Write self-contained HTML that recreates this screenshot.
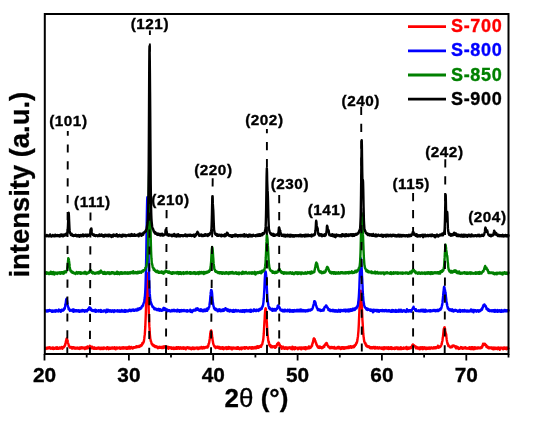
<!DOCTYPE html>
<html><head><meta charset="utf-8"><style>html,body{margin:0;padding:0;background:#fff;}svg{display:block;}</style></head>
<body><svg width="550" height="435" viewBox="0 0 550 435">
<rect width="550" height="435" fill="#fff"/>
<g><polyline fill="none" stroke="#ff0000" stroke-width="2.4" stroke-linejoin="round" points="45.00,348.3 45.17,348.4 45.34,348.1 45.51,347.9 45.68,348.0 45.85,347.8 46.02,348.3 46.19,348.9 46.36,348.0 46.53,348.0 46.70,348.5 46.87,348.4 47.04,348.3 47.21,347.8 47.38,348.2 47.55,348.6 47.72,347.6 47.89,348.0 48.06,347.4 48.23,347.7 48.40,347.4 48.57,348.1 48.74,347.7 48.91,348.4 49.08,348.3 49.25,348.2 49.42,347.1 49.59,348.0 49.76,348.2 49.93,348.3 50.10,347.5 50.27,348.0 50.44,347.8 50.61,347.9 50.78,348.7 50.95,347.9 51.12,348.2 51.29,348.6 51.46,348.0 51.63,348.2 51.80,348.3 51.97,348.2 52.14,347.7 52.31,348.2 52.48,348.8 52.65,347.5 52.82,348.6 52.99,348.3 53.16,347.9 53.33,349.1 53.50,348.5 53.67,347.7 53.84,348.2 54.01,348.5 54.18,348.1 54.35,348.5 54.52,348.2 54.69,348.5 54.86,348.8 55.03,347.9 55.20,348.3 55.37,348.0 55.54,348.2 55.71,347.6 55.88,347.9 56.05,348.1 56.22,348.6 56.39,348.7 56.56,347.6 56.73,347.8 56.90,348.4 57.07,347.2 57.24,347.9 57.41,348.1 57.58,348.7 57.75,348.4 57.92,348.0 58.09,347.9 58.26,348.0 58.43,348.8 58.60,347.9 58.77,347.9 58.94,348.2 59.11,348.0 59.28,348.0 59.45,347.5 59.62,348.0 59.79,347.8 59.96,348.5 60.13,348.3 60.30,348.0 60.47,348.3 60.64,347.8 60.81,348.4 60.98,347.9 61.15,348.2 61.32,347.3 61.49,348.0 61.66,347.1 61.83,346.9 62.00,347.6 62.17,347.3 62.34,347.8 62.51,348.7 62.68,347.3 62.85,347.3 63.02,347.6 63.19,347.7 63.36,347.3 63.53,347.2 63.70,347.5 63.87,347.3 64.04,346.5 64.21,346.8 64.38,346.6 64.55,345.8 64.72,346.1 64.89,345.2 65.06,345.6 65.23,344.7 65.40,344.1 65.57,343.1 65.74,342.6 65.91,341.1 66.08,340.7 66.25,340.7 66.42,339.0 66.59,339.9 66.76,338.5 66.93,339.6 67.10,339.1 67.27,340.3 67.44,340.5 67.61,340.4 67.78,342.4 67.95,343.2 68.12,343.2 68.29,343.8 68.46,344.5 68.63,344.6 68.80,346.0 68.97,345.7 69.14,346.2 69.31,346.2 69.48,346.5 69.65,346.4 69.82,347.6 69.99,347.1 70.16,347.7 70.33,347.4 70.50,347.1 70.67,347.4 70.84,347.3 71.01,347.6 71.18,347.5 71.35,347.6 71.52,347.1 71.69,347.4 71.86,348.5 72.03,347.5 72.20,347.4 72.37,348.0 72.54,348.5 72.71,347.2 72.88,347.8 73.05,347.7 73.22,347.2 73.39,348.3 73.56,348.0 73.73,348.0 73.90,347.7 74.07,348.2 74.24,347.8 74.41,348.0 74.58,347.5 74.75,347.5 74.92,348.7 75.09,347.8 75.26,348.2 75.43,348.1 75.60,347.9 75.77,347.9 75.94,348.4 76.11,348.0 76.28,348.0 76.45,348.1 76.62,348.6 76.79,348.4 76.96,348.3 77.13,347.9 77.30,347.5 77.47,348.6 77.64,348.6 77.81,348.1 77.98,348.4 78.15,348.5 78.32,348.5 78.49,348.6 78.66,347.9 78.83,348.8 79.00,347.6 79.17,348.5 79.34,348.4 79.51,348.6 79.68,349.0 79.85,348.8 80.02,347.6 80.19,347.4 80.36,348.5 80.53,347.7 80.70,348.2 80.87,348.5 81.04,347.4 81.21,347.2 81.38,348.3 81.55,348.2 81.72,348.1 81.89,348.2 82.06,347.8 82.23,347.5 82.40,348.1 82.57,347.7 82.74,347.4 82.91,348.4 83.08,348.1 83.25,348.3 83.42,347.7 83.59,347.9 83.76,347.7 83.93,347.8 84.10,348.2 84.27,347.8 84.44,348.3 84.61,348.3 84.78,349.0 84.95,347.5 85.12,348.5 85.29,348.1 85.46,348.1 85.63,347.5 85.80,347.9 85.97,348.4 86.14,348.0 86.31,348.1 86.48,347.9 86.65,348.6 86.82,348.0 86.99,347.0 87.16,347.7 87.33,347.1 87.50,346.4 87.67,347.6 87.84,348.4 88.01,347.7 88.18,347.1 88.35,347.1 88.52,347.8 88.69,347.2 88.86,347.0 89.03,346.7 89.20,346.6 89.37,346.8 89.54,346.5 89.71,346.3 89.88,345.8 90.05,346.6 90.22,346.2 90.39,347.1 90.56,346.3 90.73,347.0 90.90,347.2 91.07,346.8 91.24,348.3 91.41,348.3 91.58,347.5 91.75,348.2 91.92,348.0 92.09,346.7 92.26,348.1 92.43,348.0 92.60,348.1 92.77,347.6 92.94,347.9 93.11,348.0 93.28,348.6 93.45,348.2 93.62,348.1 93.79,348.8 93.96,347.9 94.13,347.9 94.30,347.3 94.47,348.8 94.64,348.6 94.81,348.6 94.98,348.5 95.15,348.2 95.32,348.3 95.49,348.0 95.66,348.1 95.83,348.2 96.00,348.9 96.17,348.4 96.34,348.2 96.51,347.9 96.68,347.9 96.85,348.9 97.02,348.4 97.19,348.2 97.36,348.0 97.53,347.7 97.70,348.2 97.87,348.6 98.04,348.0 98.21,348.1 98.38,348.1 98.55,348.2 98.72,347.5 98.89,348.1 99.06,347.8 99.23,348.6 99.40,347.9 99.57,348.5 99.74,348.9 99.91,348.1 100.08,347.9 100.25,348.3 100.42,348.2 100.59,347.8 100.76,348.4 100.93,349.1 101.10,348.1 101.27,348.1 101.44,347.7 101.61,348.3 101.78,347.6 101.95,347.7 102.12,348.8 102.29,347.8 102.46,348.7 102.63,348.9 102.80,348.3 102.97,348.5 103.14,349.1 103.31,348.1 103.48,347.9 103.65,347.6 103.82,348.2 103.99,348.9 104.16,348.6 104.33,347.8 104.50,347.8 104.67,348.0 104.84,348.3 105.01,348.1 105.18,348.3 105.35,348.3 105.52,348.1 105.69,348.2 105.86,348.3 106.03,348.2 106.20,348.4 106.37,349.0 106.54,348.5 106.71,348.2 106.88,347.4 107.05,348.4 107.22,347.3 107.39,347.6 107.56,348.6 107.73,348.5 107.90,348.1 108.07,347.4 108.24,348.0 108.41,347.9 108.58,348.5 108.75,349.2 108.92,348.3 109.09,347.8 109.26,347.7 109.43,348.2 109.60,348.1 109.77,347.7 109.94,348.2 110.11,347.7 110.28,348.7 110.45,348.7 110.62,348.7 110.79,348.0 110.96,348.4 111.13,348.1 111.30,348.0 111.47,348.0 111.64,347.6 111.81,347.5 111.98,348.5 112.15,348.1 112.32,348.3 112.49,348.6 112.66,347.4 112.83,347.8 113.00,348.3 113.17,348.4 113.34,348.0 113.51,348.6 113.68,348.3 113.85,347.6 114.02,347.8 114.19,348.5 114.36,348.4 114.53,347.3 114.70,348.8 114.87,348.4 115.04,348.8 115.21,348.0 115.38,348.0 115.55,347.7 115.72,349.3 115.89,348.1 116.06,348.9 116.23,347.9 116.40,348.2 116.57,347.4 116.74,348.0 116.91,348.6 117.08,347.6 117.25,348.6 117.42,348.3 117.59,347.7 117.76,347.9 117.93,347.9 118.10,348.1 118.27,347.9 118.44,347.8 118.61,348.0 118.78,347.7 118.95,347.6 119.12,348.1 119.29,348.5 119.46,347.4 119.63,348.1 119.80,347.8 119.97,347.7 120.14,348.5 120.31,347.9 120.48,348.8 120.65,347.8 120.82,348.3 120.99,348.0 121.16,347.8 121.33,348.4 121.50,348.0 121.67,348.4 121.84,348.1 122.01,347.6 122.18,348.0 122.35,348.1 122.52,348.5 122.69,347.7 122.86,348.1 123.03,347.3 123.20,348.4 123.37,347.6 123.54,347.3 123.71,348.0 123.88,348.6 124.05,347.4 124.22,347.6 124.39,347.7 124.56,347.5 124.73,348.2 124.90,347.7 125.07,347.7 125.24,348.3 125.41,347.7 125.58,348.2 125.75,347.6 125.92,347.5 126.09,347.2 126.26,348.9 126.43,347.9 126.60,348.1 126.77,348.0 126.94,348.1 127.11,348.0 127.28,348.8 127.45,347.5 127.62,347.3 127.79,347.5 127.96,347.4 128.13,348.3 128.30,348.3 128.47,347.5 128.64,347.3 128.81,347.8 128.98,348.6 129.15,346.7 129.32,348.2 129.49,347.4 129.66,348.4 129.83,347.4 130.00,347.8 130.17,347.2 130.34,347.4 130.51,348.5 130.68,348.2 130.85,347.7 131.02,347.5 131.19,347.0 131.36,347.6 131.53,347.8 131.70,347.8 131.87,347.8 132.04,347.3 132.21,347.7 132.38,347.7 132.55,348.3 132.72,348.6 132.89,347.7 133.06,347.4 133.23,347.7 133.40,347.4 133.57,347.3 133.74,347.6 133.91,347.2 134.08,347.9 134.25,347.6 134.42,347.7 134.59,347.5 134.76,347.2 134.93,347.1 135.10,347.4 135.27,347.2 135.44,347.6 135.61,347.4 135.78,346.8 135.95,347.4 136.12,346.8 136.29,347.1 136.46,347.2 136.63,346.3 136.80,347.3 136.97,347.3 137.14,347.1 137.31,347.0 137.48,346.9 137.65,346.6 137.82,346.9 137.99,346.7 138.16,347.0 138.33,346.4 138.50,346.9 138.67,346.9 138.84,346.7 139.01,346.5 139.18,346.9 139.35,345.8 139.52,346.7 139.69,346.5 139.86,346.4 140.03,346.4 140.20,345.8 140.37,345.9 140.54,346.2 140.71,346.0 140.88,345.8 141.05,344.9 141.22,345.7 141.39,345.8 141.56,345.6 141.73,345.1 141.90,344.1 142.07,345.0 142.24,344.3 142.41,343.0 142.58,344.1 142.75,343.0 142.92,342.7 143.09,342.7 143.26,343.2 143.43,342.0 143.60,341.8 143.77,341.9 143.94,341.1 144.11,339.6 144.28,338.5 144.45,336.9 144.62,335.7 144.79,334.4 144.96,332.2 145.13,329.4 145.30,326.7 145.47,322.2 145.64,318.3 145.81,313.8 145.98,308.4 146.15,302.9 146.32,296.5 146.49,290.2 146.66,284.8 146.83,279.3 147.00,275.3 147.17,274.1 147.34,273.3 147.51,274.6 147.68,276.4 147.85,280.9 148.02,285.8 148.19,291.2 148.36,296.5 148.53,303.2 148.70,309.3 148.87,314.3 149.04,318.6 149.21,323.0 149.38,326.9 149.55,328.4 149.72,332.1 149.89,334.5 150.06,336.3 150.23,338.2 150.40,339.2 150.57,339.8 150.74,340.6 150.91,341.5 151.08,341.4 151.25,342.2 151.42,343.0 151.59,343.9 151.76,343.3 151.93,343.6 152.10,344.0 152.27,344.8 152.44,344.4 152.61,345.3 152.78,344.4 152.95,344.9 153.12,345.1 153.29,345.7 153.46,345.9 153.63,344.9 153.80,345.3 153.97,346.0 154.14,345.6 154.31,345.4 154.48,346.6 154.65,346.4 154.82,346.5 154.99,346.2 155.16,346.9 155.33,346.4 155.50,347.1 155.67,346.2 155.84,346.3 156.01,346.9 156.18,346.5 156.35,347.2 156.52,347.0 156.69,346.5 156.86,347.0 157.03,346.9 157.20,347.5 157.37,346.8 157.54,346.9 157.71,347.7 157.88,348.2 158.05,348.1 158.22,347.3 158.39,347.4 158.56,348.0 158.73,347.3 158.90,346.9 159.07,347.4 159.24,347.6 159.41,347.0 159.58,346.7 159.75,346.8 159.92,347.8 160.09,347.1 160.26,347.4 160.43,347.6 160.60,347.8 160.77,347.4 160.94,347.7 161.11,347.1 161.28,347.4 161.45,347.1 161.62,348.0 161.79,347.5 161.96,347.2 162.13,347.3 162.30,347.3 162.47,347.7 162.64,346.6 162.81,346.7 162.98,346.9 163.15,348.1 163.32,347.3 163.49,346.6 163.66,346.9 163.83,347.4 164.00,346.3 164.17,346.2 164.34,346.9 164.51,346.7 164.68,346.8 164.85,346.4 165.02,347.7 165.19,347.7 165.36,347.3 165.53,347.5 165.70,346.4 165.87,347.7 166.04,347.4 166.21,347.8 166.38,348.0 166.55,347.6 166.72,347.0 166.89,347.9 167.06,347.5 167.23,347.7 167.40,347.6 167.57,347.7 167.74,346.8 167.91,348.4 168.08,348.0 168.25,348.4 168.42,348.8 168.59,347.9 168.76,347.1 168.93,347.5 169.10,347.4 169.27,347.7 169.44,348.0 169.61,347.1 169.78,348.1 169.95,347.3 170.12,348.1 170.29,347.9 170.46,347.9 170.63,348.0 170.80,347.8 170.97,347.7 171.14,347.3 171.31,348.0 171.48,348.9 171.65,348.9 171.82,348.6 171.99,348.4 172.16,347.7 172.33,348.7 172.50,348.0 172.67,348.0 172.84,347.9 173.01,348.1 173.18,347.9 173.35,348.0 173.52,347.6 173.69,347.9 173.86,349.1 174.03,348.0 174.20,348.0 174.37,348.3 174.54,348.4 174.71,347.6 174.88,348.0 175.05,348.5 175.22,348.2 175.39,348.2 175.56,348.8 175.73,347.8 175.90,348.1 176.07,347.9 176.24,348.8 176.41,347.2 176.58,347.8 176.75,347.9 176.92,348.4 177.09,348.4 177.26,348.7 177.43,347.4 177.60,348.5 177.77,348.0 177.94,347.8 178.11,348.4 178.28,347.7 178.45,347.2 178.62,348.0 178.79,347.5 178.96,347.8 179.13,348.3 179.30,348.3 179.47,348.8 179.64,348.0 179.81,347.4 179.98,347.8 180.15,347.7 180.32,347.6 180.49,348.3 180.66,347.8 180.83,347.3 181.00,348.5 181.17,348.1 181.34,348.3 181.51,348.2 181.68,348.4 181.85,348.2 182.02,348.7 182.19,348.3 182.36,348.3 182.53,348.3 182.70,347.5 182.87,348.1 183.04,348.0 183.21,348.2 183.38,347.5 183.55,348.9 183.72,348.2 183.89,347.6 184.06,347.4 184.23,348.0 184.40,348.1 184.57,347.8 184.74,348.2 184.91,347.9 185.08,348.4 185.25,347.8 185.42,348.1 185.59,348.6 185.76,349.3 185.93,347.7 186.10,347.9 186.27,347.8 186.44,348.5 186.61,347.6 186.78,347.9 186.95,348.1 187.12,347.7 187.29,347.7 187.46,347.9 187.63,347.2 187.80,347.5 187.97,348.0 188.14,348.2 188.31,348.1 188.48,347.4 188.65,347.9 188.82,348.5 188.99,348.4 189.16,348.1 189.33,347.8 189.50,348.4 189.67,347.9 189.84,347.6 190.01,347.8 190.18,348.8 190.35,348.2 190.52,348.7 190.69,347.9 190.86,348.6 191.03,347.9 191.20,348.1 191.37,349.3 191.54,348.5 191.71,347.9 191.88,348.1 192.05,348.3 192.22,348.7 192.39,347.9 192.56,347.4 192.73,348.0 192.90,348.1 193.07,348.2 193.24,348.7 193.41,348.3 193.58,348.5 193.75,347.6 193.92,348.5 194.09,349.1 194.26,348.5 194.43,348.2 194.60,348.2 194.77,348.9 194.94,347.7 195.11,348.1 195.28,348.3 195.45,348.4 195.62,347.9 195.79,348.2 195.96,348.0 196.13,348.2 196.30,348.0 196.47,347.6 196.64,348.1 196.81,348.5 196.98,347.7 197.15,348.0 197.32,348.4 197.49,347.6 197.66,348.2 197.83,347.6 198.00,348.6 198.17,349.1 198.34,349.0 198.51,348.0 198.68,348.4 198.85,348.1 199.02,348.1 199.19,348.7 199.36,347.4 199.53,348.5 199.70,348.0 199.87,348.6 200.04,348.1 200.21,347.7 200.38,348.1 200.55,348.3 200.72,348.0 200.89,348.2 201.06,347.7 201.23,347.0 201.40,348.4 201.57,348.3 201.74,348.0 201.91,347.9 202.08,348.4 202.25,347.7 202.42,347.6 202.59,347.8 202.76,348.4 202.93,347.2 203.10,348.4 203.27,347.5 203.44,347.3 203.61,348.3 203.78,347.7 203.95,347.1 204.12,347.5 204.29,348.1 204.46,348.2 204.63,347.4 204.80,347.8 204.97,347.9 205.14,347.2 205.31,347.7 205.48,347.4 205.65,347.2 205.82,347.1 205.99,347.3 206.16,347.3 206.33,346.9 206.50,346.9 206.67,347.6 206.84,347.1 207.01,347.3 207.18,347.3 207.35,346.9 207.52,347.5 207.69,346.0 207.86,346.5 208.03,345.8 208.20,346.5 208.37,346.0 208.54,343.9 208.71,343.9 208.88,344.0 209.05,343.3 209.22,342.3 209.39,341.0 209.56,340.0 209.73,338.9 209.90,337.2 210.07,336.3 210.24,333.4 210.41,333.4 210.58,331.6 210.75,331.7 210.92,330.7 211.09,330.4 211.26,331.2 211.43,331.2 211.60,332.0 211.77,332.8 211.94,334.7 212.11,336.3 212.28,337.8 212.45,338.6 212.62,340.4 212.79,341.0 212.96,342.0 213.13,343.1 213.30,344.1 213.47,344.1 213.64,344.7 213.81,345.1 213.98,345.6 214.15,345.5 214.32,346.6 214.49,346.2 214.66,346.7 214.83,346.3 215.00,346.9 215.17,347.1 215.34,346.8 215.51,348.0 215.68,347.3 215.85,348.0 216.02,347.7 216.19,347.0 216.36,347.2 216.53,347.6 216.70,347.5 216.87,347.5 217.04,347.4 217.21,346.8 217.38,347.5 217.55,346.6 217.72,347.8 217.89,347.4 218.06,347.4 218.23,347.6 218.40,347.9 218.57,347.1 218.74,347.0 218.91,347.3 219.08,346.9 219.25,347.4 219.42,348.6 219.59,347.4 219.76,348.2 219.93,347.3 220.10,348.0 220.27,347.8 220.44,347.9 220.61,348.2 220.78,348.7 220.95,348.0 221.12,348.0 221.29,347.5 221.46,348.2 221.63,347.9 221.80,348.4 221.97,348.0 222.14,348.8 222.31,347.1 222.48,347.9 222.65,348.4 222.82,347.9 222.99,347.7 223.16,347.9 223.33,347.4 223.50,348.1 223.67,349.2 223.84,348.6 224.01,347.6 224.18,347.7 224.35,347.9 224.52,348.5 224.69,347.7 224.86,347.8 225.03,348.5 225.20,348.5 225.37,347.9 225.54,347.6 225.71,347.4 225.88,347.8 226.05,347.1 226.22,348.4 226.39,347.8 226.56,348.3 226.73,349.0 226.90,348.6 227.07,347.6 227.24,348.5 227.41,348.6 227.58,347.8 227.75,347.7 227.92,348.1 228.09,347.4 228.26,348.8 228.43,347.0 228.60,347.6 228.77,348.0 228.94,348.0 229.11,348.2 229.28,348.3 229.45,348.0 229.62,348.6 229.79,347.2 229.96,348.1 230.13,347.8 230.30,348.2 230.47,348.2 230.64,347.7 230.81,347.9 230.98,348.5 231.15,348.3 231.32,347.8 231.49,349.1 231.66,349.2 231.83,347.5 232.00,348.3 232.17,349.3 232.34,348.5 232.51,348.2 232.68,348.1 232.85,347.9 233.02,348.1 233.19,347.9 233.36,348.5 233.53,348.0 233.70,348.0 233.87,347.6 234.04,348.1 234.21,347.7 234.38,348.1 234.55,348.6 234.72,348.3 234.89,348.4 235.06,348.3 235.23,348.2 235.40,348.1 235.57,348.0 235.74,348.5 235.91,347.7 236.08,348.8 236.25,348.2 236.42,347.8 236.59,347.9 236.76,347.8 236.93,348.2 237.10,347.8 237.27,348.7 237.44,347.8 237.61,347.1 237.78,347.8 237.95,347.2 238.12,348.1 238.29,348.6 238.46,348.4 238.63,347.5 238.80,347.8 238.97,348.9 239.14,348.3 239.31,348.1 239.48,348.6 239.65,349.2 239.82,348.7 239.99,348.2 240.16,348.3 240.33,348.4 240.50,347.9 240.67,347.7 240.84,348.2 241.01,347.7 241.18,348.1 241.35,348.2 241.52,349.2 241.69,347.7 241.86,348.1 242.03,348.0 242.20,348.3 242.37,348.6 242.54,347.9 242.71,347.7 242.88,347.4 243.05,347.7 243.22,348.4 243.39,348.1 243.56,347.7 243.73,347.9 243.90,348.1 244.07,348.3 244.24,347.8 244.41,348.0 244.58,347.3 244.75,347.6 244.92,348.8 245.09,347.1 245.26,347.9 245.43,348.2 245.60,347.9 245.77,347.7 245.94,348.0 246.11,348.1 246.28,348.0 246.45,347.2 246.62,348.0 246.79,347.7 246.96,347.8 247.13,348.2 247.30,348.3 247.47,348.5 247.64,347.8 247.81,348.5 247.98,348.6 248.15,348.5 248.32,348.7 248.49,348.0 248.66,347.9 248.83,348.4 249.00,347.4 249.17,348.1 249.34,347.8 249.51,347.8 249.68,347.2 249.85,347.6 250.02,348.0 250.19,348.4 250.36,348.4 250.53,347.9 250.70,347.9 250.87,347.6 251.04,348.1 251.21,347.8 251.38,348.2 251.55,348.7 251.72,347.9 251.89,347.2 252.06,347.5 252.23,347.2 252.40,347.3 252.57,348.5 252.74,348.0 252.91,347.2 253.08,348.1 253.25,348.4 253.42,347.7 253.59,347.5 253.76,347.6 253.93,347.9 254.10,348.1 254.27,348.3 254.44,348.3 254.61,348.3 254.78,348.3 254.95,348.0 255.12,347.0 255.29,347.6 255.46,347.8 255.63,347.4 255.80,348.0 255.97,347.4 256.14,347.1 256.31,348.2 256.48,347.8 256.65,347.6 256.82,347.9 256.99,347.9 257.16,347.5 257.33,346.2 257.50,347.0 257.67,347.1 257.84,346.8 258.01,347.3 258.18,347.7 258.35,346.9 258.52,346.5 258.69,347.9 258.86,346.7 259.03,346.3 259.20,346.9 259.37,346.9 259.54,346.4 259.71,346.9 259.88,346.3 260.05,346.0 260.22,346.4 260.39,346.5 260.56,345.8 260.73,346.1 260.90,345.8 261.07,346.9 261.24,345.1 261.41,345.9 261.58,345.0 261.75,344.7 261.92,344.8 262.09,344.6 262.26,344.3 262.43,343.4 262.60,342.4 262.77,341.7 262.94,341.3 263.11,340.2 263.28,339.3 263.45,337.3 263.62,335.7 263.79,333.7 263.96,330.7 264.13,327.2 264.30,324.4 264.47,321.1 264.64,319.3 264.81,315.1 264.98,313.3 265.15,310.8 265.32,309.8 265.49,308.7 265.66,308.3 265.83,309.0 266.00,310.5 266.17,312.4 266.34,314.4 266.51,317.2 266.68,320.8 266.85,322.2 267.02,326.0 267.19,328.2 267.36,331.3 267.53,333.8 267.70,335.5 267.87,337.6 268.04,338.0 268.21,340.5 268.38,340.7 268.55,342.2 268.72,342.7 268.89,342.0 269.06,343.4 269.23,344.2 269.40,345.2 269.57,344.9 269.74,345.1 269.91,344.6 270.08,346.1 270.25,346.4 270.42,345.7 270.59,345.8 270.76,345.3 270.93,346.5 271.10,347.4 271.27,346.6 271.44,347.0 271.61,346.7 271.78,346.1 271.95,347.2 272.12,346.1 272.29,346.6 272.46,346.9 272.63,347.2 272.80,347.1 272.97,347.1 273.14,346.6 273.31,346.4 273.48,347.0 273.65,346.7 273.82,346.4 273.99,346.5 274.16,346.8 274.33,346.2 274.50,346.4 274.67,346.3 274.84,347.1 275.01,347.2 275.18,347.9 275.35,346.2 275.52,346.5 275.69,347.1 275.86,346.5 276.03,346.3 276.20,347.0 276.37,345.9 276.54,345.3 276.71,344.9 276.88,345.3 277.05,345.0 277.22,343.9 277.39,343.7 277.56,344.1 277.73,343.9 277.90,343.1 278.07,343.6 278.24,343.6 278.41,342.6 278.58,343.5 278.75,344.0 278.92,343.8 279.09,343.4 279.26,344.5 279.43,345.3 279.60,346.0 279.77,344.7 279.94,347.1 280.11,345.7 280.28,346.9 280.45,347.2 280.62,347.3 280.79,347.1 280.96,346.6 281.13,347.5 281.30,347.0 281.47,346.3 281.64,348.8 281.81,347.9 281.98,348.4 282.15,347.2 282.32,348.3 282.49,348.4 282.66,348.4 282.83,347.7 283.00,347.2 283.17,347.7 283.34,346.8 283.51,347.0 283.68,347.9 283.85,347.4 284.02,347.8 284.19,347.8 284.36,348.8 284.53,348.5 284.70,347.9 284.87,348.5 285.04,347.6 285.21,347.8 285.38,348.4 285.55,347.4 285.72,347.8 285.89,347.4 286.06,348.0 286.23,348.7 286.40,347.6 286.57,348.1 286.74,347.6 286.91,347.5 287.08,347.5 287.25,348.7 287.42,349.1 287.59,348.2 287.76,347.7 287.93,348.3 288.10,347.9 288.27,348.4 288.44,348.2 288.61,348.2 288.78,348.3 288.95,347.8 289.12,347.9 289.29,347.3 289.46,347.9 289.63,347.4 289.80,348.0 289.97,347.6 290.14,348.1 290.31,348.3 290.48,347.4 290.65,347.7 290.82,347.7 290.99,348.4 291.16,348.9 291.33,348.5 291.50,347.9 291.67,348.7 291.84,347.4 292.01,348.8 292.18,347.8 292.35,346.8 292.52,349.3 292.69,348.8 292.86,347.6 293.03,348.2 293.20,348.0 293.37,348.1 293.54,347.4 293.71,347.8 293.88,348.3 294.05,348.2 294.22,348.6 294.39,348.1 294.56,349.2 294.73,347.8 294.90,348.2 295.07,347.2 295.24,347.5 295.41,348.7 295.58,347.7 295.75,348.3 295.92,348.1 296.09,347.6 296.26,348.0 296.43,347.9 296.60,347.9 296.77,348.4 296.94,348.4 297.11,347.8 297.28,347.7 297.45,348.2 297.62,348.1 297.79,348.6 297.96,349.3 298.13,348.5 298.30,348.1 298.47,348.0 298.64,347.7 298.81,347.7 298.98,347.6 299.15,347.9 299.32,347.9 299.49,348.4 299.66,347.9 299.83,348.0 300.00,347.5 300.17,348.8 300.34,348.3 300.51,348.9 300.68,348.4 300.85,348.8 301.02,348.0 301.19,348.4 301.36,349.3 301.53,347.5 301.70,348.6 301.87,348.8 302.04,348.3 302.21,348.4 302.38,348.6 302.55,347.8 302.72,348.2 302.89,347.7 303.06,347.7 303.23,347.8 303.40,348.0 303.57,348.1 303.74,348.2 303.91,347.4 304.08,348.9 304.25,348.5 304.42,348.3 304.59,347.8 304.76,348.0 304.93,348.2 305.10,348.2 305.27,347.2 305.44,348.3 305.61,349.3 305.78,347.1 305.95,348.4 306.12,348.1 306.29,347.9 306.46,348.5 306.63,347.4 306.80,348.0 306.97,348.6 307.14,347.8 307.31,347.7 307.48,347.9 307.65,347.6 307.82,348.5 307.99,347.4 308.16,348.2 308.33,347.2 308.50,348.0 308.67,347.6 308.84,346.5 309.01,347.6 309.18,347.1 309.35,347.3 309.52,348.2 309.69,346.9 309.86,346.9 310.03,348.0 310.20,347.3 310.37,347.9 310.54,347.3 310.71,346.6 310.88,346.8 311.05,347.3 311.22,347.0 311.39,346.3 311.56,346.1 311.73,345.7 311.90,345.1 312.07,345.8 312.24,344.5 312.41,343.4 312.58,343.1 312.75,343.1 312.92,342.4 313.09,341.3 313.26,340.4 313.43,340.1 313.60,338.8 313.77,338.5 313.94,339.2 314.11,338.4 314.28,338.8 314.45,339.4 314.62,339.3 314.79,339.4 314.96,340.8 315.13,340.6 315.30,340.7 315.47,341.8 315.64,342.3 315.81,342.3 315.98,343.3 316.15,343.8 316.32,343.4 316.49,344.7 316.66,345.1 316.83,345.4 317.00,345.1 317.17,346.0 317.34,346.4 317.51,346.6 317.68,346.2 317.85,347.2 318.02,346.4 318.19,347.0 318.36,347.8 318.53,346.9 318.70,347.0 318.87,347.8 319.04,347.2 319.21,347.3 319.38,347.5 319.55,347.9 319.72,346.5 319.89,347.1 320.06,347.1 320.23,347.0 320.40,347.1 320.57,347.2 320.74,347.7 320.91,347.1 321.08,347.6 321.25,347.7 321.42,347.2 321.59,347.6 321.76,348.3 321.93,347.7 322.10,347.2 322.27,347.4 322.44,347.0 322.61,347.5 322.78,347.7 322.95,346.8 323.12,347.0 323.29,347.5 323.46,346.7 323.63,346.8 323.80,346.1 323.97,346.0 324.14,345.9 324.31,346.8 324.48,345.4 324.65,345.0 324.82,344.7 324.99,344.6 325.16,344.6 325.33,344.2 325.50,344.8 325.67,343.8 325.84,344.2 326.01,343.7 326.18,343.9 326.35,343.0 326.52,343.8 326.69,344.0 326.86,344.1 327.03,343.5 327.20,345.2 327.37,344.9 327.54,345.2 327.71,345.5 327.88,345.8 328.05,346.3 328.22,345.8 328.39,346.2 328.56,346.9 328.73,347.0 328.90,346.9 329.07,347.0 329.24,346.9 329.41,347.4 329.58,348.0 329.75,347.1 329.92,348.3 330.09,348.0 330.26,347.5 330.43,348.1 330.60,347.1 330.77,347.0 330.94,347.2 331.11,347.6 331.28,347.7 331.45,347.6 331.62,347.9 331.79,346.9 331.96,348.1 332.13,347.2 332.30,347.6 332.47,347.7 332.64,347.4 332.81,347.3 332.98,347.5 333.15,347.9 333.32,348.2 333.49,348.2 333.66,347.5 333.83,347.6 334.00,347.5 334.17,348.2 334.34,347.0 334.51,348.5 334.68,347.8 334.85,347.6 335.02,348.1 335.19,348.4 335.36,348.1 335.53,348.5 335.70,348.0 335.87,348.5 336.04,348.5 336.21,347.9 336.38,348.6 336.55,348.1 336.72,348.0 336.89,347.6 337.06,347.9 337.23,348.3 337.40,347.4 337.57,348.3 337.74,348.1 337.91,348.1 338.08,347.0 338.25,347.9 338.42,348.3 338.59,347.6 338.76,348.0 338.93,346.9 339.10,348.3 339.27,347.7 339.44,348.4 339.61,347.1 339.78,348.3 339.95,347.9 340.12,348.3 340.29,347.5 340.46,347.7 340.63,349.0 340.80,347.6 340.97,347.6 341.14,347.8 341.31,347.5 341.48,348.5 341.65,348.7 341.82,347.6 341.99,347.2 342.16,348.5 342.33,348.4 342.50,348.3 342.67,348.4 342.84,347.5 343.01,347.8 343.18,347.3 343.35,347.3 343.52,348.3 343.69,347.6 343.86,348.9 344.03,347.9 344.20,347.6 344.37,348.2 344.54,348.7 344.71,348.1 344.88,347.3 345.05,348.0 345.22,348.4 345.39,347.6 345.56,347.4 345.73,348.2 345.90,347.8 346.07,347.3 346.24,347.6 346.41,347.4 346.58,347.9 346.75,347.8 346.92,348.2 347.09,348.0 347.26,347.0 347.43,347.9 347.60,348.1 347.77,347.8 347.94,348.1 348.11,347.4 348.28,347.2 348.45,348.0 348.62,347.1 348.79,346.6 348.96,348.0 349.13,347.2 349.30,347.3 349.47,346.8 349.64,346.8 349.81,346.9 349.98,347.2 350.15,347.5 350.32,346.3 350.49,347.6 350.66,346.7 350.83,346.8 351.00,347.5 351.17,347.1 351.34,346.4 351.51,347.9 351.68,346.7 351.85,347.1 352.02,347.1 352.19,347.5 352.36,346.7 352.53,347.3 352.70,346.4 352.87,347.2 353.04,346.3 353.21,346.4 353.38,347.3 353.55,346.5 353.72,346.4 353.89,347.2 354.06,346.3 354.23,345.7 354.40,346.3 354.57,345.3 354.74,346.2 354.91,346.1 355.08,345.1 355.25,344.9 355.42,345.1 355.59,344.9 355.76,344.2 355.93,344.7 356.10,343.2 356.27,343.7 356.44,343.4 356.61,343.1 356.78,342.9 356.95,341.7 357.12,341.9 357.29,340.9 357.46,339.8 357.63,338.4 357.80,337.2 357.97,336.4 358.14,334.0 358.31,332.3 358.48,330.3 358.65,327.4 358.82,324.4 358.99,319.9 359.16,315.7 359.33,312.4 359.50,307.8 359.67,303.9 359.84,299.3 360.01,296.3 360.18,293.4 360.35,291.5 360.52,290.6 360.69,290.6 360.86,291.4 361.03,293.0 361.20,295.4 361.37,297.2 361.54,301.1 361.71,303.6 361.88,307.6 362.05,310.9 362.22,314.6 362.39,319.3 362.56,321.7 362.73,324.4 362.90,327.6 363.07,330.4 363.24,333.8 363.41,334.9 363.58,336.9 363.75,337.4 363.92,339.3 364.09,340.4 364.26,341.8 364.43,341.4 364.60,342.6 364.77,343.0 364.94,342.8 365.11,343.6 365.28,343.8 365.45,343.2 365.62,344.8 365.79,345.0 365.96,344.7 366.13,344.5 366.30,346.0 366.47,345.6 366.64,346.1 366.81,346.4 366.98,345.6 367.15,346.3 367.32,346.0 367.49,346.2 367.66,346.2 367.83,346.4 368.00,346.9 368.17,346.6 368.34,346.5 368.51,346.5 368.68,346.9 368.85,346.4 369.02,346.6 369.19,346.9 369.36,346.7 369.53,346.9 369.70,346.8 369.87,348.0 370.04,347.7 370.21,347.4 370.38,347.2 370.55,348.2 370.72,347.4 370.89,347.3 371.06,347.5 371.23,347.5 371.40,348.0 371.57,347.4 371.74,348.4 371.91,347.1 372.08,347.8 372.25,347.1 372.42,348.4 372.59,347.4 372.76,347.5 372.93,348.0 373.10,348.2 373.27,347.1 373.44,347.5 373.61,347.0 373.78,347.7 373.95,347.6 374.12,347.5 374.29,347.4 374.46,347.6 374.63,347.4 374.80,348.0 374.97,348.5 375.14,346.9 375.31,347.7 375.48,347.6 375.65,348.0 375.82,347.4 375.99,347.8 376.16,347.4 376.33,348.2 376.50,347.9 376.67,347.8 376.84,348.0 377.01,347.8 377.18,347.2 377.35,348.2 377.52,348.0 377.69,347.8 377.86,348.4 378.03,348.5 378.20,347.4 378.37,347.6 378.54,348.6 378.71,348.6 378.88,347.6 379.05,347.4 379.22,347.7 379.39,347.8 379.56,347.3 379.73,348.0 379.90,347.4 380.07,347.4 380.24,348.4 380.41,347.7 380.58,348.0 380.75,348.3 380.92,348.4 381.09,347.9 381.26,348.0 381.43,347.7 381.60,348.8 381.77,348.3 381.94,347.5 382.11,348.0 382.28,348.4 382.45,348.3 382.62,348.9 382.79,348.7 382.96,347.8 383.13,348.0 383.30,347.5 383.47,348.2 383.64,348.1 383.81,349.3 383.98,348.1 384.15,347.1 384.32,347.8 384.49,348.1 384.66,347.5 384.83,347.7 385.00,347.9 385.17,348.2 385.34,348.0 385.51,347.7 385.68,348.5 385.85,347.9 386.02,347.9 386.19,347.5 386.36,347.8 386.53,348.4 386.70,347.4 386.87,348.1 387.04,348.4 387.21,347.9 387.38,348.2 387.55,347.6 387.72,348.7 387.89,348.6 388.06,348.2 388.23,347.3 388.40,347.7 388.57,348.6 388.74,348.9 388.91,348.3 389.08,348.7 389.25,347.9 389.42,348.1 389.59,348.1 389.76,348.3 389.93,347.5 390.10,348.6 390.27,348.7 390.44,347.6 390.61,347.5 390.78,348.3 390.95,347.9 391.12,347.1 391.29,348.5 391.46,348.2 391.63,347.9 391.80,349.1 391.97,348.2 392.14,347.8 392.31,348.2 392.48,347.7 392.65,347.8 392.82,348.3 392.99,347.9 393.16,348.0 393.33,348.9 393.50,348.5 393.67,348.5 393.84,348.4 394.01,348.4 394.18,348.8 394.35,348.2 394.52,349.0 394.69,347.7 394.86,348.1 395.03,347.5 395.20,348.0 395.37,348.4 395.54,348.8 395.71,347.9 395.88,348.2 396.05,348.0 396.22,347.8 396.39,347.6 396.56,348.2 396.73,347.4 396.90,348.2 397.07,348.2 397.24,347.9 397.41,347.7 397.58,347.6 397.75,349.0 397.92,347.6 398.09,348.9 398.26,348.4 398.43,348.0 398.60,347.7 398.77,348.6 398.94,349.0 399.11,347.8 399.28,348.0 399.45,348.6 399.62,348.3 399.79,349.1 399.96,347.9 400.13,348.4 400.30,347.6 400.47,349.1 400.64,347.8 400.81,347.2 400.98,348.1 401.15,348.1 401.32,349.0 401.49,348.0 401.66,348.2 401.83,348.4 402.00,348.9 402.17,348.1 402.34,348.6 402.51,348.4 402.68,348.0 402.85,348.2 403.02,348.2 403.19,347.8 403.36,348.7 403.53,347.5 403.70,348.7 403.87,348.6 404.04,348.1 404.21,347.8 404.38,348.1 404.55,348.4 404.72,348.5 404.89,348.3 405.06,348.6 405.23,347.9 405.40,348.2 405.57,347.4 405.74,348.5 405.91,348.2 406.08,347.9 406.25,348.7 406.42,348.4 406.59,346.9 406.76,348.1 406.93,347.5 407.10,348.6 407.27,349.2 407.44,347.9 407.61,348.1 407.78,348.0 407.95,348.2 408.12,348.4 408.29,348.6 408.46,347.6 408.63,348.7 408.80,347.6 408.97,348.1 409.14,348.5 409.31,348.3 409.48,347.6 409.65,347.6 409.82,347.7 409.99,347.9 410.16,348.4 410.33,347.2 410.50,348.0 410.67,348.0 410.84,347.9 411.01,347.8 411.18,348.1 411.35,347.5 411.52,347.5 411.69,347.1 411.86,347.5 412.03,345.5 412.20,346.7 412.37,345.7 412.54,345.5 412.71,345.0 412.88,344.4 413.05,345.0 413.22,344.9 413.39,345.5 413.56,344.8 413.73,346.2 413.90,345.8 414.07,345.7 414.24,345.6 414.41,345.7 414.58,345.8 414.75,346.2 414.92,346.6 415.09,346.8 415.26,346.4 415.43,347.1 415.60,346.9 415.77,347.5 415.94,348.4 416.11,347.9 416.28,347.6 416.45,347.1 416.62,347.2 416.79,347.1 416.96,348.2 417.13,347.6 417.30,348.0 417.47,347.7 417.64,348.0 417.81,348.6 417.98,347.7 418.15,347.9 418.32,347.7 418.49,348.4 418.66,347.6 418.83,347.6 419.00,347.4 419.17,347.4 419.34,348.3 419.51,349.2 419.68,347.6 419.85,348.5 420.02,348.2 420.19,347.6 420.36,348.0 420.53,348.0 420.70,347.8 420.87,349.0 421.04,347.3 421.21,348.3 421.38,348.3 421.55,347.9 421.72,348.2 421.89,348.5 422.06,348.2 422.23,348.3 422.40,348.4 422.57,347.2 422.74,348.8 422.91,349.2 423.08,348.6 423.25,348.6 423.42,347.5 423.59,348.1 423.76,347.8 423.93,347.9 424.10,348.6 424.27,347.8 424.44,348.1 424.61,347.3 424.78,348.1 424.95,348.2 425.12,347.8 425.29,347.8 425.46,349.0 425.63,347.6 425.80,347.6 425.97,347.8 426.14,348.7 426.31,349.1 426.48,348.3 426.65,347.8 426.82,347.9 426.99,348.6 427.16,347.7 427.33,348.8 427.50,348.7 427.67,348.1 427.84,348.4 428.01,348.4 428.18,348.8 428.35,347.6 428.52,348.6 428.69,347.9 428.86,347.7 429.03,348.1 429.20,348.0 429.37,347.6 429.54,347.4 429.71,347.6 429.88,348.7 430.05,348.9 430.22,348.4 430.39,348.6 430.56,347.8 430.73,348.0 430.90,348.2 431.07,347.5 431.24,347.6 431.41,348.1 431.58,347.9 431.75,347.5 431.92,348.2 432.09,347.9 432.26,348.5 432.43,348.0 432.60,347.8 432.77,348.0 432.94,347.9 433.11,347.7 433.28,347.8 433.45,348.3 433.62,348.2 433.79,348.5 433.96,347.2 434.13,347.7 434.30,347.7 434.47,348.0 434.64,347.7 434.81,347.6 434.98,348.2 435.15,347.9 435.32,347.3 435.49,348.4 435.66,348.2 435.83,347.5 436.00,348.1 436.17,347.4 436.34,348.2 436.51,347.6 436.68,347.3 436.85,347.5 437.02,347.3 437.19,347.7 437.36,347.6 437.53,347.5 437.70,347.2 437.87,345.8 438.04,347.4 438.21,346.5 438.38,347.4 438.55,347.8 438.72,347.3 438.89,347.0 439.06,347.0 439.23,347.0 439.40,346.7 439.57,346.6 439.74,346.4 439.91,347.2 440.08,346.6 440.25,346.9 440.42,346.2 440.59,346.1 440.76,345.8 440.93,345.9 441.10,345.7 441.27,345.1 441.44,344.3 441.61,343.7 441.78,344.2 441.95,342.6 442.12,341.8 442.29,341.7 442.46,340.5 442.63,339.0 442.80,337.3 442.97,337.2 443.14,334.9 443.31,333.5 443.48,331.8 443.65,329.9 443.82,328.9 443.99,328.8 444.16,328.2 444.33,327.7 444.50,327.3 444.67,327.4 444.84,328.4 445.01,328.5 445.18,330.2 445.35,331.1 445.52,332.8 445.69,332.9 445.86,333.3 446.03,334.3 446.20,334.3 446.37,336.8 446.54,338.1 446.71,339.7 446.88,340.5 447.05,341.5 447.22,342.1 447.39,343.1 447.56,344.1 447.73,343.5 447.90,344.3 448.07,344.3 448.24,346.0 448.41,346.1 448.58,346.1 448.75,345.5 448.92,346.3 449.09,346.2 449.26,346.5 449.43,346.5 449.60,346.9 449.77,346.6 449.94,347.2 450.11,347.0 450.28,346.8 450.45,347.0 450.62,346.8 450.79,347.4 450.96,347.0 451.13,347.2 451.30,346.9 451.47,346.4 451.64,347.4 451.81,346.5 451.98,347.1 452.15,346.9 452.32,345.8 452.49,346.0 452.66,346.0 452.83,345.7 453.00,345.4 453.17,346.2 453.34,345.7 453.51,346.0 453.68,345.7 453.85,346.1 454.02,345.7 454.19,346.2 454.36,346.5 454.53,346.4 454.70,346.2 454.87,346.0 455.04,346.7 455.21,346.9 455.38,346.8 455.55,346.7 455.72,347.4 455.89,348.4 456.06,347.3 456.23,347.6 456.40,347.7 456.57,346.5 456.74,347.8 456.91,347.4 457.08,348.4 457.25,347.7 457.42,347.5 457.59,347.8 457.76,348.0 457.93,347.7 458.10,347.9 458.27,347.3 458.44,347.8 458.61,348.3 458.78,348.9 458.95,348.3 459.12,348.1 459.29,348.5 459.46,348.5 459.63,348.8 459.80,348.5 459.97,348.0 460.14,348.2 460.31,348.1 460.48,348.2 460.65,348.1 460.82,347.7 460.99,347.1 461.16,347.8 461.33,347.2 461.50,348.1 461.67,348.1 461.84,347.3 462.01,348.4 462.18,348.5 462.35,348.1 462.52,348.9 462.69,348.9 462.86,347.6 463.03,348.6 463.20,348.3 463.37,348.3 463.54,348.5 463.71,347.8 463.88,347.9 464.05,347.8 464.22,347.8 464.39,348.1 464.56,347.5 464.73,347.7 464.90,348.4 465.07,348.1 465.24,348.3 465.41,347.3 465.58,347.8 465.75,347.9 465.92,348.2 466.09,347.9 466.26,348.6 466.43,348.1 466.60,348.2 466.77,348.2 466.94,348.5 467.11,347.9 467.28,348.7 467.45,348.4 467.62,348.2 467.79,348.2 467.96,348.4 468.13,348.6 468.30,348.6 468.47,348.3 468.64,348.6 468.81,348.2 468.98,348.7 469.15,348.2 469.32,347.2 469.49,348.8 469.66,348.2 469.83,347.6 470.00,348.1 470.17,347.8 470.34,349.1 470.51,348.4 470.68,347.5 470.85,348.4 471.02,348.0 471.19,349.0 471.36,347.7 471.53,347.2 471.70,348.2 471.87,348.0 472.04,348.0 472.21,347.2 472.38,348.4 472.55,348.9 472.72,347.3 472.89,348.7 473.06,347.9 473.23,349.2 473.40,348.4 473.57,348.1 473.74,348.6 473.91,348.4 474.08,347.9 474.25,348.5 474.42,347.9 474.59,347.3 474.76,349.1 474.93,348.0 475.10,347.9 475.27,348.3 475.44,347.4 475.61,347.5 475.78,347.9 475.95,347.9 476.12,348.1 476.29,348.6 476.46,347.9 476.63,348.3 476.80,348.4 476.97,347.6 477.14,348.2 477.31,347.6 477.48,348.5 477.65,348.3 477.82,348.1 477.99,347.4 478.16,348.1 478.33,347.7 478.50,348.3 478.67,347.9 478.84,347.6 479.01,348.4 479.18,348.3 479.35,347.6 479.52,348.4 479.69,347.7 479.86,347.7 480.03,347.9 480.20,347.4 480.37,347.5 480.54,347.6 480.71,348.3 480.88,348.2 481.05,347.3 481.22,348.0 481.39,347.1 481.56,347.2 481.73,347.2 481.90,346.8 482.07,347.5 482.24,346.3 482.41,345.5 482.58,346.3 482.75,345.3 482.92,345.1 483.09,343.6 483.26,345.2 483.43,344.9 483.60,344.7 483.77,344.6 483.94,344.9 484.11,344.0 484.28,344.5 484.45,343.8 484.62,344.1 484.79,344.8 484.96,344.6 485.13,344.0 485.30,344.9 485.47,344.9 485.64,344.8 485.81,345.5 485.98,345.4 486.15,345.1 486.32,345.5 486.49,347.0 486.66,345.7 486.83,346.7 487.00,347.1 487.17,347.2 487.34,346.5 487.51,347.1 487.68,347.4 487.85,347.8 488.02,347.2 488.19,347.1 488.36,348.1 488.53,348.2 488.70,347.9 488.87,347.5 489.04,348.0 489.21,347.9 489.38,348.3 489.55,347.4 489.72,348.0 489.89,347.9 490.06,347.5 490.23,348.1 490.40,348.0 490.57,347.9 490.74,348.2 490.91,347.4 491.08,348.0 491.25,348.3 491.42,348.2 491.59,348.6 491.76,347.6 491.93,347.4 492.10,348.2 492.27,348.3 492.44,349.1 492.61,348.4 492.78,347.8 492.95,348.5 493.12,347.8 493.29,347.5 493.46,349.3 493.63,348.3 493.80,348.5 493.97,348.4 494.14,349.0 494.31,348.3 494.48,348.7 494.65,347.7 494.82,347.6 494.99,348.8 495.16,348.9 495.33,348.4 495.50,348.3 495.67,348.3 495.84,347.9 496.01,348.9 496.18,348.5 496.35,348.4 496.52,348.4 496.69,348.7 496.86,348.4 497.03,348.6 497.20,347.7 497.37,348.4 497.54,349.2 497.71,348.0 497.88,348.2 498.05,348.6 498.22,348.7 498.39,348.5 498.56,347.5 498.73,348.5 498.90,347.7 499.07,347.9 499.24,348.5 499.41,348.1 499.58,348.6 499.75,349.7 499.92,348.6 500.09,348.6 500.26,347.8 500.43,348.0 500.60,347.8 500.77,348.0 500.94,347.8 501.11,347.9 501.28,348.2 501.45,347.8 501.62,347.6 501.79,347.6 501.96,348.5 502.13,348.3 502.30,348.7 502.47,348.7 502.64,348.1 502.81,348.6 502.98,347.6 503.15,349.3 503.32,348.8 503.49,348.2 503.66,347.7 503.83,348.4 504.00,347.4 504.17,347.9 504.34,348.6 504.51,348.3 504.68,348.0 504.85,348.7 505.02,347.8 505.19,348.4 505.36,348.0 505.53,347.9 505.70,348.5 505.87,347.8 506.04,349.1 506.21,348.0 506.38,349.2 506.55,347.8 506.72,348.5 506.89,347.7 507.06,347.7 507.23,348.3 507.40,348.6 507.57,347.7 507.74,348.8 507.91,347.9 508.08,348.3 508.25,348.4 508.42,348.5 508.59,347.5"/><polyline fill="none" stroke="#0000ff" stroke-width="2.4" stroke-linejoin="round" points="45.00,311.7 45.17,311.2 45.34,310.8 45.51,310.5 45.68,310.2 45.85,310.3 46.02,311.2 46.19,310.8 46.36,310.4 46.53,310.7 46.70,311.6 46.87,310.8 47.04,310.7 47.21,311.5 47.38,311.1 47.55,311.0 47.72,310.7 47.89,310.2 48.06,310.4 48.23,310.7 48.40,310.8 48.57,311.1 48.74,311.2 48.91,311.0 49.08,311.0 49.25,310.5 49.42,310.0 49.59,310.7 49.76,310.5 49.93,310.6 50.10,310.8 50.27,310.4 50.44,310.4 50.61,310.9 50.78,311.0 50.95,310.6 51.12,311.1 51.29,310.8 51.46,310.5 51.63,310.9 51.80,311.8 51.97,310.6 52.14,311.4 52.31,311.5 52.48,311.6 52.65,310.5 52.82,311.8 52.99,311.0 53.16,310.8 53.33,310.8 53.50,311.2 53.67,310.9 53.84,310.8 54.01,311.5 54.18,310.6 54.35,310.4 54.52,311.2 54.69,311.2 54.86,311.4 55.03,310.4 55.20,311.4 55.37,311.1 55.54,311.7 55.71,310.3 55.88,310.9 56.05,310.7 56.22,310.1 56.39,310.5 56.56,311.3 56.73,310.6 56.90,310.5 57.07,311.2 57.24,311.3 57.41,311.3 57.58,310.4 57.75,310.8 57.92,311.3 58.09,310.5 58.26,310.4 58.43,311.1 58.60,311.5 58.77,310.2 58.94,309.6 59.11,310.1 59.28,310.3 59.45,310.6 59.62,311.0 59.79,310.6 59.96,310.4 60.13,310.7 60.30,310.2 60.47,310.6 60.64,310.3 60.81,311.8 60.98,310.9 61.15,310.2 61.32,310.1 61.49,310.3 61.66,309.7 61.83,310.1 62.00,310.1 62.17,310.8 62.34,310.1 62.51,309.9 62.68,309.6 62.85,309.6 63.02,310.1 63.19,309.9 63.36,310.5 63.53,309.6 63.70,310.2 63.87,309.7 64.04,309.4 64.21,308.3 64.38,308.4 64.55,308.9 64.72,308.8 64.89,307.7 65.06,307.2 65.23,305.8 65.40,304.8 65.57,303.6 65.74,303.1 65.91,301.6 66.08,300.2 66.25,299.2 66.42,299.0 66.59,298.8 66.76,298.6 66.93,300.5 67.10,300.9 67.27,301.9 67.44,303.8 67.61,304.8 67.78,305.3 67.95,306.6 68.12,306.6 68.29,307.5 68.46,307.3 68.63,309.3 68.80,308.2 68.97,309.6 69.14,309.1 69.31,309.2 69.48,309.7 69.65,310.0 69.82,310.2 69.99,310.8 70.16,310.3 70.33,310.6 70.50,310.0 70.67,310.6 70.84,310.4 71.01,310.1 71.18,310.3 71.35,310.4 71.52,310.5 71.69,310.7 71.86,310.3 72.03,310.2 72.20,310.9 72.37,309.8 72.54,310.3 72.71,311.3 72.88,309.4 73.05,310.3 73.22,311.0 73.39,309.9 73.56,311.8 73.73,309.5 73.90,311.3 74.07,311.4 74.24,311.1 74.41,310.6 74.58,310.9 74.75,310.3 74.92,311.1 75.09,310.3 75.26,310.6 75.43,311.2 75.60,310.3 75.77,310.6 75.94,310.9 76.11,310.2 76.28,311.3 76.45,311.0 76.62,310.1 76.79,310.8 76.96,310.5 77.13,310.5 77.30,310.9 77.47,310.5 77.64,311.3 77.81,310.5 77.98,311.3 78.15,310.8 78.32,311.2 78.49,310.6 78.66,310.6 78.83,310.3 79.00,311.1 79.17,311.3 79.34,311.8 79.51,311.4 79.68,311.0 79.85,310.8 80.02,311.0 80.19,310.8 80.36,311.5 80.53,311.3 80.70,310.5 80.87,310.5 81.04,311.5 81.21,311.0 81.38,310.7 81.55,311.4 81.72,310.7 81.89,310.7 82.06,310.6 82.23,310.0 82.40,311.2 82.57,310.3 82.74,310.6 82.91,310.5 83.08,311.2 83.25,310.8 83.42,310.8 83.59,310.1 83.76,310.8 83.93,310.2 84.10,311.0 84.27,311.0 84.44,310.8 84.61,311.7 84.78,311.0 84.95,311.1 85.12,310.8 85.29,310.7 85.46,311.2 85.63,311.2 85.80,310.2 85.97,311.2 86.14,310.9 86.31,311.1 86.48,310.9 86.65,310.1 86.82,310.1 86.99,311.4 87.16,310.7 87.33,309.9 87.50,310.6 87.67,310.2 87.84,309.5 88.01,309.1 88.18,309.3 88.35,309.9 88.52,309.6 88.69,309.2 88.86,309.2 89.03,309.0 89.20,307.5 89.37,308.1 89.54,307.6 89.71,307.4 89.88,307.7 90.05,308.0 90.22,308.2 90.39,307.9 90.56,308.6 90.73,310.0 90.90,308.9 91.07,308.9 91.24,310.0 91.41,310.3 91.58,310.4 91.75,309.8 91.92,310.9 92.09,310.1 92.26,310.0 92.43,310.3 92.60,310.6 92.77,311.0 92.94,310.9 93.11,310.7 93.28,311.1 93.45,310.8 93.62,311.1 93.79,310.1 93.96,310.1 94.13,311.1 94.30,310.2 94.47,310.7 94.64,310.8 94.81,310.6 94.98,310.6 95.15,311.4 95.32,309.7 95.49,311.2 95.66,311.9 95.83,310.8 96.00,310.8 96.17,311.2 96.34,311.7 96.51,310.3 96.68,310.9 96.85,310.8 97.02,311.1 97.19,310.9 97.36,311.2 97.53,310.7 97.70,310.9 97.87,310.6 98.04,310.6 98.21,310.8 98.38,310.8 98.55,310.3 98.72,311.6 98.89,310.8 99.06,310.3 99.23,311.4 99.40,310.5 99.57,311.1 99.74,310.9 99.91,311.0 100.08,311.0 100.25,310.6 100.42,310.9 100.59,311.8 100.76,309.9 100.93,310.9 101.10,311.1 101.27,310.4 101.44,310.3 101.61,311.9 101.78,310.7 101.95,311.8 102.12,311.1 102.29,310.9 102.46,311.1 102.63,311.2 102.80,311.4 102.97,311.1 103.14,311.0 103.31,311.0 103.48,311.5 103.65,311.3 103.82,310.4 103.99,310.6 104.16,311.0 104.33,310.6 104.50,310.7 104.67,310.5 104.84,310.8 105.01,311.1 105.18,311.3 105.35,310.9 105.52,311.8 105.69,310.9 105.86,312.3 106.03,311.3 106.20,311.1 106.37,310.7 106.54,309.6 106.71,310.8 106.88,311.0 107.05,311.7 107.22,310.3 107.39,311.7 107.56,310.8 107.73,311.2 107.90,309.7 108.07,310.9 108.24,310.7 108.41,311.2 108.58,310.9 108.75,310.4 108.92,311.3 109.09,311.2 109.26,311.1 109.43,311.3 109.60,311.4 109.77,310.9 109.94,310.3 110.11,310.3 110.28,311.5 110.45,311.2 110.62,310.9 110.79,310.7 110.96,310.9 111.13,310.9 111.30,310.7 111.47,310.6 111.64,311.8 111.81,311.0 111.98,310.6 112.15,310.3 112.32,310.5 112.49,311.2 112.66,311.2 112.83,310.8 113.00,310.9 113.17,310.7 113.34,310.4 113.51,311.4 113.68,311.0 113.85,312.0 114.02,310.5 114.19,310.8 114.36,311.2 114.53,310.7 114.70,310.2 114.87,310.4 115.04,310.9 115.21,311.0 115.38,310.8 115.55,311.3 115.72,311.3 115.89,311.0 116.06,310.8 116.23,310.7 116.40,311.1 116.57,311.2 116.74,310.9 116.91,311.0 117.08,310.7 117.25,310.2 117.42,310.4 117.59,311.2 117.76,311.0 117.93,311.5 118.10,310.8 118.27,311.2 118.44,311.4 118.61,311.3 118.78,310.5 118.95,310.7 119.12,310.9 119.29,310.4 119.46,311.0 119.63,311.3 119.80,310.6 119.97,311.7 120.14,310.7 120.31,310.7 120.48,310.7 120.65,310.5 120.82,311.0 120.99,310.8 121.16,311.5 121.33,311.0 121.50,311.0 121.67,310.7 121.84,310.1 122.01,310.7 122.18,310.4 122.35,311.2 122.52,310.7 122.69,311.5 122.86,311.1 123.03,311.1 123.20,310.8 123.37,310.8 123.54,311.0 123.71,311.1 123.88,310.4 124.05,310.9 124.22,311.9 124.39,310.7 124.56,310.6 124.73,310.4 124.90,310.1 125.07,311.2 125.24,310.7 125.41,310.8 125.58,311.5 125.75,311.8 125.92,310.3 126.09,311.2 126.26,311.0 126.43,310.8 126.60,310.9 126.77,310.6 126.94,311.4 127.11,310.9 127.28,310.8 127.45,311.2 127.62,311.0 127.79,310.8 127.96,310.8 128.13,311.4 128.30,310.8 128.47,310.6 128.64,310.2 128.81,310.4 128.98,310.1 129.15,310.6 129.32,310.7 129.49,309.6 129.66,310.6 129.83,310.8 130.00,310.6 130.17,310.1 130.34,311.1 130.51,310.2 130.68,309.9 130.85,310.0 131.02,310.5 131.19,310.9 131.36,311.0 131.53,310.5 131.70,309.9 131.87,310.1 132.04,310.0 132.21,310.3 132.38,309.6 132.55,310.4 132.72,310.6 132.89,310.3 133.06,310.5 133.23,309.9 133.40,309.6 133.57,310.0 133.74,310.8 133.91,310.7 134.08,310.0 134.25,310.7 134.42,310.0 134.59,310.8 134.76,310.4 134.93,309.9 135.10,310.4 135.27,309.7 135.44,309.6 135.61,309.4 135.78,310.1 135.95,309.9 136.12,309.9 136.29,309.7 136.46,310.5 136.63,309.6 136.80,309.5 136.97,310.3 137.14,310.4 137.31,309.8 137.48,308.8 137.65,309.3 137.82,309.8 137.99,309.5 138.16,310.1 138.33,308.8 138.50,309.6 138.67,309.0 138.84,309.8 139.01,309.1 139.18,309.5 139.35,308.7 139.52,308.3 139.69,308.3 139.86,308.5 140.03,308.2 140.20,309.1 140.37,309.0 140.54,308.4 140.71,307.7 140.88,308.0 141.05,307.6 141.22,308.4 141.39,307.7 141.56,307.6 141.73,307.1 141.90,306.1 142.07,306.5 142.24,306.1 142.41,306.5 142.58,306.1 142.75,305.4 142.92,305.2 143.09,305.7 143.26,304.2 143.43,303.8 143.60,303.6 143.77,302.8 143.94,302.4 144.11,302.1 144.28,301.8 144.45,299.3 144.62,298.9 144.79,297.5 144.96,295.6 145.13,293.3 145.30,290.2 145.47,287.0 145.64,281.5 145.81,275.6 145.98,268.3 146.15,259.6 146.32,249.5 146.49,239.2 146.66,227.4 146.83,216.6 147.00,207.2 147.17,200.2 147.34,197.3 147.51,197.9 147.68,202.4 147.85,208.8 148.02,217.5 148.19,228.3 148.36,239.2 148.53,248.7 148.70,259.9 148.87,267.7 149.04,274.9 149.21,281.5 149.38,285.9 149.55,289.5 149.72,293.9 149.89,294.8 150.06,297.1 150.23,299.1 150.40,299.4 150.57,300.9 150.74,301.9 150.91,303.5 151.08,302.7 151.25,303.6 151.42,304.4 151.59,304.6 151.76,304.5 151.93,305.5 152.10,305.7 152.27,306.2 152.44,306.8 152.61,307.0 152.78,307.0 152.95,307.1 153.12,306.7 153.29,307.3 153.46,307.7 153.63,307.6 153.80,307.9 153.97,307.7 154.14,308.8 154.31,309.2 154.48,308.2 154.65,308.7 154.82,308.5 154.99,309.3 155.16,309.0 155.33,308.9 155.50,308.9 155.67,309.1 155.84,308.6 156.01,309.5 156.18,308.9 156.35,309.5 156.52,309.4 156.69,309.9 156.86,309.4 157.03,310.0 157.20,309.1 157.37,309.9 157.54,309.5 157.71,309.7 157.88,309.7 158.05,310.2 158.22,308.9 158.39,309.9 158.56,309.1 158.73,310.4 158.90,309.0 159.07,309.4 159.24,309.2 159.41,310.7 159.58,309.4 159.75,310.0 159.92,309.8 160.09,309.2 160.26,309.9 160.43,310.3 160.60,310.0 160.77,310.5 160.94,309.9 161.11,310.1 161.28,309.9 161.45,310.2 161.62,310.9 161.79,310.2 161.96,310.1 162.13,309.7 162.30,309.6 162.47,310.5 162.64,309.2 162.81,309.2 162.98,309.4 163.15,309.1 163.32,310.0 163.49,307.9 163.66,308.9 163.83,308.9 164.00,308.0 164.17,308.2 164.34,308.7 164.51,309.3 164.68,308.3 164.85,308.2 165.02,309.5 165.19,310.0 165.36,309.3 165.53,308.6 165.70,310.4 165.87,309.8 166.04,310.5 166.21,310.1 166.38,310.0 166.55,310.1 166.72,311.0 166.89,311.0 167.06,309.4 167.23,310.0 167.40,311.2 167.57,310.3 167.74,309.9 167.91,310.5 168.08,310.5 168.25,310.5 168.42,310.3 168.59,310.4 168.76,310.4 168.93,310.7 169.10,310.2 169.27,310.5 169.44,310.5 169.61,311.2 169.78,310.8 169.95,310.6 170.12,310.9 170.29,310.8 170.46,311.1 170.63,310.9 170.80,311.5 170.97,311.3 171.14,310.7 171.31,310.5 171.48,311.1 171.65,310.9 171.82,310.6 171.99,310.0 172.16,309.9 172.33,310.9 172.50,311.1 172.67,311.1 172.84,310.1 173.01,311.2 173.18,310.5 173.35,310.9 173.52,310.9 173.69,310.4 173.86,310.5 174.03,309.8 174.20,310.3 174.37,309.9 174.54,310.9 174.71,310.8 174.88,311.2 175.05,310.9 175.22,310.5 175.39,310.9 175.56,310.6 175.73,311.0 175.90,310.9 176.07,310.3 176.24,310.8 176.41,310.8 176.58,310.6 176.75,311.2 176.92,311.6 177.09,310.6 177.26,310.6 177.43,309.8 177.60,310.7 177.77,310.6 177.94,309.8 178.11,310.9 178.28,311.1 178.45,310.5 178.62,310.6 178.79,310.4 178.96,311.1 179.13,310.1 179.30,310.7 179.47,311.7 179.64,310.8 179.81,311.0 179.98,310.7 180.15,310.3 180.32,310.8 180.49,311.0 180.66,310.3 180.83,311.0 181.00,311.4 181.17,311.3 181.34,310.1 181.51,310.4 181.68,310.1 181.85,311.3 182.02,311.1 182.19,311.1 182.36,310.4 182.53,310.3 182.70,310.9 182.87,310.9 183.04,310.4 183.21,310.9 183.38,311.1 183.55,310.9 183.72,310.4 183.89,309.9 184.06,310.7 184.23,310.9 184.40,310.7 184.57,310.6 184.74,310.5 184.91,311.1 185.08,310.8 185.25,310.9 185.42,310.4 185.59,310.5 185.76,310.9 185.93,310.4 186.10,310.3 186.27,310.7 186.44,311.4 186.61,310.9 186.78,311.5 186.95,310.8 187.12,310.7 187.29,310.2 187.46,310.6 187.63,311.5 187.80,311.0 187.97,311.1 188.14,311.1 188.31,310.8 188.48,310.7 188.65,310.9 188.82,311.1 188.99,311.0 189.16,311.0 189.33,310.9 189.50,310.5 189.67,310.7 189.84,310.4 190.01,311.2 190.18,309.8 190.35,310.7 190.52,311.9 190.69,310.6 190.86,310.3 191.03,310.8 191.20,311.4 191.37,310.7 191.54,311.0 191.71,310.8 191.88,310.6 192.05,312.2 192.22,310.8 192.39,310.5 192.56,310.5 192.73,310.9 192.90,310.9 193.07,311.1 193.24,310.8 193.41,310.0 193.58,310.9 193.75,310.5 193.92,310.5 194.09,310.0 194.26,310.4 194.43,310.3 194.60,310.6 194.77,309.9 194.94,310.5 195.11,310.5 195.28,309.9 195.45,310.0 195.62,309.8 195.79,310.4 195.96,308.7 196.13,309.5 196.30,308.8 196.47,309.1 196.64,309.5 196.81,308.7 196.98,308.9 197.15,308.4 197.32,309.7 197.49,309.3 197.66,309.5 197.83,308.5 198.00,308.7 198.17,309.9 198.34,309.5 198.51,309.6 198.68,310.1 198.85,309.5 199.02,310.5 199.19,310.3 199.36,310.5 199.53,310.1 199.70,310.7 199.87,310.1 200.04,310.9 200.21,311.0 200.38,310.9 200.55,310.8 200.72,310.8 200.89,309.3 201.06,310.9 201.23,310.4 201.40,310.6 201.57,310.4 201.74,309.9 201.91,310.3 202.08,310.8 202.25,311.2 202.42,310.2 202.59,310.1 202.76,311.1 202.93,310.1 203.10,311.4 203.27,310.5 203.44,310.0 203.61,310.9 203.78,311.2 203.95,309.8 204.12,311.1 204.29,310.2 204.46,311.0 204.63,310.1 204.80,309.6 204.97,310.5 205.14,310.6 205.31,311.1 205.48,310.9 205.65,310.4 205.82,310.0 205.99,309.8 206.16,309.9 206.33,309.6 206.50,309.8 206.67,308.7 206.84,309.8 207.01,309.7 207.18,310.8 207.35,309.8 207.52,309.2 207.69,309.5 207.86,308.6 208.03,308.7 208.20,308.0 208.37,309.2 208.54,308.6 208.71,307.5 208.88,307.5 209.05,307.5 209.22,306.6 209.39,305.7 209.56,304.1 209.73,303.0 209.90,301.8 210.07,300.6 210.24,297.9 210.41,295.8 210.58,294.9 210.75,292.1 210.92,291.5 211.09,290.1 211.26,289.9 211.43,290.3 211.60,290.4 211.77,291.4 211.94,292.0 212.11,293.7 212.28,296.0 212.45,298.3 212.62,300.0 212.79,302.1 212.96,302.7 213.13,303.9 213.30,305.4 213.47,305.9 213.64,306.6 213.81,306.7 213.98,308.2 214.15,307.6 214.32,308.7 214.49,308.0 214.66,309.4 214.83,308.6 215.00,309.6 215.17,308.6 215.34,309.3 215.51,310.1 215.68,309.3 215.85,309.8 216.02,309.6 216.19,308.8 216.36,310.1 216.53,310.2 216.70,309.5 216.87,310.3 217.04,309.8 217.21,309.7 217.38,310.2 217.55,309.9 217.72,311.3 217.89,309.6 218.06,310.6 218.23,310.8 218.40,309.5 218.57,309.6 218.74,310.6 218.91,310.2 219.08,310.6 219.25,311.0 219.42,310.3 219.59,310.0 219.76,309.3 219.93,310.6 220.10,310.1 220.27,310.7 220.44,310.6 220.61,309.9 220.78,311.3 220.95,311.0 221.12,310.9 221.29,310.0 221.46,310.4 221.63,310.3 221.80,310.4 221.97,310.1 222.14,310.8 222.31,310.7 222.48,310.7 222.65,310.3 222.82,311.1 222.99,310.6 223.16,309.3 223.33,310.2 223.50,310.4 223.67,310.8 223.84,310.2 224.01,310.1 224.18,309.9 224.35,310.3 224.52,309.7 224.69,309.4 224.86,309.2 225.03,309.6 225.20,308.9 225.37,308.2 225.54,309.1 225.71,308.5 225.88,309.0 226.05,309.0 226.22,309.5 226.39,309.5 226.56,308.9 226.73,309.3 226.90,309.0 227.07,310.5 227.24,310.1 227.41,310.7 227.58,310.0 227.75,309.4 227.92,311.1 228.09,310.5 228.26,310.6 228.43,310.6 228.60,310.9 228.77,310.8 228.94,309.9 229.11,311.1 229.28,310.4 229.45,310.5 229.62,311.5 229.79,311.1 229.96,310.6 230.13,309.9 230.30,310.8 230.47,311.0 230.64,310.7 230.81,310.2 230.98,310.4 231.15,310.2 231.32,310.9 231.49,311.1 231.66,311.2 231.83,310.5 232.00,310.9 232.17,311.0 232.34,310.6 232.51,310.7 232.68,311.8 232.85,310.9 233.02,311.2 233.19,310.6 233.36,310.8 233.53,310.0 233.70,310.8 233.87,311.4 234.04,311.8 234.21,311.4 234.38,311.1 234.55,310.8 234.72,310.6 234.89,310.8 235.06,311.1 235.23,310.5 235.40,311.3 235.57,310.4 235.74,310.0 235.91,310.4 236.08,310.1 236.25,310.2 236.42,311.3 236.59,310.7 236.76,310.9 236.93,311.4 237.10,311.4 237.27,310.6 237.44,311.4 237.61,311.0 237.78,310.8 237.95,311.0 238.12,310.2 238.29,310.5 238.46,310.8 238.63,311.1 238.80,310.7 238.97,310.8 239.14,311.3 239.31,311.5 239.48,311.2 239.65,311.4 239.82,310.7 239.99,310.7 240.16,311.0 240.33,310.7 240.50,310.6 240.67,311.6 240.84,310.7 241.01,310.4 241.18,311.1 241.35,311.7 241.52,310.9 241.69,311.4 241.86,310.6 242.03,310.6 242.20,310.5 242.37,310.8 242.54,311.7 242.71,310.3 242.88,311.6 243.05,310.4 243.22,310.7 243.39,311.2 243.56,311.1 243.73,310.9 243.90,310.1 244.07,311.0 244.24,310.4 244.41,312.0 244.58,310.7 244.75,310.9 244.92,310.3 245.09,310.6 245.26,310.2 245.43,311.2 245.60,310.7 245.77,311.1 245.94,310.5 246.11,310.6 246.28,311.4 246.45,310.4 246.62,310.0 246.79,311.0 246.96,310.3 247.13,310.6 247.30,311.2 247.47,310.4 247.64,311.2 247.81,310.5 247.98,311.4 248.15,311.4 248.32,310.5 248.49,310.7 248.66,310.4 248.83,310.8 249.00,311.3 249.17,310.1 249.34,311.2 249.51,310.1 249.68,310.3 249.85,309.9 250.02,311.7 250.19,310.7 250.36,310.8 250.53,310.4 250.70,311.2 250.87,309.7 251.04,310.7 251.21,311.7 251.38,310.5 251.55,310.7 251.72,311.0 251.89,310.3 252.06,310.7 252.23,311.1 252.40,310.7 252.57,310.8 252.74,310.5 252.91,310.8 253.08,310.6 253.25,311.3 253.42,310.9 253.59,310.5 253.76,309.5 253.93,310.9 254.10,310.9 254.27,310.1 254.44,309.6 254.61,310.0 254.78,310.9 254.95,310.0 255.12,310.3 255.29,310.6 255.46,311.0 255.63,310.4 255.80,310.4 255.97,310.1 256.14,311.1 256.31,310.8 256.48,310.3 256.65,309.7 256.82,309.9 256.99,310.5 257.16,309.9 257.33,310.6 257.50,310.3 257.67,310.3 257.84,310.4 258.01,310.3 258.18,309.7 258.35,309.8 258.52,311.0 258.69,309.4 258.86,309.6 259.03,310.3 259.20,309.7 259.37,309.3 259.54,309.0 259.71,309.8 259.88,310.0 260.05,310.0 260.22,309.4 260.39,309.7 260.56,308.7 260.73,309.1 260.90,308.6 261.07,308.9 261.24,309.0 261.41,309.0 261.58,307.8 261.75,308.7 261.92,307.7 262.09,307.2 262.26,307.2 262.43,306.3 262.60,306.5 262.77,306.1 262.94,305.2 263.11,304.7 263.28,303.3 263.45,302.1 263.62,299.9 263.79,298.5 263.96,295.7 264.13,293.1 264.30,290.2 264.47,286.8 264.64,282.4 264.81,278.8 264.98,276.0 265.15,273.7 265.32,271.9 265.49,271.4 265.66,271.8 265.83,272.4 266.00,273.9 266.17,275.6 266.34,278.2 266.51,281.4 266.68,284.9 266.85,288.1 267.02,291.1 267.19,293.9 267.36,296.8 267.53,298.8 267.70,300.7 267.87,302.3 268.04,303.1 268.21,304.0 268.38,305.5 268.55,306.1 268.72,306.4 268.89,306.7 269.06,308.3 269.23,307.2 269.40,307.7 269.57,308.2 269.74,307.7 269.91,308.5 270.08,309.4 270.25,309.1 270.42,309.1 270.59,309.2 270.76,309.1 270.93,309.6 271.10,309.2 271.27,309.1 271.44,309.4 271.61,309.9 271.78,309.7 271.95,309.9 272.12,308.7 272.29,310.2 272.46,310.8 272.63,310.4 272.80,309.7 272.97,309.4 273.14,310.0 273.31,309.4 273.48,310.2 273.65,309.7 273.82,310.4 273.99,310.6 274.16,309.0 274.33,310.1 274.50,309.6 274.67,309.3 274.84,309.7 275.01,309.8 275.18,310.4 275.35,309.2 275.52,310.3 275.69,310.6 275.86,309.9 276.03,309.8 276.20,309.4 276.37,308.7 276.54,309.2 276.71,308.8 276.88,308.6 277.05,309.1 277.22,307.9 277.39,307.3 277.56,307.4 277.73,305.7 277.90,305.5 278.07,305.7 278.24,305.5 278.41,306.2 278.58,305.9 278.75,307.0 278.92,307.2 279.09,307.2 279.26,307.0 279.43,307.9 279.60,308.4 279.77,307.9 279.94,308.9 280.11,309.3 280.28,309.4 280.45,310.2 280.62,310.2 280.79,309.5 280.96,310.0 281.13,309.7 281.30,310.4 281.47,309.8 281.64,310.7 281.81,310.5 281.98,310.8 282.15,310.3 282.32,309.8 282.49,311.2 282.66,310.4 282.83,311.1 283.00,310.7 283.17,310.8 283.34,311.4 283.51,310.7 283.68,311.2 283.85,309.9 284.02,311.0 284.19,310.5 284.36,310.6 284.53,310.6 284.70,310.8 284.87,311.4 285.04,309.8 285.21,310.7 285.38,310.4 285.55,311.2 285.72,310.5 285.89,310.9 286.06,310.5 286.23,311.0 286.40,311.2 286.57,310.6 286.74,310.8 286.91,310.1 287.08,310.9 287.25,311.1 287.42,310.5 287.59,311.3 287.76,309.8 287.93,309.9 288.10,310.1 288.27,310.6 288.44,310.8 288.61,310.7 288.78,310.8 288.95,311.1 289.12,310.6 289.29,310.2 289.46,310.2 289.63,311.7 289.80,309.7 289.97,310.7 290.14,311.5 290.31,311.0 290.48,310.4 290.65,310.8 290.82,311.2 290.99,311.4 291.16,310.4 291.33,311.2 291.50,310.9 291.67,311.3 291.84,311.4 292.01,310.7 292.18,310.2 292.35,311.0 292.52,311.6 292.69,311.1 292.86,310.9 293.03,311.9 293.20,310.4 293.37,311.2 293.54,310.6 293.71,310.9 293.88,310.9 294.05,311.5 294.22,310.4 294.39,310.6 294.56,310.1 294.73,311.1 294.90,310.6 295.07,311.0 295.24,310.4 295.41,310.7 295.58,311.3 295.75,310.8 295.92,311.1 296.09,311.1 296.26,310.7 296.43,310.1 296.60,311.3 296.77,310.9 296.94,311.3 297.11,309.9 297.28,310.1 297.45,309.9 297.62,310.4 297.79,311.3 297.96,311.1 298.13,310.8 298.30,310.9 298.47,311.2 298.64,310.7 298.81,311.0 298.98,310.9 299.15,309.8 299.32,310.7 299.49,311.4 299.66,310.7 299.83,310.8 300.00,310.6 300.17,310.6 300.34,311.3 300.51,310.7 300.68,310.4 300.85,309.4 301.02,310.6 301.19,309.9 301.36,310.0 301.53,311.2 301.70,311.1 301.87,309.9 302.04,311.2 302.21,311.0 302.38,310.5 302.55,311.1 302.72,310.1 302.89,310.3 303.06,310.1 303.23,310.3 303.40,311.2 303.57,310.2 303.74,310.3 303.91,310.4 304.08,310.9 304.25,310.6 304.42,311.2 304.59,310.4 304.76,310.2 304.93,310.5 305.10,310.8 305.27,310.3 305.44,310.9 305.61,311.5 305.78,310.5 305.95,310.7 306.12,311.3 306.29,310.4 306.46,310.3 306.63,310.2 306.80,310.9 306.97,310.9 307.14,310.6 307.31,310.7 307.48,311.2 307.65,311.0 307.82,310.0 307.99,310.6 308.16,310.6 308.33,310.9 308.50,310.4 308.67,310.2 308.84,310.3 309.01,309.7 309.18,310.5 309.35,310.2 309.52,310.6 309.69,309.9 309.86,310.2 310.03,309.9 310.20,309.8 310.37,310.6 310.54,310.0 310.71,310.3 310.88,309.6 311.05,310.0 311.22,309.2 311.39,309.6 311.56,309.5 311.73,309.8 311.90,309.4 312.07,309.1 312.24,309.3 312.41,308.6 312.58,308.4 312.75,308.0 312.92,307.1 313.09,306.4 313.26,306.1 313.43,305.0 313.60,304.6 313.77,304.2 313.94,303.3 314.11,302.2 314.28,301.2 314.45,301.5 314.62,301.3 314.79,301.9 314.96,301.4 315.13,301.8 315.30,302.6 315.47,302.6 315.64,303.3 315.81,304.7 315.98,305.3 316.15,305.6 316.32,306.1 316.49,306.1 316.66,307.4 316.83,307.6 317.00,308.1 317.17,308.2 317.34,308.7 317.51,308.9 317.68,309.4 317.85,310.1 318.02,309.7 318.19,308.9 318.36,309.4 318.53,309.2 318.70,309.6 318.87,310.3 319.04,310.2 319.21,309.8 319.38,310.2 319.55,309.8 319.72,309.5 319.89,309.6 320.06,309.8 320.23,310.9 320.40,309.7 320.57,310.8 320.74,310.9 320.91,310.2 321.08,310.3 321.25,310.0 321.42,310.3 321.59,310.6 321.76,310.3 321.93,310.7 322.10,310.7 322.27,310.3 322.44,310.3 322.61,310.1 322.78,310.2 322.95,309.5 323.12,310.1 323.29,309.9 323.46,309.3 323.63,310.5 323.80,308.9 323.97,308.7 324.14,309.0 324.31,307.7 324.48,307.8 324.65,307.1 324.82,307.0 324.99,307.0 325.16,306.8 325.33,306.7 325.50,306.3 325.67,306.2 325.84,305.9 326.01,305.4 326.18,306.1 326.35,305.6 326.52,305.7 326.69,306.9 326.86,306.9 327.03,306.9 327.20,307.5 327.37,307.9 327.54,307.3 327.71,308.2 327.88,308.0 328.05,308.9 328.22,308.8 328.39,310.0 328.56,309.8 328.73,309.4 328.90,309.9 329.07,309.4 329.24,310.1 329.41,310.4 329.58,310.3 329.75,309.4 329.92,310.2 330.09,310.6 330.26,310.5 330.43,311.0 330.60,309.9 330.77,310.7 330.94,310.2 331.11,310.6 331.28,310.7 331.45,310.9 331.62,310.3 331.79,310.7 331.96,310.1 332.13,310.0 332.30,310.9 332.47,310.6 332.64,309.9 332.81,310.3 332.98,310.7 333.15,311.4 333.32,311.1 333.49,311.0 333.66,309.9 333.83,310.6 334.00,310.9 334.17,310.9 334.34,310.9 334.51,310.6 334.68,311.5 334.85,311.4 335.02,310.7 335.19,310.3 335.36,311.6 335.53,310.5 335.70,311.3 335.87,311.6 336.04,310.3 336.21,310.8 336.38,310.6 336.55,311.0 336.72,310.9 336.89,311.6 337.06,311.0 337.23,310.7 337.40,311.2 337.57,310.6 337.74,310.6 337.91,311.7 338.08,310.4 338.25,310.5 338.42,310.7 338.59,310.2 338.76,309.8 338.93,311.2 339.10,310.4 339.27,310.5 339.44,310.6 339.61,310.3 339.78,310.2 339.95,310.8 340.12,311.8 340.29,311.0 340.46,311.0 340.63,310.0 340.80,310.7 340.97,310.2 341.14,311.1 341.31,310.6 341.48,310.7 341.65,310.7 341.82,310.4 341.99,310.0 342.16,311.0 342.33,310.1 342.50,310.2 342.67,310.5 342.84,310.4 343.01,310.8 343.18,311.1 343.35,310.8 343.52,310.8 343.69,310.7 343.86,311.0 344.03,309.8 344.20,310.8 344.37,310.2 344.54,310.1 344.71,310.6 344.88,310.5 345.05,310.9 345.22,311.1 345.39,309.6 345.56,310.6 345.73,311.5 345.90,311.0 346.07,311.2 346.24,310.6 346.41,309.9 346.58,310.1 346.75,310.9 346.92,311.0 347.09,310.2 347.26,310.4 347.43,310.6 347.60,309.7 347.77,310.3 347.94,311.2 348.11,311.5 348.28,310.4 348.45,311.3 348.62,310.2 348.79,310.1 348.96,309.4 349.13,310.8 349.30,310.2 349.47,311.4 349.64,310.5 349.81,310.4 349.98,309.5 350.15,311.0 350.32,310.1 350.49,310.2 350.66,309.3 350.83,310.6 351.00,310.7 351.17,309.9 351.34,310.2 351.51,310.3 351.68,310.5 351.85,310.1 352.02,310.8 352.19,309.9 352.36,309.7 352.53,309.7 352.70,308.8 352.87,309.5 353.04,310.3 353.21,309.9 353.38,309.4 353.55,309.8 353.72,308.7 353.89,309.4 354.06,309.7 354.23,309.7 354.40,309.0 354.57,309.7 354.74,310.0 354.91,308.9 355.08,309.3 355.25,308.2 355.42,307.9 355.59,308.9 355.76,308.5 355.93,308.5 356.10,308.0 356.27,307.9 356.44,308.2 356.61,308.4 356.78,307.3 356.95,306.4 357.12,307.4 357.29,306.8 357.46,306.4 357.63,305.7 357.80,306.1 357.97,304.3 358.14,303.6 358.31,301.4 358.48,300.6 358.65,298.7 358.82,296.8 358.99,294.2 359.16,290.5 359.33,287.9 359.50,282.4 359.67,278.0 359.84,273.5 360.01,268.1 360.18,264.6 360.35,261.2 360.52,258.6 360.69,258.8 360.86,258.4 361.03,259.9 361.20,261.2 361.37,263.2 361.54,266.2 361.71,269.2 361.88,272.4 362.05,276.5 362.22,278.8 362.39,283.2 362.56,286.4 362.73,291.2 362.90,293.3 363.07,295.9 363.24,297.8 363.41,300.6 363.58,301.5 363.75,303.0 363.92,303.0 364.09,305.3 364.26,305.6 364.43,306.2 364.60,307.0 364.77,306.7 364.94,307.0 365.11,307.7 365.28,307.8 365.45,307.7 365.62,308.1 365.79,308.0 365.96,308.7 366.13,309.0 366.30,308.7 366.47,309.6 366.64,308.2 366.81,308.9 366.98,309.9 367.15,309.0 367.32,308.6 367.49,310.0 367.66,309.7 367.83,309.0 368.00,309.9 368.17,309.2 368.34,309.1 368.51,309.7 368.68,309.6 368.85,309.3 369.02,309.7 369.19,309.5 369.36,310.0 369.53,310.0 369.70,310.4 369.87,309.9 370.04,309.5 370.21,309.5 370.38,310.0 370.55,310.9 370.72,310.6 370.89,309.9 371.06,310.7 371.23,309.7 371.40,310.8 371.57,310.1 371.74,310.7 371.91,310.6 372.08,310.2 372.25,310.5 372.42,309.9 372.59,310.4 372.76,310.9 372.93,312.3 373.10,310.8 373.27,310.5 373.44,310.0 373.61,311.0 373.78,309.8 373.95,310.2 374.12,310.7 374.29,310.0 374.46,311.2 374.63,311.1 374.80,310.3 374.97,310.3 375.14,310.0 375.31,310.0 375.48,310.8 375.65,310.9 375.82,310.8 375.99,310.7 376.16,310.4 376.33,310.8 376.50,310.0 376.67,310.7 376.84,311.3 377.01,311.3 377.18,310.5 377.35,310.5 377.52,311.3 377.69,311.5 377.86,310.0 378.03,310.5 378.20,310.8 378.37,311.3 378.54,310.3 378.71,311.0 378.88,310.6 379.05,311.8 379.22,310.9 379.39,310.7 379.56,310.6 379.73,311.2 379.90,311.1 380.07,310.3 380.24,310.9 380.41,310.2 380.58,310.4 380.75,310.2 380.92,310.2 381.09,310.5 381.26,310.3 381.43,311.0 381.60,311.1 381.77,310.7 381.94,310.3 382.11,311.1 382.28,309.9 382.45,309.9 382.62,311.1 382.79,311.1 382.96,311.2 383.13,310.7 383.30,310.2 383.47,310.6 383.64,311.1 383.81,310.5 383.98,310.5 384.15,310.2 384.32,310.3 384.49,311.2 384.66,311.0 384.83,310.3 385.00,310.3 385.17,310.6 385.34,311.1 385.51,310.3 385.68,310.8 385.85,309.9 386.02,310.3 386.19,311.0 386.36,311.2 386.53,310.3 386.70,310.5 386.87,311.2 387.04,310.7 387.21,310.6 387.38,311.1 387.55,310.9 387.72,311.3 387.89,311.2 388.06,310.6 388.23,310.8 388.40,310.8 388.57,310.2 388.74,310.4 388.91,311.3 389.08,310.1 389.25,311.3 389.42,311.0 389.59,310.8 389.76,311.1 389.93,311.1 390.10,311.4 390.27,310.7 390.44,310.8 390.61,310.8 390.78,311.7 390.95,311.3 391.12,310.4 391.29,310.7 391.46,310.5 391.63,310.9 391.80,311.0 391.97,311.9 392.14,310.0 392.31,311.3 392.48,311.1 392.65,310.6 392.82,310.8 392.99,310.6 393.16,310.9 393.33,311.3 393.50,310.2 393.67,311.5 393.84,310.7 394.01,311.6 394.18,311.1 394.35,311.4 394.52,311.1 394.69,311.4 394.86,310.9 395.03,310.5 395.20,311.2 395.37,311.2 395.54,311.8 395.71,310.0 395.88,310.8 396.05,311.4 396.22,310.3 396.39,310.8 396.56,311.8 396.73,311.5 396.90,310.5 397.07,311.5 397.24,311.4 397.41,311.2 397.58,311.1 397.75,311.0 397.92,310.5 398.09,310.7 398.26,311.2 398.43,310.9 398.60,311.7 398.77,310.7 398.94,309.8 399.11,310.7 399.28,311.0 399.45,311.1 399.62,310.9 399.79,310.5 399.96,311.6 400.13,310.6 400.30,311.2 400.47,310.8 400.64,310.3 400.81,311.5 400.98,309.8 401.15,310.5 401.32,311.1 401.49,310.7 401.66,311.2 401.83,310.8 402.00,310.7 402.17,311.9 402.34,310.8 402.51,310.8 402.68,310.4 402.85,310.5 403.02,311.2 403.19,311.1 403.36,310.9 403.53,310.6 403.70,311.2 403.87,310.1 404.04,310.7 404.21,310.8 404.38,310.5 404.55,310.9 404.72,310.6 404.89,310.5 405.06,311.7 405.23,311.2 405.40,311.4 405.57,310.9 405.74,311.3 405.91,311.2 406.08,311.4 406.25,311.9 406.42,310.7 406.59,311.0 406.76,310.8 406.93,309.3 407.10,310.2 407.27,310.8 407.44,311.1 407.61,310.6 407.78,311.3 407.95,311.4 408.12,310.6 408.29,311.4 408.46,311.6 408.63,311.0 408.80,310.3 408.97,311.4 409.14,310.7 409.31,310.6 409.48,310.8 409.65,310.5 409.82,311.2 409.99,311.0 410.16,311.2 410.33,310.9 410.50,310.2 410.67,310.5 410.84,310.9 411.01,310.3 411.18,311.7 411.35,310.1 411.52,309.9 411.69,310.5 411.86,310.1 412.03,309.5 412.20,309.1 412.37,309.1 412.54,309.0 412.71,308.7 412.88,308.0 413.05,308.2 413.22,308.3 413.39,308.3 413.56,306.7 413.73,307.8 413.90,308.0 414.07,308.3 414.24,308.6 414.41,309.1 414.58,309.1 414.75,309.0 414.92,309.2 415.09,310.2 415.26,309.3 415.43,309.9 415.60,310.7 415.77,310.3 415.94,309.3 416.11,310.5 416.28,310.2 416.45,310.4 416.62,311.0 416.79,310.8 416.96,310.5 417.13,311.1 417.30,310.9 417.47,310.7 417.64,310.8 417.81,310.8 417.98,310.6 418.15,310.5 418.32,310.8 418.49,310.3 418.66,310.2 418.83,311.4 419.00,310.7 419.17,310.8 419.34,310.7 419.51,310.8 419.68,310.8 419.85,310.8 420.02,310.5 420.19,311.2 420.36,310.5 420.53,311.3 420.70,310.0 420.87,310.4 421.04,311.3 421.21,310.8 421.38,310.5 421.55,311.0 421.72,310.4 421.89,310.9 422.06,309.8 422.23,310.6 422.40,310.6 422.57,311.1 422.74,311.2 422.91,310.5 423.08,311.6 423.25,310.6 423.42,309.9 423.59,309.8 423.76,311.5 423.93,310.8 424.10,310.6 424.27,310.5 424.44,310.4 424.61,311.5 424.78,310.8 424.95,311.7 425.12,310.8 425.29,309.8 425.46,311.2 425.63,310.7 425.80,310.7 425.97,311.5 426.14,310.7 426.31,311.4 426.48,310.8 426.65,310.5 426.82,311.1 426.99,310.6 427.16,311.4 427.33,311.3 427.50,310.9 427.67,311.1 427.84,311.1 428.01,310.7 428.18,311.2 428.35,310.7 428.52,311.1 428.69,310.4 428.86,310.9 429.03,311.0 429.20,310.4 429.37,310.6 429.54,310.6 429.71,311.1 429.88,310.5 430.05,311.0 430.22,311.5 430.39,310.9 430.56,310.1 430.73,310.8 430.90,311.2 431.07,310.6 431.24,311.3 431.41,311.0 431.58,310.9 431.75,310.6 431.92,310.5 432.09,310.6 432.26,310.8 432.43,311.0 432.60,310.9 432.77,310.6 432.94,310.7 433.11,310.9 433.28,310.0 433.45,310.3 433.62,310.3 433.79,310.6 433.96,310.5 434.13,310.5 434.30,310.2 434.47,310.9 434.64,310.7 434.81,309.9 434.98,310.6 435.15,310.1 435.32,311.3 435.49,310.3 435.66,310.3 435.83,310.5 436.00,310.4 436.17,310.4 436.34,311.1 436.51,310.5 436.68,310.8 436.85,310.9 437.02,309.9 437.19,311.1 437.36,310.6 437.53,310.7 437.70,309.9 437.87,310.6 438.04,310.4 438.21,309.9 438.38,311.1 438.55,310.3 438.72,309.9 438.89,310.0 439.06,310.3 439.23,310.3 439.40,310.0 439.57,310.2 439.74,310.2 439.91,308.9 440.08,309.2 440.25,308.8 440.42,309.2 440.59,309.6 440.76,309.1 440.93,308.1 441.10,308.2 441.27,308.5 441.44,307.4 441.61,307.1 441.78,306.7 441.95,305.0 442.12,305.3 442.29,304.0 442.46,302.9 442.63,300.7 442.80,299.1 442.97,297.3 443.14,295.7 443.31,293.6 443.48,291.6 443.65,290.6 443.82,288.9 443.99,287.1 444.16,286.7 444.33,287.9 444.50,287.5 444.67,289.1 444.84,290.0 445.01,290.0 445.18,291.1 445.35,292.3 445.52,292.9 445.69,294.1 445.86,295.7 446.03,297.8 446.20,298.7 446.37,300.2 446.54,301.4 446.71,302.3 446.88,304.7 447.05,303.9 447.22,305.5 447.39,306.8 447.56,306.5 447.73,307.9 447.90,308.6 448.07,307.9 448.24,308.7 448.41,308.3 448.58,309.2 448.75,309.2 448.92,309.4 449.09,310.0 449.26,309.7 449.43,310.2 449.60,310.0 449.77,309.2 449.94,310.0 450.11,310.1 450.28,309.3 450.45,310.6 450.62,310.1 450.79,310.3 450.96,309.7 451.13,310.2 451.30,310.4 451.47,310.1 451.64,310.3 451.81,309.4 451.98,311.0 452.15,309.9 452.32,309.4 452.49,310.0 452.66,310.1 452.83,310.7 453.00,310.1 453.17,310.6 453.34,310.1 453.51,311.5 453.68,310.8 453.85,311.4 454.02,310.1 454.19,310.9 454.36,310.2 454.53,310.9 454.70,310.9 454.87,309.9 455.04,310.1 455.21,310.1 455.38,310.0 455.55,310.4 455.72,310.3 455.89,310.0 456.06,310.7 456.23,311.0 456.40,310.1 456.57,310.5 456.74,310.7 456.91,310.6 457.08,310.4 457.25,311.1 457.42,311.1 457.59,311.1 457.76,310.7 457.93,311.7 458.10,311.6 458.27,310.6 458.44,310.7 458.61,311.3 458.78,310.4 458.95,311.0 459.12,310.8 459.29,310.5 459.46,310.7 459.63,310.1 459.80,310.6 459.97,309.9 460.14,311.8 460.31,311.5 460.48,311.4 460.65,311.0 460.82,311.3 460.99,311.4 461.16,311.3 461.33,311.3 461.50,310.4 461.67,311.0 461.84,310.6 462.01,310.3 462.18,310.3 462.35,311.0 462.52,311.3 462.69,310.2 462.86,311.6 463.03,311.5 463.20,310.7 463.37,310.7 463.54,310.8 463.71,311.3 463.88,310.7 464.05,310.4 464.22,311.0 464.39,309.9 464.56,310.9 464.73,311.4 464.90,311.0 465.07,311.2 465.24,311.1 465.41,311.2 465.58,310.9 465.75,310.5 465.92,310.8 466.09,310.8 466.26,311.4 466.43,311.6 466.60,311.1 466.77,310.5 466.94,310.5 467.11,310.8 467.28,311.5 467.45,311.0 467.62,310.9 467.79,310.5 467.96,311.3 468.13,311.0 468.30,310.9 468.47,310.9 468.64,311.6 468.81,310.8 468.98,311.6 469.15,311.4 469.32,310.9 469.49,311.3 469.66,310.8 469.83,310.5 470.00,310.8 470.17,310.5 470.34,311.1 470.51,310.9 470.68,311.1 470.85,311.2 471.02,309.5 471.19,311.0 471.36,310.1 471.53,310.9 471.70,310.5 471.87,310.9 472.04,311.5 472.21,310.1 472.38,310.9 472.55,310.8 472.72,310.0 472.89,311.1 473.06,310.9 473.23,310.6 473.40,310.5 473.57,312.3 473.74,310.7 473.91,310.0 474.08,310.4 474.25,310.7 474.42,310.7 474.59,310.8 474.76,310.4 474.93,311.1 475.10,310.6 475.27,310.2 475.44,310.4 475.61,310.6 475.78,311.2 475.95,311.0 476.12,310.6 476.29,310.8 476.46,310.9 476.63,311.7 476.80,310.5 476.97,311.0 477.14,311.1 477.31,310.3 477.48,310.8 477.65,310.8 477.82,310.5 477.99,311.0 478.16,311.1 478.33,311.2 478.50,310.6 478.67,310.7 478.84,311.7 479.01,310.1 479.18,310.7 479.35,311.0 479.52,310.6 479.69,310.8 479.86,310.5 480.03,310.8 480.20,311.0 480.37,310.2 480.54,310.3 480.71,310.1 480.88,309.9 481.05,310.0 481.22,309.3 481.39,310.0 481.56,310.2 481.73,310.0 481.90,309.6 482.07,308.3 482.24,309.1 482.41,307.7 482.58,307.6 482.75,308.0 482.92,306.3 483.09,306.7 483.26,306.1 483.43,305.5 483.60,304.9 483.77,305.3 483.94,304.8 484.11,305.4 484.28,305.6 484.45,304.5 484.62,305.1 484.79,305.3 484.96,305.1 485.13,305.4 485.30,306.2 485.47,306.3 485.64,305.9 485.81,306.8 485.98,307.6 486.15,307.1 486.32,307.6 486.49,309.0 486.66,309.2 486.83,308.1 487.00,308.5 487.17,309.5 487.34,309.0 487.51,309.6 487.68,309.7 487.85,310.2 488.02,309.0 488.19,309.2 488.36,309.7 488.53,310.8 488.70,310.3 488.87,309.7 489.04,310.7 489.21,310.8 489.38,310.4 489.55,310.4 489.72,310.8 489.89,311.2 490.06,310.7 490.23,310.9 490.40,310.7 490.57,310.5 490.74,310.3 490.91,310.8 491.08,310.6 491.25,310.6 491.42,311.2 491.59,311.0 491.76,311.2 491.93,310.1 492.10,311.0 492.27,310.5 492.44,310.4 492.61,310.4 492.78,311.4 492.95,311.2 493.12,310.5 493.29,310.3 493.46,310.8 493.63,310.6 493.80,311.6 493.97,310.2 494.14,310.0 494.31,310.7 494.48,310.9 494.65,310.9 494.82,311.2 494.99,311.8 495.16,310.7 495.33,310.6 495.50,310.1 495.67,311.0 495.84,311.3 496.01,310.8 496.18,311.4 496.35,310.9 496.52,311.6 496.69,311.1 496.86,310.4 497.03,310.6 497.20,310.2 497.37,310.1 497.54,311.0 497.71,311.3 497.88,311.8 498.05,310.9 498.22,310.8 498.39,310.4 498.56,311.4 498.73,311.1 498.90,310.7 499.07,311.2 499.24,311.2 499.41,310.1 499.58,311.3 499.75,311.0 499.92,310.8 500.09,310.7 500.26,311.7 500.43,311.6 500.60,311.8 500.77,310.4 500.94,310.6 501.11,311.3 501.28,310.4 501.45,310.6 501.62,310.1 501.79,311.8 501.96,311.4 502.13,311.2 502.30,311.0 502.47,310.8 502.64,310.8 502.81,311.2 502.98,310.6 503.15,311.5 503.32,310.7 503.49,310.6 503.66,311.5 503.83,310.9 504.00,311.2 504.17,310.8 504.34,309.9 504.51,311.2 504.68,310.3 504.85,311.4 505.02,310.3 505.19,310.1 505.36,311.1 505.53,311.1 505.70,311.0 505.87,310.4 506.04,311.4 506.21,310.3 506.38,310.8 506.55,310.6 506.72,310.8 506.89,311.3 507.06,310.7 507.23,311.2 507.40,311.3 507.57,310.2 507.74,310.4 507.91,310.8 508.08,310.7 508.25,311.1 508.42,310.1 508.59,311.3"/><polyline fill="none" stroke="#008000" stroke-width="2.4" stroke-linejoin="round" points="45.00,273.5 45.17,273.1 45.34,272.5 45.51,273.2 45.68,272.9 45.85,273.4 46.02,273.1 46.19,273.5 46.36,273.0 46.53,273.8 46.70,272.1 46.87,272.7 47.04,273.4 47.21,272.5 47.38,273.5 47.55,272.6 47.72,273.2 47.89,272.7 48.06,273.0 48.23,273.2 48.40,273.1 48.57,273.0 48.74,274.1 48.91,273.1 49.08,272.7 49.25,273.6 49.42,273.5 49.59,273.7 49.76,273.9 49.93,272.7 50.10,273.6 50.27,273.7 50.44,273.1 50.61,273.2 50.78,271.8 50.95,272.9 51.12,273.9 51.29,272.3 51.46,272.9 51.63,273.3 51.80,273.4 51.97,273.9 52.14,272.3 52.31,273.1 52.48,273.5 52.65,272.5 52.82,273.1 52.99,274.0 53.16,273.7 53.33,273.4 53.50,271.9 53.67,273.1 53.84,273.3 54.01,273.0 54.18,273.1 54.35,274.5 54.52,273.0 54.69,272.7 54.86,273.2 55.03,273.0 55.20,273.0 55.37,273.1 55.54,273.4 55.71,273.2 55.88,272.6 56.05,273.0 56.22,273.3 56.39,272.9 56.56,273.6 56.73,273.4 56.90,272.6 57.07,273.2 57.24,274.0 57.41,273.8 57.58,273.0 57.75,273.5 57.92,272.8 58.09,272.4 58.26,273.3 58.43,273.2 58.60,273.3 58.77,273.0 58.94,273.2 59.11,272.8 59.28,273.2 59.45,273.4 59.62,273.0 59.79,273.4 59.96,272.2 60.13,272.6 60.30,273.6 60.47,273.8 60.64,273.1 60.81,272.9 60.98,272.4 61.15,273.1 61.32,273.3 61.49,272.2 61.66,273.1 61.83,273.1 62.00,273.1 62.17,272.3 62.34,273.1 62.51,272.1 62.68,273.5 62.85,272.8 63.02,272.2 63.19,273.3 63.36,273.2 63.53,272.4 63.70,273.7 63.87,272.2 64.04,272.7 64.21,273.1 64.38,271.5 64.55,272.9 64.72,272.4 64.89,272.4 65.06,271.8 65.23,272.4 65.40,271.7 65.57,271.6 65.74,271.8 65.91,271.3 66.08,272.4 66.25,270.9 66.42,270.9 66.59,270.8 66.76,270.5 66.93,270.3 67.10,269.5 67.27,268.0 67.44,266.7 67.61,265.4 67.78,264.1 67.95,262.4 68.12,260.2 68.29,258.2 68.46,259.4 68.63,258.9 68.80,259.2 68.97,260.5 69.14,261.6 69.31,263.1 69.48,265.0 69.65,266.5 69.82,267.6 69.99,268.3 70.16,269.6 70.33,270.6 70.50,270.6 70.67,271.2 70.84,270.5 71.01,271.6 71.18,271.7 71.35,271.4 71.52,271.3 71.69,272.3 71.86,271.8 72.03,272.5 72.20,272.2 72.37,272.7 72.54,272.3 72.71,271.8 72.88,272.5 73.05,272.4 73.22,272.9 73.39,272.4 73.56,272.5 73.73,273.1 73.90,273.2 74.07,273.1 74.24,273.2 74.41,273.0 74.58,273.2 74.75,273.2 74.92,273.0 75.09,272.9 75.26,272.9 75.43,274.0 75.60,272.9 75.77,272.8 75.94,272.7 76.11,272.9 76.28,273.0 76.45,272.4 76.62,272.1 76.79,273.1 76.96,272.2 77.13,273.1 77.30,273.0 77.47,273.5 77.64,273.7 77.81,273.2 77.98,272.7 78.15,272.5 78.32,272.6 78.49,273.0 78.66,272.1 78.83,273.0 79.00,273.0 79.17,273.3 79.34,272.9 79.51,273.1 79.68,272.7 79.85,272.8 80.02,272.2 80.19,273.1 80.36,273.7 80.53,273.1 80.70,273.2 80.87,272.6 81.04,273.7 81.21,272.7 81.38,273.4 81.55,273.1 81.72,272.6 81.89,273.5 82.06,273.1 82.23,273.1 82.40,273.3 82.57,273.0 82.74,272.9 82.91,273.3 83.08,272.9 83.25,273.1 83.42,272.7 83.59,272.4 83.76,272.7 83.93,272.8 84.10,273.0 84.27,273.6 84.44,272.3 84.61,273.1 84.78,272.0 84.95,272.6 85.12,272.8 85.29,272.0 85.46,272.2 85.63,273.1 85.80,273.0 85.97,272.9 86.14,272.6 86.31,274.0 86.48,272.9 86.65,272.6 86.82,273.7 86.99,273.2 87.16,272.8 87.33,273.5 87.50,273.0 87.67,273.2 87.84,273.0 88.01,272.4 88.18,273.2 88.35,272.8 88.52,272.2 88.69,272.3 88.86,272.9 89.03,272.2 89.20,272.2 89.37,272.3 89.54,271.7 89.71,270.7 89.88,271.3 90.05,271.1 90.22,270.8 90.39,270.9 90.56,270.3 90.73,270.5 90.90,271.1 91.07,270.5 91.24,271.7 91.41,272.1 91.58,272.0 91.75,272.7 91.92,272.5 92.09,271.9 92.26,273.0 92.43,272.7 92.60,272.8 92.77,272.8 92.94,273.4 93.11,273.1 93.28,272.5 93.45,273.1 93.62,273.2 93.79,272.6 93.96,272.7 94.13,272.8 94.30,272.7 94.47,273.1 94.64,273.4 94.81,273.8 94.98,273.5 95.15,273.4 95.32,273.5 95.49,273.6 95.66,272.8 95.83,273.3 96.00,273.1 96.17,272.9 96.34,272.8 96.51,272.7 96.68,272.9 96.85,272.4 97.02,273.2 97.19,273.0 97.36,273.0 97.53,273.1 97.70,273.3 97.87,272.7 98.04,272.9 98.21,272.2 98.38,271.9 98.55,272.0 98.72,273.5 98.89,271.9 99.06,272.9 99.23,273.3 99.40,272.3 99.57,273.1 99.74,273.0 99.91,272.4 100.08,272.8 100.25,271.8 100.42,271.0 100.59,271.4 100.76,270.9 100.93,270.6 101.10,270.7 101.27,272.5 101.44,271.4 101.61,271.9 101.78,271.8 101.95,272.3 102.12,272.3 102.29,272.4 102.46,272.1 102.63,272.1 102.80,272.5 102.97,273.0 103.14,273.8 103.31,273.4 103.48,273.8 103.65,273.2 103.82,272.9 103.99,272.4 104.16,273.0 104.33,272.0 104.50,272.9 104.67,273.8 104.84,273.2 105.01,273.5 105.18,272.9 105.35,272.4 105.52,272.8 105.69,272.9 105.86,273.6 106.03,274.0 106.20,272.7 106.37,272.9 106.54,273.0 106.71,272.9 106.88,272.5 107.05,273.1 107.22,273.2 107.39,273.3 107.56,272.5 107.73,273.0 107.90,272.3 108.07,273.5 108.24,272.6 108.41,273.0 108.58,272.9 108.75,272.8 108.92,272.6 109.09,272.3 109.26,273.9 109.43,273.2 109.60,273.2 109.77,274.0 109.94,273.1 110.11,273.4 110.28,273.1 110.45,273.6 110.62,273.3 110.79,273.2 110.96,273.0 111.13,273.2 111.30,273.6 111.47,272.2 111.64,273.0 111.81,272.9 111.98,273.0 112.15,272.2 112.32,273.4 112.49,272.7 112.66,273.0 112.83,272.9 113.00,272.4 113.17,272.9 113.34,272.3 113.51,272.7 113.68,273.0 113.85,273.1 114.02,273.1 114.19,273.0 114.36,274.1 114.53,273.3 114.70,272.6 114.87,272.8 115.04,272.8 115.21,273.0 115.38,272.8 115.55,272.7 115.72,273.8 115.89,273.1 116.06,272.9 116.23,273.0 116.40,273.0 116.57,273.7 116.74,273.3 116.91,273.6 117.08,271.7 117.25,273.2 117.42,273.6 117.59,274.0 117.76,273.1 117.93,272.3 118.10,273.4 118.27,272.8 118.44,272.3 118.61,272.8 118.78,273.6 118.95,273.6 119.12,273.4 119.29,272.6 119.46,274.2 119.63,272.6 119.80,273.0 119.97,272.4 120.14,273.7 120.31,273.3 120.48,273.5 120.65,273.1 120.82,273.0 120.99,273.1 121.16,272.2 121.33,273.5 121.50,273.5 121.67,272.9 121.84,273.1 122.01,273.2 122.18,273.8 122.35,273.3 122.52,273.1 122.69,272.8 122.86,272.4 123.03,272.8 123.20,273.1 123.37,272.9 123.54,273.1 123.71,273.4 123.88,273.2 124.05,273.2 124.22,273.3 124.39,273.1 124.56,273.0 124.73,273.2 124.90,272.3 125.07,273.6 125.24,272.4 125.41,273.4 125.58,273.0 125.75,273.5 125.92,273.0 126.09,272.6 126.26,273.5 126.43,273.1 126.60,273.1 126.77,273.0 126.94,273.5 127.11,273.4 127.28,273.1 127.45,272.3 127.62,272.8 127.79,273.0 127.96,273.8 128.13,273.2 128.30,272.9 128.47,273.5 128.64,272.9 128.81,273.0 128.98,273.0 129.15,272.3 129.32,273.4 129.49,273.1 129.66,272.8 129.83,272.4 130.00,273.0 130.17,273.6 130.34,272.6 130.51,272.4 130.68,273.1 130.85,272.2 131.02,271.9 131.19,272.7 131.36,272.6 131.53,272.8 131.70,272.6 131.87,273.0 132.04,272.8 132.21,272.6 132.38,272.7 132.55,273.1 132.72,273.3 132.89,273.3 133.06,273.2 133.23,271.3 133.40,272.4 133.57,272.7 133.74,272.9 133.91,272.1 134.08,273.4 134.25,272.9 134.42,272.5 134.59,272.8 134.76,272.6 134.93,272.4 135.10,273.0 135.27,272.5 135.44,272.1 135.61,272.4 135.78,272.6 135.95,272.2 136.12,273.2 136.29,272.2 136.46,273.4 136.63,273.0 136.80,272.2 136.97,272.6 137.14,273.1 137.31,272.5 137.48,272.0 137.65,272.6 137.82,273.4 137.99,271.8 138.16,272.7 138.33,272.4 138.50,272.3 138.67,272.2 138.84,272.2 139.01,272.8 139.18,272.6 139.35,271.8 139.52,272.9 139.69,271.6 139.86,272.5 140.03,272.2 140.20,272.6 140.37,272.2 140.54,272.5 140.71,272.0 140.88,272.4 141.05,272.0 141.22,272.8 141.39,271.5 141.56,272.2 141.73,271.9 141.90,271.7 142.07,271.3 142.24,271.6 142.41,270.7 142.58,270.7 142.75,271.5 142.92,270.4 143.09,271.6 143.26,270.8 143.43,270.9 143.60,270.7 143.77,270.7 143.94,270.2 144.11,270.0 144.28,270.0 144.45,270.3 144.62,270.2 144.79,270.0 144.96,269.4 145.13,268.8 145.30,267.9 145.47,268.6 145.64,268.4 145.81,267.4 145.98,267.5 146.15,267.3 146.32,266.2 146.49,266.0 146.66,265.0 146.83,263.2 147.00,262.7 147.17,261.5 147.34,260.2 147.51,257.3 147.68,254.3 147.85,249.7 148.02,244.1 148.19,236.4 148.36,227.0 148.53,215.3 148.70,202.0 148.87,189.0 149.04,177.7 149.21,170.4 149.38,168.9 149.55,169.7 149.72,176.9 149.89,186.0 150.06,197.3 150.23,208.2 150.40,220.3 150.57,230.8 150.74,238.9 150.91,245.1 151.08,251.1 151.25,254.7 151.42,258.5 151.59,260.0 151.76,262.8 151.93,263.3 152.10,263.9 152.27,264.8 152.44,265.2 152.61,266.5 152.78,267.5 152.95,267.2 153.12,268.1 153.29,267.7 153.46,268.6 153.63,269.8 153.80,268.4 153.97,269.8 154.14,270.0 154.31,268.9 154.48,269.3 154.65,269.6 154.82,270.7 154.99,270.2 155.16,270.5 155.33,271.0 155.50,270.9 155.67,271.0 155.84,270.9 156.01,271.6 156.18,270.9 156.35,272.0 156.52,271.2 156.69,271.1 156.86,271.8 157.03,271.8 157.20,270.8 157.37,271.8 157.54,271.2 157.71,271.4 157.88,272.2 158.05,271.5 158.22,272.1 158.39,271.8 158.56,272.9 158.73,272.0 158.90,271.6 159.07,271.6 159.24,271.8 159.41,272.3 159.58,272.2 159.75,272.7 159.92,272.4 160.09,272.4 160.26,272.5 160.43,272.3 160.60,272.5 160.77,272.7 160.94,272.8 161.11,272.2 161.28,271.6 161.45,272.1 161.62,272.6 161.79,271.4 161.96,272.3 162.13,272.7 162.30,272.3 162.47,272.0 162.64,273.3 162.81,273.1 162.98,272.4 163.15,273.1 163.32,273.1 163.49,272.0 163.66,273.7 163.83,272.0 164.00,272.3 164.17,271.9 164.34,272.3 164.51,271.6 164.68,272.1 164.85,272.4 165.02,271.8 165.19,271.4 165.36,272.0 165.53,270.7 165.70,271.4 165.87,270.7 166.04,270.9 166.21,270.9 166.38,271.1 166.55,271.2 166.72,271.0 166.89,271.4 167.06,272.0 167.23,272.0 167.40,271.7 167.57,272.0 167.74,272.1 167.91,272.5 168.08,272.7 168.25,272.7 168.42,272.4 168.59,272.7 168.76,272.1 168.93,271.5 169.10,272.8 169.27,272.1 169.44,272.4 169.61,272.3 169.78,273.1 169.95,272.3 170.12,273.0 170.29,272.6 170.46,272.3 170.63,272.2 170.80,273.1 170.97,273.1 171.14,273.3 171.31,273.7 171.48,273.0 171.65,273.1 171.82,272.9 171.99,273.0 172.16,272.8 172.33,272.5 172.50,273.8 172.67,272.1 172.84,273.1 173.01,273.2 173.18,273.0 173.35,272.5 173.52,272.9 173.69,272.8 173.86,272.5 174.03,273.0 174.20,272.8 174.37,272.7 174.54,273.3 174.71,272.5 174.88,273.2 175.05,272.7 175.22,273.2 175.39,273.0 175.56,273.1 175.73,272.6 175.90,272.7 176.07,272.6 176.24,273.1 176.41,273.3 176.58,273.5 176.75,272.8 176.92,273.1 177.09,272.3 177.26,272.0 177.43,272.6 177.60,272.7 177.77,272.3 177.94,272.2 178.11,273.3 178.28,272.7 178.45,272.3 178.62,274.1 178.79,273.1 178.96,272.9 179.13,273.3 179.30,272.7 179.47,273.7 179.64,272.3 179.81,272.4 179.98,273.0 180.15,272.7 180.32,273.7 180.49,272.3 180.66,272.7 180.83,273.1 181.00,273.3 181.17,273.5 181.34,273.2 181.51,274.0 181.68,272.8 181.85,273.1 182.02,273.4 182.19,272.9 182.36,272.9 182.53,272.8 182.70,272.8 182.87,272.5 183.04,272.8 183.21,272.3 183.38,273.2 183.55,272.3 183.72,274.0 183.89,273.8 184.06,273.5 184.23,273.0 184.40,272.8 184.57,273.6 184.74,273.1 184.91,273.3 185.08,272.7 185.25,273.5 185.42,272.7 185.59,273.1 185.76,272.3 185.93,272.8 186.10,273.3 186.27,272.8 186.44,272.8 186.61,273.4 186.78,273.0 186.95,273.6 187.12,272.0 187.29,273.3 187.46,273.3 187.63,272.4 187.80,272.5 187.97,273.4 188.14,272.6 188.31,272.8 188.48,273.3 188.65,272.9 188.82,273.3 188.99,272.7 189.16,273.2 189.33,273.5 189.50,273.2 189.67,272.1 189.84,273.3 190.01,273.1 190.18,272.6 190.35,273.7 190.52,272.3 190.69,273.9 190.86,272.8 191.03,273.7 191.20,273.0 191.37,272.4 191.54,273.1 191.71,273.2 191.88,273.3 192.05,273.5 192.22,272.6 192.39,273.3 192.56,273.4 192.73,272.9 192.90,272.6 193.07,272.6 193.24,273.4 193.41,273.4 193.58,272.7 193.75,272.4 193.92,273.6 194.09,272.3 194.26,273.1 194.43,272.7 194.60,272.2 194.77,273.1 194.94,272.9 195.11,273.7 195.28,274.0 195.45,272.9 195.62,273.5 195.79,273.5 195.96,272.8 196.13,272.6 196.30,273.7 196.47,272.8 196.64,273.0 196.81,272.9 196.98,272.9 197.15,272.7 197.32,273.3 197.49,273.6 197.66,272.8 197.83,272.4 198.00,273.0 198.17,272.3 198.34,272.7 198.51,273.5 198.68,274.0 198.85,273.1 199.02,272.5 199.19,273.3 199.36,272.0 199.53,272.6 199.70,273.6 199.87,273.3 200.04,272.3 200.21,272.2 200.38,273.3 200.55,272.9 200.72,272.7 200.89,273.1 201.06,272.7 201.23,272.0 201.40,273.3 201.57,272.6 201.74,272.4 201.91,272.3 202.08,273.0 202.25,272.5 202.42,273.1 202.59,272.7 202.76,273.3 202.93,272.7 203.10,272.5 203.27,271.9 203.44,272.3 203.61,273.1 203.78,274.1 203.95,272.2 204.12,272.3 204.29,272.9 204.46,272.9 204.63,272.4 204.80,272.7 204.97,271.9 205.14,272.5 205.31,273.0 205.48,273.3 205.65,272.5 205.82,272.4 205.99,272.7 206.16,273.0 206.33,272.7 206.50,272.1 206.67,272.5 206.84,272.8 207.01,272.0 207.18,271.6 207.35,272.4 207.52,272.3 207.69,272.5 207.86,272.0 208.03,271.6 208.20,271.6 208.37,271.3 208.54,271.2 208.71,271.3 208.88,271.2 209.05,271.8 209.22,270.5 209.39,270.9 209.56,270.4 209.73,271.0 209.90,270.1 210.07,269.4 210.24,269.2 210.41,268.1 210.58,266.7 210.75,266.1 210.92,263.8 211.09,262.0 211.26,259.0 211.43,255.9 211.60,252.6 211.77,249.4 211.94,248.2 212.11,247.0 212.28,247.3 212.45,247.8 212.62,249.0 212.79,250.7 212.96,253.7 213.13,256.5 213.30,258.4 213.47,261.2 213.64,263.7 213.81,264.6 213.98,266.3 214.15,267.2 214.32,269.1 214.49,269.4 214.66,269.6 214.83,269.5 215.00,270.5 215.17,271.3 215.34,270.9 215.51,271.0 215.68,271.7 215.85,271.0 216.02,271.7 216.19,272.0 216.36,271.5 216.53,271.5 216.70,272.1 216.87,272.0 217.04,272.0 217.21,272.3 217.38,272.3 217.55,271.9 217.72,272.0 217.89,272.6 218.06,272.9 218.23,273.1 218.40,272.1 218.57,273.0 218.74,272.9 218.91,272.6 219.08,272.8 219.25,273.0 219.42,273.4 219.59,272.2 219.76,273.0 219.93,272.6 220.10,272.6 220.27,273.2 220.44,273.1 220.61,272.3 220.78,272.7 220.95,272.9 221.12,272.2 221.29,273.2 221.46,272.8 221.63,272.9 221.80,273.0 221.97,273.7 222.14,272.9 222.31,272.7 222.48,273.7 222.65,272.7 222.82,272.7 222.99,272.3 223.16,273.4 223.33,273.0 223.50,273.1 223.67,273.0 223.84,272.9 224.01,272.6 224.18,272.6 224.35,273.1 224.52,273.0 224.69,273.7 224.86,272.6 225.03,272.8 225.20,272.5 225.37,273.6 225.54,272.4 225.71,273.3 225.88,273.6 226.05,272.9 226.22,273.3 226.39,272.1 226.56,272.8 226.73,272.3 226.90,273.1 227.07,273.0 227.24,272.7 227.41,273.4 227.58,273.2 227.75,272.8 227.92,272.8 228.09,272.4 228.26,272.9 228.43,274.0 228.60,272.7 228.77,273.2 228.94,272.8 229.11,273.4 229.28,273.2 229.45,272.9 229.62,272.3 229.79,272.8 229.96,273.6 230.13,272.9 230.30,273.3 230.47,272.8 230.64,272.2 230.81,273.2 230.98,273.2 231.15,272.8 231.32,272.9 231.49,273.2 231.66,272.8 231.83,273.2 232.00,273.0 232.17,272.0 232.34,273.0 232.51,272.8 232.68,272.7 232.85,273.2 233.02,272.8 233.19,273.3 233.36,273.6 233.53,273.1 233.70,272.4 233.87,272.7 234.04,273.5 234.21,273.0 234.38,272.7 234.55,273.0 234.72,273.3 234.89,273.2 235.06,273.4 235.23,272.7 235.40,273.0 235.57,273.0 235.74,273.1 235.91,272.1 236.08,273.0 236.25,272.5 236.42,273.7 236.59,273.8 236.76,273.8 236.93,273.4 237.10,272.9 237.27,273.5 237.44,273.0 237.61,273.3 237.78,272.7 237.95,272.8 238.12,273.3 238.29,273.9 238.46,273.1 238.63,274.1 238.80,274.3 238.97,272.5 239.14,273.1 239.31,272.7 239.48,273.0 239.65,272.8 239.82,273.0 239.99,273.5 240.16,273.5 240.33,273.2 240.50,273.1 240.67,273.1 240.84,273.1 241.01,273.3 241.18,273.1 241.35,273.3 241.52,272.5 241.69,273.4 241.86,273.9 242.03,273.2 242.20,272.4 242.37,273.7 242.54,272.9 242.71,271.7 242.88,273.0 243.05,273.3 243.22,273.2 243.39,273.6 243.56,273.3 243.73,273.1 243.90,272.2 244.07,272.6 244.24,273.1 244.41,273.4 244.58,272.6 244.75,272.8 244.92,273.3 245.09,272.2 245.26,272.2 245.43,273.0 245.60,273.2 245.77,272.8 245.94,272.0 246.11,273.1 246.28,272.5 246.45,273.3 246.62,273.0 246.79,273.2 246.96,273.3 247.13,272.8 247.30,273.4 247.47,273.6 247.64,273.2 247.81,273.6 247.98,272.8 248.15,273.4 248.32,273.2 248.49,272.6 248.66,273.0 248.83,272.8 249.00,272.8 249.17,273.1 249.34,273.5 249.51,272.9 249.68,273.1 249.85,272.4 250.02,273.1 250.19,273.5 250.36,273.4 250.53,273.2 250.70,272.8 250.87,272.6 251.04,273.0 251.21,272.4 251.38,272.4 251.55,273.4 251.72,272.6 251.89,273.8 252.06,272.3 252.23,273.2 252.40,272.4 252.57,273.0 252.74,272.5 252.91,273.0 253.08,272.9 253.25,272.7 253.42,273.2 253.59,273.6 253.76,272.7 253.93,273.3 254.10,273.0 254.27,272.9 254.44,273.9 254.61,271.9 254.78,272.6 254.95,272.1 255.12,272.7 255.29,272.8 255.46,274.6 255.63,273.0 255.80,273.6 255.97,273.4 256.14,272.6 256.31,273.0 256.48,273.6 256.65,272.9 256.82,272.9 256.99,273.0 257.16,272.1 257.33,272.4 257.50,272.9 257.67,273.0 257.84,272.3 258.01,272.5 258.18,272.6 258.35,272.6 258.52,272.9 258.69,272.7 258.86,272.7 259.03,271.9 259.20,272.1 259.37,272.7 259.54,271.8 259.71,272.6 259.88,272.2 260.05,272.1 260.22,272.7 260.39,272.0 260.56,271.9 260.73,272.0 260.90,272.2 261.07,273.4 261.24,271.2 261.41,272.1 261.58,271.9 261.75,272.4 261.92,271.7 262.09,270.7 262.26,272.3 262.43,271.1 262.60,271.5 262.77,270.8 262.94,270.8 263.11,271.0 263.28,271.4 263.45,271.3 263.62,270.4 263.79,270.7 263.96,270.1 264.13,270.0 264.30,269.7 264.47,269.6 264.64,268.5 264.81,268.1 264.98,267.4 265.15,266.2 265.32,264.2 265.49,263.3 265.66,259.8 265.83,257.2 266.00,253.2 266.17,249.5 266.34,243.6 266.51,241.4 266.68,237.2 266.85,234.9 267.02,235.3 267.19,237.1 267.36,238.0 267.53,239.4 267.70,242.2 267.87,245.9 268.04,247.9 268.21,251.9 268.38,255.1 268.55,259.3 268.72,260.8 268.89,263.7 269.06,264.6 269.23,266.0 269.40,267.9 269.57,268.5 269.74,268.1 269.91,269.7 270.08,270.0 270.25,269.8 270.42,270.4 270.59,270.7 270.76,270.5 270.93,270.7 271.10,270.8 271.27,271.1 271.44,270.7 271.61,271.4 271.78,270.9 271.95,271.7 272.12,271.7 272.29,271.3 272.46,272.2 272.63,272.8 272.80,272.6 272.97,271.4 273.14,272.6 273.31,272.2 273.48,272.1 273.65,271.9 273.82,272.2 273.99,272.9 274.16,272.5 274.33,272.1 274.50,272.0 274.67,272.2 274.84,272.6 275.01,273.2 275.18,271.9 275.35,272.4 275.52,272.2 275.69,272.1 275.86,272.6 276.03,272.7 276.20,271.8 276.37,271.9 276.54,272.9 276.71,272.5 276.88,272.6 277.05,272.1 277.22,272.0 277.39,272.3 277.56,271.7 277.73,271.3 277.90,271.5 278.07,271.6 278.24,270.4 278.41,271.0 278.58,270.4 278.75,269.4 278.92,269.5 279.09,269.4 279.26,269.7 279.43,269.8 279.60,269.1 279.77,269.3 279.94,270.6 280.11,270.4 280.28,270.9 280.45,271.1 280.62,272.0 280.79,271.0 280.96,272.3 281.13,271.7 281.30,272.5 281.47,272.9 281.64,271.8 281.81,272.7 281.98,272.5 282.15,272.5 282.32,272.7 282.49,272.2 282.66,272.3 282.83,273.0 283.00,273.1 283.17,272.5 283.34,272.2 283.51,273.9 283.68,273.3 283.85,273.0 284.02,272.4 284.19,272.6 284.36,273.0 284.53,272.5 284.70,273.6 284.87,273.0 285.04,273.1 285.21,272.5 285.38,272.5 285.55,272.6 285.72,273.1 285.89,272.8 286.06,272.8 286.23,273.1 286.40,273.1 286.57,273.6 286.74,272.9 286.91,272.5 287.08,273.0 287.25,273.6 287.42,272.7 287.59,273.0 287.76,272.8 287.93,273.2 288.10,273.1 288.27,272.6 288.44,272.9 288.61,273.4 288.78,273.5 288.95,273.4 289.12,273.4 289.29,272.9 289.46,272.9 289.63,273.4 289.80,272.5 289.97,273.0 290.14,272.2 290.31,272.9 290.48,272.7 290.65,272.5 290.82,273.3 290.99,272.7 291.16,272.9 291.33,272.9 291.50,272.7 291.67,273.7 291.84,272.8 292.01,273.1 292.18,272.5 292.35,272.8 292.52,272.9 292.69,272.9 292.86,272.8 293.03,273.1 293.20,273.7 293.37,273.0 293.54,273.0 293.71,272.9 293.88,274.2 294.05,273.8 294.22,273.3 294.39,273.4 294.56,272.7 294.73,273.0 294.90,273.2 295.07,273.1 295.24,272.7 295.41,272.7 295.58,273.3 295.75,273.2 295.92,272.1 296.09,273.1 296.26,273.6 296.43,272.8 296.60,273.2 296.77,272.4 296.94,273.4 297.11,272.6 297.28,272.5 297.45,272.9 297.62,274.1 297.79,272.8 297.96,272.5 298.13,273.3 298.30,273.2 298.47,273.8 298.64,272.5 298.81,272.4 298.98,272.9 299.15,273.2 299.32,273.2 299.49,273.5 299.66,272.4 299.83,272.7 300.00,273.0 300.17,273.4 300.34,273.3 300.51,272.9 300.68,272.6 300.85,273.4 301.02,273.5 301.19,274.2 301.36,273.0 301.53,273.8 301.70,272.5 301.87,272.8 302.04,272.7 302.21,272.8 302.38,272.7 302.55,272.8 302.72,273.0 302.89,272.8 303.06,273.3 303.23,273.0 303.40,273.0 303.57,273.7 303.74,273.2 303.91,273.1 304.08,273.0 304.25,273.1 304.42,273.3 304.59,272.7 304.76,273.5 304.93,273.7 305.10,273.5 305.27,272.8 305.44,272.3 305.61,272.8 305.78,273.1 305.95,273.4 306.12,272.9 306.29,272.9 306.46,273.7 306.63,272.7 306.80,273.5 306.97,273.4 307.14,272.4 307.31,273.1 307.48,272.7 307.65,272.5 307.82,272.1 307.99,272.3 308.16,273.1 308.33,272.8 308.50,273.0 308.67,272.4 308.84,272.8 309.01,272.8 309.18,272.2 309.35,272.1 309.52,273.1 309.69,272.9 309.86,272.4 310.03,272.8 310.20,273.1 310.37,273.6 310.54,272.4 310.71,273.0 310.88,273.7 311.05,272.8 311.22,273.4 311.39,271.5 311.56,273.3 311.73,272.6 311.90,271.8 312.07,272.9 312.24,273.0 312.41,273.0 312.58,273.0 312.75,272.4 312.92,272.0 313.09,272.1 313.26,272.2 313.43,272.3 313.60,271.8 313.77,271.9 313.94,272.1 314.11,271.6 314.28,272.2 314.45,271.7 314.62,269.8 314.79,269.5 314.96,268.5 315.13,267.7 315.30,267.6 315.47,265.9 315.64,264.9 315.81,264.2 315.98,263.9 316.15,262.8 316.32,262.5 316.49,263.0 316.66,263.0 316.83,263.4 317.00,264.1 317.17,263.8 317.34,265.0 317.51,265.4 317.68,266.9 317.85,267.6 318.02,267.6 318.19,269.4 318.36,268.9 318.53,270.5 318.70,270.6 318.87,270.5 319.04,270.7 319.21,271.3 319.38,271.7 319.55,271.5 319.72,272.2 319.89,271.4 320.06,272.1 320.23,272.2 320.40,271.4 320.57,272.5 320.74,271.8 320.91,271.3 321.08,272.2 321.25,272.4 321.42,272.9 321.59,272.3 321.76,273.2 321.93,273.2 322.10,273.0 322.27,273.1 322.44,272.7 322.61,272.3 322.78,272.8 322.95,273.0 323.12,272.6 323.29,272.4 323.46,271.8 323.63,272.8 323.80,272.6 323.97,271.9 324.14,272.5 324.31,272.7 324.48,272.3 324.65,272.6 324.82,272.5 324.99,271.4 325.16,271.7 325.33,271.9 325.50,271.8 325.67,271.7 325.84,269.8 326.01,270.2 326.18,270.0 326.35,269.7 326.52,269.4 326.69,267.8 326.86,267.6 327.03,267.1 327.20,267.9 327.37,267.0 327.54,268.3 327.71,268.4 327.88,268.5 328.05,267.6 328.22,268.6 328.39,269.6 328.56,269.1 328.73,270.0 328.90,270.5 329.07,271.3 329.24,271.4 329.41,271.7 329.58,271.6 329.75,272.0 329.92,272.1 330.09,272.6 330.26,272.3 330.43,272.9 330.60,271.8 330.77,273.1 330.94,272.5 331.11,273.1 331.28,272.7 331.45,273.1 331.62,273.4 331.79,272.5 331.96,272.8 332.13,272.7 332.30,272.9 332.47,272.1 332.64,272.8 332.81,272.7 332.98,272.5 333.15,272.8 333.32,272.2 333.49,273.5 333.66,273.1 333.83,273.7 334.00,272.5 334.17,272.4 334.34,273.0 334.51,272.2 334.68,273.0 334.85,272.6 335.02,272.8 335.19,273.1 335.36,273.0 335.53,273.8 335.70,273.2 335.87,272.4 336.04,273.4 336.21,272.4 336.38,273.0 336.55,272.4 336.72,272.6 336.89,273.5 337.06,272.7 337.23,272.7 337.40,272.7 337.57,272.8 337.74,273.6 337.91,272.4 338.08,272.4 338.25,273.2 338.42,272.3 338.59,272.8 338.76,273.5 338.93,273.0 339.10,272.8 339.27,272.7 339.44,272.6 339.61,272.7 339.78,273.0 339.95,273.5 340.12,273.4 340.29,272.7 340.46,272.6 340.63,273.3 340.80,272.2 340.97,272.8 341.14,272.8 341.31,272.5 341.48,272.5 341.65,273.1 341.82,272.2 341.99,272.6 342.16,272.7 342.33,273.0 342.50,272.3 342.67,273.4 342.84,272.8 343.01,272.8 343.18,272.8 343.35,272.6 343.52,272.5 343.69,273.4 343.86,273.0 344.03,272.9 344.20,273.4 344.37,272.6 344.54,273.2 344.71,272.9 344.88,272.5 345.05,273.2 345.22,272.2 345.39,273.2 345.56,272.5 345.73,273.1 345.90,273.5 346.07,273.1 346.24,272.6 346.41,272.9 346.58,272.7 346.75,272.3 346.92,272.4 347.09,272.9 347.26,273.1 347.43,272.1 347.60,272.8 347.77,273.0 347.94,272.9 348.11,272.4 348.28,273.3 348.45,272.3 348.62,273.1 348.79,273.5 348.96,271.9 349.13,272.9 349.30,272.9 349.47,272.8 349.64,272.4 349.81,272.6 349.98,272.1 350.15,272.8 350.32,272.9 350.49,272.4 350.66,272.3 350.83,272.4 351.00,272.6 351.17,272.6 351.34,272.6 351.51,272.6 351.68,272.0 351.85,271.3 352.02,272.8 352.19,273.1 352.36,271.9 352.53,272.2 352.70,272.6 352.87,272.8 353.04,272.7 353.21,272.9 353.38,272.3 353.55,272.5 353.72,272.5 353.89,272.1 354.06,272.8 354.23,272.5 354.40,272.6 354.57,271.9 354.74,272.5 354.91,271.5 355.08,272.1 355.25,270.8 355.42,271.4 355.59,272.1 355.76,271.5 355.93,271.7 356.10,270.9 356.27,272.2 356.44,271.7 356.61,271.3 356.78,271.4 356.95,271.2 357.12,271.6 357.29,270.9 357.46,270.0 357.63,270.4 357.80,270.9 357.97,270.4 358.14,269.8 358.31,270.0 358.48,269.5 358.65,269.4 358.82,268.1 358.99,268.0 359.16,268.2 359.33,267.3 359.50,266.8 359.67,266.6 359.84,264.3 360.01,262.8 360.18,260.0 360.35,256.6 360.52,252.5 360.69,246.3 360.86,239.4 361.03,233.5 361.20,225.3 361.37,219.2 361.54,214.4 361.71,213.3 361.88,215.3 362.05,218.8 362.22,221.7 362.39,226.1 362.56,227.7 362.73,230.6 362.90,234.4 363.07,236.9 363.24,242.1 363.41,245.9 363.58,251.0 363.75,254.8 363.92,258.5 364.09,260.7 364.26,262.9 364.43,265.1 364.60,265.5 364.77,266.7 364.94,268.0 365.11,268.0 365.28,268.4 365.45,268.6 365.62,269.5 365.79,269.5 365.96,270.0 366.13,270.1 366.30,271.2 366.47,270.4 366.64,269.8 366.81,270.9 366.98,271.0 367.15,271.2 367.32,270.5 367.49,271.8 367.66,271.4 367.83,271.5 368.00,270.9 368.17,271.9 368.34,271.7 368.51,272.4 368.68,271.7 368.85,271.4 369.02,272.0 369.19,271.6 369.36,272.3 369.53,271.6 369.70,272.1 369.87,272.1 370.04,272.2 370.21,272.0 370.38,271.9 370.55,272.3 370.72,272.1 370.89,272.5 371.06,272.3 371.23,271.5 371.40,272.4 371.57,273.1 371.74,272.6 371.91,272.8 372.08,272.7 372.25,272.4 372.42,272.0 372.59,273.0 372.76,273.1 372.93,272.9 373.10,272.8 373.27,272.8 373.44,272.7 373.61,272.8 373.78,272.7 373.95,272.9 374.12,272.3 374.29,272.5 374.46,273.0 374.63,272.6 374.80,271.7 374.97,272.8 375.14,271.8 375.31,273.6 375.48,273.1 375.65,273.1 375.82,272.5 375.99,272.3 376.16,272.7 376.33,272.8 376.50,272.5 376.67,272.9 376.84,273.2 377.01,273.1 377.18,272.4 377.35,271.9 377.52,272.9 377.69,272.6 377.86,273.1 378.03,273.6 378.20,273.6 378.37,273.0 378.54,273.4 378.71,273.6 378.88,272.9 379.05,273.0 379.22,273.3 379.39,272.9 379.56,272.7 379.73,272.6 379.90,272.9 380.07,272.7 380.24,273.3 380.41,272.8 380.58,273.6 380.75,273.5 380.92,272.4 381.09,273.4 381.26,272.8 381.43,273.6 381.60,273.2 381.77,273.0 381.94,273.3 382.11,272.7 382.28,273.1 382.45,273.2 382.62,272.9 382.79,273.2 382.96,272.6 383.13,273.2 383.30,272.5 383.47,273.3 383.64,273.2 383.81,273.3 383.98,272.8 384.15,274.3 384.32,272.9 384.49,273.1 384.66,272.7 384.83,273.6 385.00,272.8 385.17,273.5 385.34,272.6 385.51,273.2 385.68,272.9 385.85,273.4 386.02,272.9 386.19,272.7 386.36,273.2 386.53,272.5 386.70,272.6 386.87,273.4 387.04,272.3 387.21,273.4 387.38,272.9 387.55,272.7 387.72,273.2 387.89,273.3 388.06,272.8 388.23,273.0 388.40,273.4 388.57,273.4 388.74,273.0 388.91,272.7 389.08,272.7 389.25,272.8 389.42,273.4 389.59,273.3 389.76,273.2 389.93,273.7 390.10,272.9 390.27,272.9 390.44,272.9 390.61,273.9 390.78,272.2 390.95,273.2 391.12,273.3 391.29,273.1 391.46,274.1 391.63,273.6 391.80,273.4 391.97,272.7 392.14,273.3 392.31,272.9 392.48,273.1 392.65,273.2 392.82,272.9 392.99,273.4 393.16,273.8 393.33,273.5 393.50,273.2 393.67,272.3 393.84,273.6 394.01,273.6 394.18,273.0 394.35,272.9 394.52,273.4 394.69,272.8 394.86,273.4 395.03,272.6 395.20,272.7 395.37,273.1 395.54,272.5 395.71,273.1 395.88,273.3 396.05,272.5 396.22,273.5 396.39,272.9 396.56,273.3 396.73,273.2 396.90,272.9 397.07,272.9 397.24,272.4 397.41,272.8 397.58,272.8 397.75,273.8 397.92,273.5 398.09,272.5 398.26,273.4 398.43,273.2 398.60,272.9 398.77,273.3 398.94,273.4 399.11,272.9 399.28,273.0 399.45,273.2 399.62,272.7 399.79,273.2 399.96,273.1 400.13,272.8 400.30,272.8 400.47,273.2 400.64,273.5 400.81,273.2 400.98,272.7 401.15,273.4 401.32,273.2 401.49,273.4 401.66,273.6 401.83,272.7 402.00,273.0 402.17,272.9 402.34,272.7 402.51,273.9 402.68,273.5 402.85,272.4 403.02,273.3 403.19,272.9 403.36,273.6 403.53,273.1 403.70,273.0 403.87,273.2 404.04,273.3 404.21,273.1 404.38,273.0 404.55,273.0 404.72,273.3 404.89,272.6 405.06,273.1 405.23,273.0 405.40,272.9 405.57,273.4 405.74,272.5 405.91,272.9 406.08,272.7 406.25,273.3 406.42,272.9 406.59,273.1 406.76,273.2 406.93,272.4 407.10,273.2 407.27,272.7 407.44,272.9 407.61,273.0 407.78,273.4 407.95,273.3 408.12,273.8 408.29,273.1 408.46,272.8 408.63,272.8 408.80,273.3 408.97,273.7 409.14,273.1 409.31,272.7 409.48,273.1 409.65,273.0 409.82,272.9 409.99,272.6 410.16,271.8 410.33,272.6 410.50,273.3 410.67,272.9 410.84,271.8 411.01,272.7 411.18,271.8 411.35,273.3 411.52,272.4 411.69,271.6 411.86,272.3 412.03,271.3 412.20,271.6 412.37,271.1 412.54,270.2 412.71,270.7 412.88,269.7 413.05,270.7 413.22,270.2 413.39,269.8 413.56,269.6 413.73,271.2 413.90,271.3 414.07,270.3 414.24,271.6 414.41,271.1 414.58,271.1 414.75,271.4 414.92,271.5 415.09,272.4 415.26,272.1 415.43,271.4 415.60,273.2 415.77,272.8 415.94,272.1 416.11,272.5 416.28,272.3 416.45,272.8 416.62,273.0 416.79,273.0 416.96,272.6 417.13,272.6 417.30,273.3 417.47,272.9 417.64,273.9 417.81,272.6 417.98,273.3 418.15,273.0 418.32,272.7 418.49,273.6 418.66,273.1 418.83,272.6 419.00,272.9 419.17,273.5 419.34,272.5 419.51,273.6 419.68,273.3 419.85,272.9 420.02,273.6 420.19,273.8 420.36,273.3 420.53,273.1 420.70,273.8 420.87,273.7 421.04,272.7 421.21,273.0 421.38,273.0 421.55,272.9 421.72,272.4 421.89,273.4 422.06,273.1 422.23,273.1 422.40,273.7 422.57,272.8 422.74,273.0 422.91,273.2 423.08,272.9 423.25,273.0 423.42,273.4 423.59,273.1 423.76,273.6 423.93,272.8 424.10,273.2 424.27,272.5 424.44,273.0 424.61,272.8 424.78,273.7 424.95,273.4 425.12,273.3 425.29,273.9 425.46,273.7 425.63,273.4 425.80,272.8 425.97,272.5 426.14,273.1 426.31,272.9 426.48,272.8 426.65,272.9 426.82,272.4 426.99,273.7 427.16,272.6 427.33,272.8 427.50,273.3 427.67,272.4 427.84,273.5 428.01,273.5 428.18,272.9 428.35,272.6 428.52,272.9 428.69,272.3 428.86,273.6 429.03,273.1 429.20,272.7 429.37,272.7 429.54,273.3 429.71,273.7 429.88,272.5 430.05,272.8 430.22,272.3 430.39,273.3 430.56,273.1 430.73,274.0 430.90,273.0 431.07,272.8 431.24,272.7 431.41,273.4 431.58,272.3 431.75,273.3 431.92,273.1 432.09,272.8 432.26,272.6 432.43,273.4 432.60,273.8 432.77,272.8 432.94,273.2 433.11,273.7 433.28,272.7 433.45,272.9 433.62,272.4 433.79,272.9 433.96,272.9 434.13,272.8 434.30,272.6 434.47,272.3 434.64,272.4 434.81,272.5 434.98,273.2 435.15,272.7 435.32,272.5 435.49,273.2 435.66,273.1 435.83,272.5 436.00,272.6 436.17,273.1 436.34,273.0 436.51,272.5 436.68,272.9 436.85,272.8 437.02,273.3 437.19,272.4 437.36,273.1 437.53,272.9 437.70,272.3 437.87,273.2 438.04,273.1 438.21,272.1 438.38,273.5 438.55,272.1 438.72,272.2 438.89,272.4 439.06,272.9 439.23,272.8 439.40,272.5 439.57,273.1 439.74,272.6 439.91,273.0 440.08,273.6 440.25,272.4 440.42,271.2 440.59,272.0 440.76,271.7 440.93,272.1 441.10,272.1 441.27,271.4 441.44,271.4 441.61,271.7 441.78,271.6 441.95,270.5 442.12,271.9 442.29,271.3 442.46,271.2 442.63,271.1 442.80,270.4 442.97,270.5 443.14,270.7 443.31,270.4 443.48,269.6 443.65,268.6 443.82,267.5 443.99,267.2 444.16,265.3 444.33,262.9 444.50,259.7 444.67,257.4 444.84,253.7 445.01,251.7 445.18,248.2 445.35,245.5 445.52,244.6 445.69,246.1 445.86,246.8 446.03,247.5 446.20,249.9 446.37,250.9 446.54,251.8 446.71,253.4 446.88,255.1 447.05,255.5 447.22,256.0 447.39,257.5 447.56,259.6 447.73,262.0 447.90,262.7 448.07,264.2 448.24,267.3 448.41,267.8 448.58,269.3 448.75,269.4 448.92,270.5 449.09,270.0 449.26,270.8 449.43,271.5 449.60,271.5 449.77,271.0 449.94,271.7 450.11,271.2 450.28,270.9 450.45,271.9 450.62,272.4 450.79,272.2 450.96,271.3 451.13,272.3 451.30,272.3 451.47,271.8 451.64,271.0 451.81,272.6 451.98,272.5 452.15,272.4 452.32,271.4 452.49,271.4 452.66,272.5 452.83,272.3 453.00,272.1 453.17,271.7 453.34,271.8 453.51,271.2 453.68,271.1 453.85,270.7 454.02,271.0 454.19,270.6 454.36,271.2 454.53,271.1 454.70,270.5 454.87,271.8 455.04,270.6 455.21,271.4 455.38,271.8 455.55,272.0 455.72,270.5 455.89,272.0 456.06,272.2 456.23,272.4 456.40,270.9 456.57,271.7 456.74,272.1 456.91,272.1 457.08,273.0 457.25,272.2 457.42,273.1 457.59,272.9 457.76,272.0 457.93,272.3 458.10,272.6 458.27,272.8 458.44,273.3 458.61,272.8 458.78,273.3 458.95,272.2 459.12,271.5 459.29,272.7 459.46,273.1 459.63,272.7 459.80,272.5 459.97,273.1 460.14,273.8 460.31,272.9 460.48,272.6 460.65,272.6 460.82,273.9 460.99,273.0 461.16,273.3 461.33,273.5 461.50,273.5 461.67,272.6 461.84,273.4 462.01,273.4 462.18,273.2 462.35,273.5 462.52,272.8 462.69,273.0 462.86,272.8 463.03,273.4 463.20,272.7 463.37,273.2 463.54,272.5 463.71,273.0 463.88,272.9 464.05,273.0 464.22,273.1 464.39,273.0 464.56,273.0 464.73,272.1 464.90,273.6 465.07,272.8 465.24,272.9 465.41,272.7 465.58,273.5 465.75,272.7 465.92,273.3 466.09,273.6 466.26,273.8 466.43,273.6 466.60,273.3 466.77,272.5 466.94,273.7 467.11,273.6 467.28,273.5 467.45,273.4 467.62,273.1 467.79,272.8 467.96,273.6 468.13,273.7 468.30,272.6 468.47,273.5 468.64,273.2 468.81,273.5 468.98,273.2 469.15,273.6 469.32,273.5 469.49,273.5 469.66,272.5 469.83,273.5 470.00,273.1 470.17,272.6 470.34,273.4 470.51,272.5 470.68,273.5 470.85,273.9 471.02,272.9 471.19,273.5 471.36,273.3 471.53,273.4 471.70,272.5 471.87,273.4 472.04,273.2 472.21,273.4 472.38,273.1 472.55,273.6 472.72,273.2 472.89,273.4 473.06,273.7 473.23,273.2 473.40,273.5 473.57,273.2 473.74,273.3 473.91,272.9 474.08,273.4 474.25,273.6 474.42,273.0 474.59,273.4 474.76,273.3 474.93,272.6 475.10,273.2 475.27,273.7 475.44,272.9 475.61,272.3 475.78,273.2 475.95,272.8 476.12,273.9 476.29,273.0 476.46,273.1 476.63,272.8 476.80,273.2 476.97,272.8 477.14,272.6 477.31,273.0 477.48,272.7 477.65,273.6 477.82,272.5 477.99,273.0 478.16,272.7 478.33,272.4 478.50,273.7 478.67,272.1 478.84,273.6 479.01,272.3 479.18,273.0 479.35,273.9 479.52,272.0 479.69,272.3 479.86,273.5 480.03,273.0 480.20,272.6 480.37,272.8 480.54,272.4 480.71,272.9 480.88,273.4 481.05,272.6 481.22,272.8 481.39,273.2 481.56,273.5 481.73,272.3 481.90,272.7 482.07,272.2 482.24,272.1 482.41,272.1 482.58,271.9 482.75,271.3 482.92,270.9 483.09,271.3 483.26,271.4 483.43,271.5 483.60,270.3 483.77,270.0 483.94,269.9 484.11,269.4 484.28,268.4 484.45,267.9 484.62,268.3 484.79,266.9 484.96,266.6 485.13,266.0 485.30,266.9 485.47,266.8 485.64,267.9 485.81,267.2 485.98,267.9 486.15,268.2 486.32,268.8 486.49,267.7 486.66,269.3 486.83,268.9 487.00,269.2 487.17,269.4 487.34,269.8 487.51,270.2 487.68,269.6 487.85,271.2 488.02,271.3 488.19,271.1 488.36,271.8 488.53,273.0 488.70,272.3 488.87,272.1 489.04,273.1 489.21,272.1 489.38,272.5 489.55,272.4 489.72,272.6 489.89,273.0 490.06,273.0 490.23,272.5 490.40,272.8 490.57,272.9 490.74,272.7 490.91,272.9 491.08,272.6 491.25,272.6 491.42,272.9 491.59,272.5 491.76,273.1 491.93,272.9 492.10,272.6 492.27,272.7 492.44,272.8 492.61,272.9 492.78,273.1 492.95,272.9 493.12,272.6 493.29,273.7 493.46,273.4 493.63,273.1 493.80,273.5 493.97,273.2 494.14,273.0 494.31,273.1 494.48,274.2 494.65,273.5 494.82,273.5 494.99,272.9 495.16,273.4 495.33,274.1 495.50,273.3 495.67,273.6 495.84,273.7 496.01,273.4 496.18,273.8 496.35,273.2 496.52,273.3 496.69,272.8 496.86,274.3 497.03,273.3 497.20,273.2 497.37,273.7 497.54,272.9 497.71,273.1 497.88,272.8 498.05,273.1 498.22,273.0 498.39,273.4 498.56,273.1 498.73,272.9 498.90,273.0 499.07,273.1 499.24,272.9 499.41,273.6 499.58,273.4 499.75,273.2 499.92,272.6 500.09,273.4 500.26,272.6 500.43,273.2 500.60,273.2 500.77,272.9 500.94,272.8 501.11,272.9 501.28,274.0 501.45,273.0 501.62,273.1 501.79,273.6 501.96,273.3 502.13,273.6 502.30,272.6 502.47,272.7 502.64,274.6 502.81,273.1 502.98,273.0 503.15,273.2 503.32,273.6 503.49,272.6 503.66,273.3 503.83,273.2 504.00,273.5 504.17,273.2 504.34,272.9 504.51,272.8 504.68,272.1 504.85,273.6 505.02,272.5 505.19,273.0 505.36,273.9 505.53,273.0 505.70,273.4 505.87,273.1 506.04,273.5 506.21,273.2 506.38,273.0 506.55,273.8 506.72,273.1 506.89,272.6 507.06,273.0 507.23,273.4 507.40,272.7 507.57,273.5 507.74,273.5 507.91,274.1 508.08,272.9 508.25,273.5 508.42,272.5 508.59,273.0"/><polyline fill="none" stroke="#000000" stroke-width="2.4" stroke-linejoin="round" points="45.00,235.7 45.17,235.9 45.34,235.7 45.51,235.6 45.68,235.4 45.85,235.5 46.02,235.8 46.19,235.9 46.36,236.0 46.53,236.1 46.70,236.2 46.87,234.9 47.04,235.5 47.21,235.6 47.38,235.4 47.55,236.1 47.72,236.0 47.89,235.6 48.06,235.7 48.23,236.2 48.40,235.5 48.57,235.5 48.74,236.1 48.91,235.9 49.08,236.3 49.25,235.8 49.42,236.0 49.59,235.4 49.76,235.3 49.93,235.7 50.10,234.5 50.27,235.8 50.44,236.1 50.61,235.7 50.78,235.6 50.95,236.1 51.12,235.6 51.29,236.1 51.46,236.6 51.63,236.0 51.80,236.1 51.97,235.9 52.14,235.8 52.31,235.8 52.48,235.7 52.65,236.1 52.82,235.0 52.99,235.5 53.16,235.9 53.33,235.3 53.50,235.6 53.67,235.4 53.84,235.8 54.01,236.0 54.18,236.3 54.35,235.9 54.52,235.3 54.69,235.8 54.86,235.9 55.03,236.2 55.20,234.7 55.37,235.8 55.54,234.9 55.71,235.9 55.88,235.8 56.05,235.8 56.22,236.0 56.39,235.8 56.56,235.3 56.73,235.8 56.90,236.1 57.07,235.6 57.24,235.6 57.41,235.1 57.58,236.1 57.75,235.4 57.92,235.3 58.09,235.4 58.26,235.2 58.43,235.5 58.60,236.1 58.77,235.9 58.94,236.2 59.11,236.2 59.28,235.2 59.45,235.8 59.62,236.2 59.79,236.6 59.96,235.0 60.13,234.9 60.30,235.8 60.47,235.4 60.64,235.1 60.81,235.7 60.98,235.2 61.15,234.5 61.32,235.5 61.49,235.6 61.66,235.8 61.83,235.9 62.00,235.6 62.17,235.4 62.34,235.2 62.51,234.7 62.68,235.3 62.85,235.9 63.02,235.7 63.19,236.3 63.36,235.3 63.53,234.6 63.70,235.7 63.87,235.8 64.04,234.8 64.21,234.6 64.38,235.3 64.55,235.5 64.72,234.7 64.89,235.0 65.06,234.8 65.23,234.6 65.40,234.5 65.57,235.0 65.74,234.7 65.91,234.5 66.08,233.6 66.25,235.4 66.42,234.1 66.59,234.3 66.76,233.8 66.93,234.2 67.10,233.1 67.27,233.4 67.44,232.6 67.61,231.8 67.78,228.9 67.95,226.0 68.12,222.0 68.29,218.3 68.46,213.1 68.63,212.8 68.80,213.9 68.97,217.2 69.14,221.2 69.31,225.0 69.48,228.3 69.65,230.7 69.82,231.8 69.99,232.9 70.16,232.9 70.33,233.8 70.50,233.8 70.67,234.2 70.84,234.8 71.01,234.8 71.18,234.9 71.35,235.3 71.52,233.8 71.69,235.1 71.86,235.0 72.03,235.0 72.20,234.5 72.37,235.4 72.54,235.7 72.71,235.6 72.88,235.2 73.05,235.5 73.22,235.7 73.39,236.1 73.56,235.8 73.73,235.4 73.90,235.4 74.07,235.4 74.24,235.5 74.41,235.2 74.58,235.7 74.75,235.1 74.92,235.1 75.09,235.6 75.26,235.2 75.43,235.4 75.60,234.6 75.77,235.8 75.94,235.5 76.11,235.4 76.28,235.7 76.45,235.6 76.62,235.2 76.79,236.4 76.96,235.3 77.13,235.9 77.30,236.3 77.47,235.3 77.64,235.6 77.81,235.2 77.98,236.0 78.15,235.4 78.32,235.1 78.49,236.1 78.66,236.0 78.83,235.2 79.00,236.1 79.17,235.6 79.34,236.7 79.51,236.3 79.68,235.3 79.85,235.5 80.02,235.2 80.19,235.6 80.36,235.6 80.53,235.9 80.70,235.6 80.87,234.9 81.04,235.2 81.21,236.2 81.38,236.1 81.55,235.5 81.72,235.5 81.89,235.5 82.06,235.6 82.23,234.9 82.40,236.0 82.57,235.3 82.74,235.6 82.91,234.5 83.08,235.7 83.25,236.2 83.42,234.6 83.59,236.2 83.76,235.8 83.93,235.3 84.10,234.9 84.27,236.1 84.44,235.7 84.61,235.8 84.78,235.4 84.95,235.2 85.12,235.9 85.29,235.1 85.46,235.9 85.63,234.8 85.80,235.1 85.97,234.9 86.14,236.1 86.31,234.8 86.48,235.0 86.65,235.8 86.82,235.6 86.99,236.4 87.16,236.3 87.33,235.7 87.50,235.8 87.67,234.7 87.84,235.0 88.01,235.3 88.18,235.3 88.35,234.8 88.52,234.9 88.69,235.0 88.86,235.7 89.03,235.4 89.20,235.0 89.37,235.0 89.54,235.2 89.71,234.6 89.88,234.6 90.05,233.7 90.22,234.1 90.39,233.4 90.56,231.8 90.73,230.4 90.90,229.0 91.07,229.0 91.24,228.5 91.41,228.6 91.58,229.7 91.75,231.7 91.92,233.0 92.09,233.8 92.26,234.5 92.43,234.7 92.60,234.2 92.77,234.7 92.94,234.3 93.11,235.0 93.28,234.6 93.45,235.3 93.62,235.2 93.79,234.5 93.96,235.7 94.13,235.7 94.30,234.8 94.47,235.5 94.64,235.8 94.81,235.3 94.98,235.8 95.15,235.6 95.32,236.0 95.49,235.6 95.66,235.4 95.83,235.7 96.00,235.9 96.17,235.6 96.34,235.3 96.51,235.2 96.68,235.4 96.85,235.3 97.02,235.6 97.19,235.6 97.36,235.5 97.53,235.6 97.70,235.6 97.87,236.3 98.04,236.1 98.21,235.3 98.38,235.8 98.55,235.4 98.72,235.5 98.89,235.5 99.06,235.3 99.23,235.0 99.40,234.5 99.57,235.7 99.74,236.1 99.91,235.2 100.08,235.8 100.25,235.4 100.42,235.7 100.59,235.3 100.76,235.5 100.93,235.6 101.10,234.6 101.27,235.7 101.44,235.5 101.61,234.5 101.78,235.9 101.95,235.6 102.12,235.7 102.29,235.8 102.46,235.4 102.63,235.1 102.80,235.4 102.97,235.4 103.14,236.6 103.31,236.4 103.48,235.4 103.65,235.4 103.82,235.7 103.99,235.9 104.16,235.3 104.33,235.2 104.50,236.5 104.67,236.1 104.84,234.9 105.01,234.8 105.18,235.2 105.35,235.7 105.52,235.8 105.69,235.5 105.86,234.9 106.03,235.7 106.20,235.9 106.37,235.6 106.54,235.4 106.71,235.9 106.88,235.6 107.05,235.1 107.22,235.6 107.39,235.0 107.56,236.0 107.73,235.8 107.90,235.2 108.07,235.7 108.24,236.2 108.41,234.7 108.58,235.5 108.75,236.3 108.92,234.9 109.09,235.5 109.26,235.0 109.43,235.6 109.60,234.6 109.77,234.9 109.94,235.4 110.11,235.7 110.28,235.8 110.45,235.8 110.62,236.1 110.79,235.9 110.96,235.9 111.13,235.2 111.30,235.5 111.47,237.0 111.64,236.6 111.81,236.0 111.98,235.9 112.15,236.0 112.32,235.4 112.49,236.5 112.66,235.4 112.83,235.6 113.00,236.6 113.17,234.7 113.34,235.8 113.51,234.8 113.68,235.3 113.85,235.6 114.02,235.4 114.19,235.7 114.36,235.3 114.53,235.5 114.70,235.1 114.87,235.4 115.04,235.0 115.21,235.9 115.38,235.0 115.55,235.9 115.72,235.4 115.89,235.5 116.06,236.1 116.23,235.6 116.40,234.7 116.57,235.8 116.74,234.3 116.91,235.7 117.08,235.4 117.25,235.0 117.42,235.6 117.59,235.4 117.76,236.5 117.93,235.4 118.10,236.4 118.27,236.2 118.44,235.3 118.61,235.2 118.78,236.2 118.95,235.5 119.12,235.6 119.29,235.5 119.46,235.0 119.63,235.4 119.80,235.1 119.97,234.9 120.14,235.4 120.31,236.4 120.48,236.3 120.65,235.5 120.82,235.6 120.99,235.8 121.16,236.2 121.33,235.7 121.50,235.3 121.67,235.4 121.84,236.1 122.01,236.7 122.18,235.3 122.35,234.6 122.52,235.9 122.69,235.5 122.86,235.6 123.03,236.1 123.20,235.6 123.37,234.9 123.54,234.7 123.71,235.5 123.88,235.0 124.05,235.7 124.22,235.0 124.39,235.4 124.56,234.9 124.73,235.4 124.90,235.3 125.07,235.8 125.24,236.1 125.41,235.4 125.58,235.1 125.75,236.4 125.92,235.7 126.09,235.8 126.26,235.8 126.43,236.1 126.60,235.9 126.77,235.8 126.94,235.8 127.11,235.1 127.28,235.2 127.45,235.4 127.62,235.5 127.79,235.5 127.96,235.6 128.13,235.5 128.30,235.3 128.47,234.7 128.64,235.8 128.81,235.7 128.98,235.1 129.15,235.7 129.32,235.6 129.49,235.5 129.66,234.6 129.83,234.9 130.00,235.2 130.17,236.1 130.34,235.0 130.51,235.3 130.68,234.9 130.85,235.2 131.02,235.6 131.19,234.5 131.36,234.1 131.53,235.7 131.70,235.4 131.87,235.1 132.04,235.8 132.21,235.8 132.38,234.4 132.55,235.3 132.72,235.8 132.89,235.0 133.06,235.2 133.23,235.8 133.40,235.2 133.57,234.8 133.74,235.0 133.91,234.7 134.08,235.5 134.25,234.5 134.42,235.7 134.59,234.5 134.76,235.3 134.93,234.6 135.10,235.1 135.27,235.7 135.44,235.7 135.61,235.8 135.78,235.1 135.95,235.2 136.12,235.3 136.29,235.4 136.46,235.0 136.63,235.6 136.80,235.3 136.97,235.6 137.14,235.3 137.31,235.4 137.48,234.7 137.65,234.8 137.82,234.4 137.99,234.9 138.16,234.9 138.33,235.3 138.50,234.4 138.67,236.4 138.84,234.8 139.01,235.4 139.18,235.3 139.35,233.7 139.52,234.7 139.69,235.4 139.86,233.6 140.03,235.0 140.20,234.2 140.37,234.4 140.54,234.7 140.71,233.7 140.88,234.6 141.05,234.2 141.22,234.1 141.39,234.7 141.56,235.9 141.73,234.4 141.90,234.4 142.07,234.1 142.24,233.7 142.41,234.1 142.58,234.6 142.75,233.9 142.92,234.1 143.09,233.6 143.26,234.7 143.43,232.7 143.60,233.6 143.77,233.5 143.94,233.2 144.11,232.4 144.28,232.3 144.45,232.5 144.62,232.5 144.79,231.7 144.96,231.6 145.13,232.1 145.30,232.0 145.47,231.0 145.64,230.6 145.81,230.3 145.98,231.3 146.15,230.0 146.32,229.3 146.49,229.2 146.66,229.2 146.83,228.0 147.00,226.0 147.17,225.6 147.34,224.3 147.51,223.0 147.68,220.8 147.85,218.8 148.02,214.9 148.19,210.0 148.36,201.0 148.53,186.4 148.70,165.8 148.87,138.8 149.04,106.5 149.21,74.1 149.38,51.9 149.55,46.2 149.72,57.2 149.89,72.6 150.06,91.9 150.23,115.1 150.40,141.2 150.57,164.7 150.74,185.3 150.91,198.4 151.08,207.7 151.25,214.1 151.42,218.2 151.59,221.1 151.76,222.8 151.93,224.4 152.10,226.1 152.27,227.0 152.44,227.6 152.61,228.7 152.78,228.9 152.95,228.9 153.12,229.0 153.29,229.9 153.46,230.6 153.63,231.1 153.80,231.7 153.97,231.3 154.14,231.4 154.31,232.4 154.48,232.8 154.65,232.2 154.82,232.8 154.99,233.4 155.16,233.1 155.33,233.0 155.50,232.3 155.67,233.9 155.84,233.7 156.01,233.6 156.18,233.4 156.35,233.2 156.52,233.8 156.69,233.8 156.86,234.4 157.03,233.5 157.20,234.7 157.37,234.2 157.54,234.7 157.71,233.8 157.88,234.5 158.05,234.9 158.22,234.5 158.39,233.8 158.56,234.3 158.73,234.8 158.90,233.9 159.07,233.9 159.24,234.7 159.41,234.2 159.58,235.0 159.75,234.2 159.92,233.9 160.09,234.4 160.26,235.5 160.43,234.4 160.60,234.8 160.77,234.9 160.94,234.4 161.11,235.4 161.28,235.0 161.45,235.1 161.62,234.1 161.79,234.1 161.96,233.7 162.13,234.8 162.30,234.8 162.47,235.3 162.64,235.6 162.81,234.8 162.98,234.8 163.15,235.1 163.32,235.6 163.49,234.5 163.66,235.2 163.83,234.8 164.00,234.7 164.17,235.2 164.34,234.4 164.51,234.2 164.68,234.8 164.85,234.2 165.02,233.6 165.19,232.9 165.36,232.2 165.53,230.6 165.70,230.0 165.87,229.5 166.04,230.3 166.21,230.8 166.38,231.1 166.55,231.2 166.72,232.1 166.89,232.6 167.06,234.9 167.23,234.0 167.40,234.7 167.57,235.3 167.74,234.2 167.91,234.6 168.08,234.8 168.25,234.6 168.42,234.5 168.59,234.9 168.76,235.7 168.93,235.5 169.10,235.2 169.27,235.2 169.44,234.5 169.61,235.6 169.78,235.5 169.95,234.8 170.12,235.4 170.29,235.2 170.46,235.1 170.63,234.9 170.80,235.0 170.97,234.9 171.14,235.6 171.31,235.5 171.48,235.5 171.65,235.3 171.82,235.2 171.99,236.3 172.16,234.6 172.33,236.0 172.50,235.6 172.67,235.5 172.84,235.2 173.01,235.3 173.18,234.9 173.35,234.8 173.52,235.4 173.69,234.7 173.86,235.8 174.03,236.0 174.20,233.9 174.37,234.8 174.54,235.6 174.71,235.6 174.88,235.5 175.05,235.7 175.22,235.8 175.39,235.9 175.56,236.3 175.73,235.5 175.90,235.9 176.07,234.8 176.24,235.4 176.41,235.0 176.58,236.1 176.75,236.6 176.92,235.8 177.09,234.9 177.26,235.5 177.43,235.5 177.60,235.6 177.77,236.0 177.94,235.9 178.11,234.3 178.28,236.1 178.45,235.3 178.62,235.3 178.79,236.2 178.96,235.4 179.13,234.9 179.30,234.9 179.47,235.6 179.64,235.9 179.81,236.2 179.98,235.5 180.15,235.3 180.32,236.3 180.49,235.3 180.66,236.2 180.83,235.6 181.00,235.7 181.17,235.4 181.34,235.7 181.51,235.3 181.68,235.2 181.85,235.5 182.02,235.3 182.19,235.7 182.36,235.6 182.53,235.4 182.70,235.5 182.87,235.5 183.04,236.3 183.21,235.6 183.38,235.3 183.55,235.4 183.72,235.9 183.89,235.5 184.06,235.5 184.23,235.4 184.40,235.6 184.57,235.7 184.74,235.8 184.91,234.8 185.08,235.1 185.25,234.4 185.42,235.9 185.59,236.1 185.76,236.1 185.93,235.6 186.10,236.1 186.27,235.5 186.44,235.5 186.61,234.9 186.78,235.2 186.95,235.3 187.12,236.0 187.29,236.3 187.46,235.3 187.63,235.7 187.80,235.7 187.97,235.2 188.14,234.8 188.31,235.2 188.48,234.9 188.65,235.4 188.82,235.5 188.99,235.5 189.16,235.5 189.33,235.8 189.50,235.1 189.67,235.9 189.84,234.8 190.01,235.6 190.18,235.7 190.35,235.2 190.52,234.8 190.69,235.8 190.86,235.2 191.03,235.9 191.20,235.9 191.37,235.5 191.54,235.5 191.71,236.0 191.88,235.7 192.05,235.1 192.22,235.6 192.39,235.8 192.56,235.6 192.73,235.6 192.90,235.4 193.07,235.4 193.24,235.1 193.41,234.8 193.58,236.0 193.75,235.2 193.92,235.6 194.09,234.8 194.26,235.5 194.43,235.1 194.60,236.8 194.77,235.0 194.94,235.0 195.11,235.8 195.28,235.9 195.45,234.4 195.62,235.4 195.79,235.6 195.96,234.6 196.13,235.4 196.30,234.7 196.47,234.2 196.64,234.2 196.81,233.6 196.98,232.6 197.15,233.7 197.32,232.0 197.49,231.7 197.66,232.6 197.83,232.4 198.00,233.3 198.17,232.9 198.34,233.5 198.51,233.8 198.68,234.2 198.85,234.4 199.02,234.7 199.19,235.7 199.36,234.8 199.53,234.9 199.70,235.1 199.87,235.5 200.04,235.5 200.21,235.7 200.38,234.7 200.55,235.5 200.72,235.3 200.89,235.2 201.06,235.4 201.23,234.5 201.40,235.5 201.57,235.5 201.74,234.8 201.91,235.4 202.08,236.1 202.25,235.2 202.42,235.7 202.59,235.3 202.76,235.0 202.93,235.0 203.10,235.2 203.27,236.0 203.44,235.7 203.61,235.1 203.78,235.8 203.95,235.3 204.12,235.0 204.29,235.5 204.46,234.9 204.63,234.6 204.80,235.9 204.97,234.5 205.14,235.5 205.31,234.6 205.48,235.3 205.65,235.2 205.82,235.1 205.99,234.3 206.16,235.2 206.33,235.2 206.50,234.8 206.67,235.1 206.84,235.6 207.01,234.8 207.18,235.2 207.35,234.5 207.52,235.2 207.69,235.3 207.86,236.1 208.03,235.3 208.20,235.1 208.37,235.4 208.54,234.3 208.71,235.2 208.88,234.4 209.05,234.3 209.22,235.0 209.39,234.5 209.56,234.9 209.73,233.5 209.90,234.2 210.07,233.6 210.24,233.6 210.41,232.6 210.58,233.6 210.75,233.0 210.92,232.0 211.09,231.2 211.26,230.3 211.43,229.6 211.60,225.8 211.77,220.9 211.94,214.4 212.11,206.0 212.28,199.0 212.45,196.5 212.62,198.8 212.79,203.4 212.96,205.9 213.13,208.5 213.30,210.9 213.47,215.3 213.64,220.1 213.81,224.3 213.98,227.7 214.15,230.5 214.32,231.2 214.49,231.7 214.66,233.1 214.83,233.6 215.00,233.4 215.17,233.8 215.34,233.5 215.51,234.0 215.68,234.7 215.85,234.7 216.02,234.5 216.19,234.4 216.36,233.9 216.53,234.8 216.70,234.9 216.87,235.3 217.04,235.7 217.21,235.1 217.38,235.4 217.55,234.5 217.72,235.5 217.89,235.4 218.06,235.7 218.23,235.4 218.40,235.3 218.57,235.8 218.74,234.9 218.91,235.5 219.08,235.7 219.25,234.9 219.42,234.8 219.59,235.5 219.76,235.4 219.93,235.6 220.10,235.6 220.27,235.0 220.44,235.5 220.61,235.9 220.78,235.2 220.95,235.3 221.12,234.9 221.29,235.8 221.46,236.3 221.63,234.8 221.80,235.7 221.97,235.8 222.14,235.2 222.31,235.3 222.48,235.0 222.65,235.1 222.82,235.5 222.99,235.7 223.16,235.5 223.33,235.8 223.50,235.5 223.67,234.9 223.84,236.1 224.01,236.0 224.18,235.1 224.35,236.2 224.52,235.6 224.69,235.5 224.86,236.3 225.03,234.3 225.20,234.7 225.37,235.7 225.54,235.2 225.71,234.9 225.88,235.9 226.05,235.3 226.22,234.3 226.39,234.3 226.56,234.7 226.73,234.7 226.90,232.8 227.07,233.7 227.24,233.5 227.41,233.0 227.58,233.9 227.75,233.4 227.92,234.0 228.09,235.2 228.26,234.9 228.43,235.2 228.60,235.3 228.77,235.4 228.94,235.7 229.11,234.9 229.28,235.3 229.45,235.8 229.62,235.1 229.79,235.3 229.96,236.0 230.13,236.2 230.30,235.3 230.47,235.2 230.64,235.8 230.81,235.7 230.98,235.3 231.15,235.8 231.32,235.8 231.49,235.6 231.66,236.9 231.83,236.2 232.00,235.9 232.17,236.0 232.34,236.9 232.51,236.1 232.68,235.3 232.85,235.7 233.02,235.6 233.19,235.3 233.36,235.7 233.53,235.7 233.70,235.6 233.87,235.4 234.04,236.0 234.21,234.9 234.38,236.0 234.55,235.6 234.72,235.7 234.89,234.6 235.06,236.3 235.23,234.8 235.40,235.2 235.57,235.9 235.74,235.3 235.91,235.4 236.08,234.6 236.25,235.4 236.42,235.7 236.59,235.9 236.76,235.5 236.93,235.7 237.10,235.8 237.27,235.3 237.44,235.3 237.61,236.5 237.78,235.2 237.95,236.2 238.12,235.6 238.29,236.3 238.46,235.3 238.63,235.8 238.80,235.8 238.97,235.5 239.14,235.8 239.31,235.3 239.48,235.6 239.65,235.4 239.82,236.0 239.99,235.6 240.16,235.0 240.33,235.5 240.50,235.6 240.67,235.2 240.84,236.2 241.01,235.8 241.18,236.0 241.35,235.3 241.52,235.4 241.69,236.1 241.86,235.0 242.03,235.8 242.20,235.7 242.37,235.4 242.54,235.7 242.71,235.1 242.88,235.7 243.05,235.1 243.22,235.1 243.39,236.2 243.56,235.3 243.73,234.7 243.90,236.0 244.07,235.3 244.24,234.1 244.41,235.6 244.58,236.0 244.75,235.8 244.92,236.4 245.09,235.6 245.26,235.9 245.43,235.2 245.60,235.7 245.77,236.3 245.94,235.8 246.11,235.7 246.28,234.7 246.45,235.4 246.62,235.0 246.79,235.9 246.96,235.3 247.13,235.8 247.30,235.2 247.47,236.4 247.64,235.1 247.81,235.7 247.98,236.8 248.15,235.7 248.32,235.2 248.49,235.9 248.66,236.0 248.83,236.0 249.00,234.7 249.17,235.7 249.34,234.6 249.51,236.4 249.68,235.6 249.85,235.4 250.02,235.9 250.19,235.8 250.36,235.0 250.53,236.3 250.70,235.5 250.87,234.8 251.04,236.2 251.21,236.2 251.38,236.1 251.55,235.8 251.72,235.1 251.89,236.0 252.06,236.4 252.23,235.9 252.40,236.2 252.57,235.2 252.74,236.0 252.91,235.9 253.08,234.9 253.25,234.8 253.42,235.2 253.59,235.5 253.76,235.7 253.93,235.4 254.10,235.5 254.27,235.4 254.44,235.5 254.61,235.7 254.78,235.7 254.95,235.4 255.12,235.6 255.29,235.2 255.46,235.8 255.63,235.2 255.80,236.2 255.97,235.4 256.14,235.5 256.31,235.1 256.48,235.2 256.65,235.5 256.82,235.4 256.99,235.1 257.16,234.8 257.33,235.4 257.50,235.4 257.67,235.6 257.84,235.9 258.01,235.2 258.18,234.4 258.35,235.2 258.52,234.4 258.69,234.7 258.86,235.7 259.03,235.5 259.20,234.9 259.37,234.9 259.54,235.1 259.71,234.3 259.88,235.3 260.05,234.9 260.22,235.9 260.39,234.5 260.56,235.4 260.73,234.6 260.90,235.4 261.07,234.4 261.24,235.1 261.41,234.6 261.58,234.4 261.75,234.6 261.92,234.8 262.09,234.7 262.26,235.2 262.43,234.8 262.60,233.1 262.77,234.0 262.94,233.2 263.11,233.8 263.28,234.2 263.45,233.1 263.62,233.1 263.79,233.5 263.96,233.1 264.13,233.7 264.30,232.9 264.47,232.7 264.64,232.9 264.81,231.4 264.98,231.1 265.15,230.0 265.32,229.6 265.49,228.6 265.66,226.4 265.83,222.0 266.00,215.7 266.17,207.0 266.34,195.3 266.51,183.3 266.68,173.5 266.85,168.2 267.02,172.2 267.19,181.1 267.36,186.0 267.53,190.4 267.70,191.8 267.87,196.0 268.04,201.9 268.21,208.9 268.38,216.0 268.55,221.2 268.72,225.4 268.89,228.6 269.06,229.9 269.23,230.2 269.40,230.9 269.57,231.7 269.74,232.1 269.91,232.6 270.08,232.6 270.25,233.4 270.42,233.3 270.59,233.6 270.76,233.6 270.93,234.1 271.10,233.4 271.27,234.7 271.44,234.3 271.61,234.4 271.78,234.6 271.95,234.9 272.12,234.8 272.29,234.6 272.46,234.5 272.63,233.9 272.80,234.8 272.97,234.6 273.14,234.6 273.31,235.9 273.48,234.0 273.65,234.9 273.82,235.4 273.99,235.4 274.16,235.5 274.33,234.4 274.50,234.6 274.67,235.3 274.84,234.9 275.01,235.8 275.18,235.1 275.35,235.1 275.52,235.2 275.69,234.9 275.86,235.1 276.03,234.7 276.20,235.0 276.37,234.8 276.54,235.1 276.71,234.4 276.88,234.3 277.05,235.1 277.22,235.0 277.39,234.4 277.56,234.6 277.73,234.2 277.90,235.4 278.07,233.4 278.24,234.4 278.41,232.3 278.58,231.5 278.75,229.5 278.92,227.7 279.09,227.4 279.26,227.8 279.43,228.4 279.60,229.3 279.77,231.2 279.94,231.0 280.11,230.5 280.28,230.7 280.45,231.9 280.62,232.8 280.79,234.1 280.96,233.7 281.13,234.5 281.30,234.4 281.47,235.5 281.64,235.8 281.81,235.0 281.98,235.4 282.15,235.8 282.32,235.1 282.49,234.8 282.66,235.8 282.83,235.5 283.00,235.2 283.17,236.0 283.34,235.5 283.51,234.6 283.68,235.6 283.85,235.4 284.02,236.3 284.19,235.4 284.36,235.4 284.53,235.7 284.70,235.6 284.87,234.8 285.04,235.5 285.21,235.4 285.38,236.1 285.55,236.6 285.72,235.0 285.89,235.1 286.06,235.2 286.23,235.2 286.40,235.2 286.57,235.6 286.74,236.0 286.91,235.0 287.08,234.9 287.25,234.7 287.42,236.1 287.59,236.2 287.76,234.9 287.93,234.8 288.10,235.6 288.27,236.1 288.44,236.0 288.61,235.7 288.78,235.9 288.95,235.7 289.12,235.3 289.29,236.5 289.46,235.6 289.63,235.1 289.80,235.4 289.97,234.9 290.14,235.6 290.31,236.1 290.48,235.0 290.65,236.1 290.82,236.6 290.99,235.8 291.16,235.1 291.33,235.2 291.50,235.5 291.67,235.0 291.84,235.1 292.01,235.5 292.18,235.5 292.35,235.9 292.52,235.1 292.69,236.5 292.86,236.1 293.03,236.0 293.20,235.3 293.37,236.4 293.54,235.5 293.71,236.5 293.88,236.1 294.05,235.2 294.22,235.4 294.39,236.5 294.56,236.1 294.73,235.6 294.90,235.7 295.07,235.7 295.24,235.3 295.41,235.6 295.58,235.3 295.75,235.4 295.92,235.9 296.09,235.2 296.26,236.0 296.43,235.7 296.60,236.0 296.77,236.0 296.94,236.2 297.11,235.9 297.28,236.0 297.45,235.6 297.62,235.9 297.79,235.2 297.96,235.5 298.13,236.0 298.30,235.6 298.47,235.8 298.64,235.2 298.81,236.3 298.98,235.4 299.15,235.8 299.32,235.6 299.49,236.1 299.66,235.5 299.83,235.2 300.00,234.8 300.17,235.5 300.34,235.1 300.51,235.9 300.68,236.3 300.85,234.6 301.02,235.1 301.19,235.8 301.36,236.2 301.53,235.8 301.70,235.8 301.87,235.9 302.04,235.9 302.21,236.4 302.38,235.9 302.55,235.1 302.72,235.4 302.89,235.7 303.06,235.3 303.23,235.5 303.40,235.4 303.57,235.3 303.74,235.9 303.91,235.5 304.08,235.1 304.25,235.3 304.42,235.6 304.59,236.6 304.76,235.7 304.93,236.3 305.10,235.8 305.27,234.6 305.44,235.8 305.61,235.2 305.78,235.0 305.95,235.1 306.12,236.4 306.29,234.9 306.46,235.3 306.63,236.1 306.80,235.9 306.97,234.8 307.14,235.5 307.31,235.4 307.48,235.5 307.65,235.9 307.82,235.3 307.99,235.4 308.16,236.2 308.33,234.7 308.50,235.4 308.67,235.8 308.84,235.0 309.01,235.3 309.18,235.0 309.35,235.6 309.52,235.3 309.69,235.9 309.86,236.0 310.03,235.5 310.20,235.3 310.37,235.6 310.54,235.5 310.71,234.9 310.88,236.0 311.05,235.6 311.22,235.8 311.39,234.8 311.56,235.8 311.73,236.4 311.90,235.7 312.07,234.7 312.24,235.4 312.41,235.3 312.58,235.4 312.75,235.2 312.92,235.5 313.09,235.0 313.26,235.3 313.43,234.8 313.60,235.1 313.77,235.4 313.94,234.7 314.11,235.1 314.28,234.3 314.45,234.4 314.62,234.3 314.79,234.8 314.96,233.5 315.13,233.8 315.30,231.5 315.47,230.5 315.64,228.8 315.81,226.0 315.98,222.6 316.15,220.8 316.32,221.9 316.49,222.5 316.66,225.2 316.83,226.0 317.00,226.8 317.17,227.9 317.34,227.7 317.51,228.1 317.68,228.5 317.85,230.8 318.02,232.0 318.19,233.0 318.36,234.3 318.53,233.4 318.70,234.6 318.87,234.7 319.04,234.4 319.21,235.6 319.38,234.3 319.55,235.0 319.72,235.1 319.89,234.1 320.06,234.5 320.23,234.7 320.40,235.5 320.57,235.6 320.74,235.5 320.91,235.4 321.08,234.3 321.25,235.4 321.42,235.1 321.59,235.8 321.76,235.9 321.93,236.3 322.10,235.6 322.27,235.7 322.44,234.9 322.61,235.4 322.78,234.8 322.95,235.7 323.12,234.8 323.29,235.2 323.46,234.9 323.63,235.1 323.80,235.5 323.97,235.0 324.14,235.3 324.31,234.8 324.48,235.8 324.65,234.9 324.82,235.6 324.99,236.0 325.16,233.9 325.33,234.5 325.50,234.8 325.67,235.3 325.84,234.3 326.01,234.4 326.18,233.4 326.35,233.2 326.52,231.2 326.69,230.6 326.86,227.0 327.03,225.8 327.20,226.7 327.37,226.4 327.54,227.1 327.71,229.8 327.88,230.1 328.05,230.4 328.22,229.6 328.39,230.1 328.56,230.6 328.73,230.6 328.90,232.6 329.07,233.2 329.24,234.5 329.41,235.0 329.58,234.4 329.75,234.6 329.92,235.0 330.09,235.3 330.26,234.9 330.43,235.1 330.60,235.5 330.77,235.4 330.94,235.8 331.11,235.4 331.28,234.9 331.45,234.5 331.62,235.7 331.79,235.2 331.96,235.2 332.13,235.3 332.30,234.7 332.47,235.3 332.64,234.3 332.81,235.3 332.98,235.1 333.15,236.3 333.32,235.7 333.49,235.4 333.66,235.6 333.83,235.8 334.00,235.2 334.17,235.4 334.34,235.4 334.51,236.7 334.68,235.6 334.85,234.6 335.02,235.9 335.19,236.7 335.36,235.1 335.53,237.2 335.70,235.5 335.87,236.0 336.04,235.3 336.21,235.4 336.38,235.0 336.55,235.1 336.72,234.6 336.89,236.1 337.06,235.0 337.23,235.7 337.40,235.7 337.57,235.3 337.74,235.6 337.91,235.5 338.08,235.3 338.25,235.6 338.42,235.6 338.59,235.1 338.76,235.0 338.93,235.2 339.10,235.6 339.27,236.2 339.44,236.2 339.61,235.7 339.78,236.0 339.95,235.6 340.12,236.1 340.29,235.6 340.46,235.7 340.63,235.4 340.80,235.6 340.97,236.4 341.14,235.0 341.31,235.6 341.48,235.3 341.65,236.0 341.82,236.4 341.99,235.4 342.16,234.3 342.33,235.8 342.50,235.8 342.67,234.8 342.84,235.4 343.01,235.5 343.18,234.5 343.35,235.9 343.52,235.7 343.69,235.6 343.86,235.0 344.03,235.2 344.20,235.2 344.37,235.7 344.54,235.1 344.71,236.2 344.88,235.7 345.05,234.5 345.22,236.3 345.39,235.6 345.56,235.2 345.73,235.5 345.90,234.6 346.07,235.6 346.24,234.3 346.41,235.0 346.58,236.1 346.75,236.1 346.92,235.3 347.09,235.0 347.26,235.9 347.43,235.4 347.60,235.5 347.77,235.7 347.94,234.9 348.11,235.8 348.28,234.4 348.45,236.1 348.62,234.7 348.79,235.1 348.96,235.1 349.13,235.7 349.30,235.7 349.47,235.5 349.64,235.6 349.81,235.6 349.98,235.3 350.15,234.4 350.32,234.3 350.49,234.2 350.66,235.3 350.83,235.2 351.00,235.2 351.17,235.4 351.34,235.2 351.51,234.8 351.68,234.5 351.85,234.3 352.02,235.8 352.19,235.6 352.36,234.5 352.53,235.0 352.70,235.3 352.87,235.9 353.04,234.8 353.21,235.2 353.38,235.6 353.55,234.2 353.72,234.7 353.89,235.0 354.06,234.6 354.23,235.9 354.40,235.3 354.57,235.0 354.74,234.4 354.91,235.2 355.08,235.0 355.25,234.5 355.42,234.5 355.59,233.9 355.76,234.5 355.93,234.9 356.10,234.9 356.27,234.6 356.44,234.7 356.61,233.9 356.78,233.9 356.95,234.6 357.12,234.2 357.29,233.5 357.46,233.9 357.63,234.0 357.80,233.8 357.97,233.3 358.14,232.9 358.31,233.1 358.48,233.5 358.65,232.5 358.82,231.8 358.99,232.0 359.16,230.9 359.33,231.1 359.50,230.3 359.67,230.3 359.84,229.1 360.01,228.6 360.18,227.8 360.35,224.5 360.52,220.9 360.69,216.2 360.86,207.6 361.03,195.7 361.20,179.8 361.37,163.0 361.54,147.8 361.71,140.3 361.88,146.1 362.05,158.4 362.22,171.1 362.39,178.8 362.56,182.0 362.73,182.3 362.90,180.0 363.07,182.1 363.24,188.8 363.41,198.1 363.58,206.9 363.75,214.0 363.92,220.7 364.09,224.0 364.26,226.5 364.43,229.3 364.60,229.8 364.77,229.7 364.94,230.6 365.11,231.2 365.28,231.3 365.45,231.2 365.62,232.7 365.79,233.0 365.96,233.0 366.13,232.9 366.30,233.3 366.47,233.7 366.64,233.1 366.81,233.5 366.98,233.6 367.15,234.3 367.32,234.1 367.49,233.5 367.66,233.9 367.83,235.1 368.00,233.9 368.17,234.5 368.34,234.2 368.51,235.1 368.68,234.6 368.85,234.4 369.02,234.1 369.19,234.6 369.36,235.2 369.53,235.1 369.70,234.2 369.87,235.6 370.04,234.8 370.21,234.5 370.38,235.0 370.55,234.7 370.72,234.8 370.89,234.8 371.06,235.0 371.23,234.9 371.40,234.3 371.57,235.4 371.74,234.9 371.91,235.7 372.08,235.4 372.25,235.5 372.42,235.3 372.59,235.8 372.76,235.1 372.93,234.8 373.10,235.4 373.27,234.0 373.44,235.1 373.61,235.4 373.78,235.1 373.95,235.9 374.12,235.7 374.29,235.4 374.46,235.2 374.63,235.9 374.80,235.1 374.97,235.2 375.14,235.7 375.31,235.7 375.48,236.4 375.65,235.3 375.82,234.5 375.99,235.7 376.16,236.0 376.33,235.4 376.50,236.2 376.67,236.3 376.84,235.1 377.01,235.2 377.18,234.9 377.35,235.7 377.52,235.8 377.69,235.8 377.86,234.9 378.03,235.1 378.20,234.8 378.37,234.7 378.54,234.9 378.71,234.8 378.88,235.4 379.05,235.7 379.22,235.8 379.39,235.5 379.56,235.2 379.73,235.5 379.90,235.8 380.07,235.4 380.24,235.6 380.41,235.4 380.58,235.3 380.75,235.6 380.92,235.0 381.09,236.0 381.26,234.8 381.43,235.8 381.60,234.9 381.77,236.3 381.94,236.0 382.11,235.2 382.28,235.3 382.45,235.0 382.62,235.5 382.79,235.8 382.96,236.8 383.13,234.9 383.30,236.1 383.47,235.3 383.64,235.7 383.81,236.0 383.98,235.8 384.15,235.8 384.32,235.5 384.49,235.6 384.66,235.7 384.83,236.1 385.00,234.9 385.17,235.4 385.34,235.0 385.51,235.1 385.68,235.2 385.85,236.1 386.02,236.6 386.19,236.2 386.36,235.0 386.53,235.6 386.70,235.1 386.87,235.8 387.04,236.2 387.21,235.9 387.38,236.0 387.55,235.5 387.72,234.7 387.89,234.7 388.06,235.6 388.23,235.9 388.40,236.2 388.57,235.4 388.74,235.6 388.91,235.7 389.08,236.1 389.25,235.6 389.42,235.1 389.59,236.1 389.76,235.8 389.93,235.8 390.10,235.0 390.27,235.6 390.44,234.8 390.61,234.7 390.78,235.5 390.95,235.4 391.12,235.9 391.29,236.3 391.46,235.6 391.63,236.4 391.80,235.3 391.97,236.0 392.14,235.0 392.31,235.7 392.48,235.5 392.65,235.5 392.82,235.9 392.99,234.8 393.16,235.7 393.33,235.3 393.50,235.7 393.67,235.8 393.84,235.5 394.01,235.5 394.18,235.1 394.35,235.9 394.52,235.3 394.69,235.8 394.86,235.0 395.03,236.3 395.20,235.2 395.37,236.2 395.54,235.4 395.71,235.9 395.88,235.6 396.05,235.9 396.22,235.6 396.39,236.2 396.56,235.9 396.73,235.9 396.90,236.4 397.07,235.3 397.24,236.2 397.41,235.7 397.58,235.0 397.75,235.9 397.92,235.5 398.09,236.4 398.26,235.4 398.43,235.7 398.60,235.7 398.77,234.8 398.94,235.9 399.11,235.2 399.28,236.3 399.45,236.4 399.62,235.6 399.79,234.9 399.96,235.7 400.13,235.7 400.30,236.0 400.47,235.5 400.64,235.1 400.81,235.6 400.98,235.2 401.15,236.5 401.32,235.3 401.49,235.3 401.66,235.6 401.83,235.1 402.00,235.4 402.17,235.6 402.34,235.4 402.51,235.5 402.68,236.2 402.85,235.8 403.02,235.0 403.19,235.4 403.36,236.0 403.53,235.3 403.70,235.7 403.87,235.6 404.04,235.9 404.21,235.5 404.38,235.6 404.55,235.2 404.72,235.8 404.89,235.2 405.06,236.4 405.23,235.6 405.40,235.5 405.57,236.0 405.74,235.6 405.91,235.7 406.08,235.6 406.25,235.3 406.42,235.2 406.59,235.3 406.76,236.1 406.93,235.3 407.10,235.4 407.27,235.4 407.44,235.9 407.61,236.5 407.78,235.2 407.95,235.8 408.12,235.6 408.29,235.5 408.46,235.8 408.63,235.0 408.80,236.0 408.97,235.7 409.14,235.1 409.31,236.3 409.48,235.9 409.65,236.1 409.82,234.9 409.99,235.4 410.16,235.3 410.33,235.8 410.50,236.1 410.67,234.6 410.84,235.5 411.01,235.4 411.18,235.8 411.35,235.3 411.52,234.7 411.69,235.1 411.86,234.6 412.03,234.4 412.20,234.5 412.37,233.7 412.54,233.5 412.71,232.1 412.88,233.4 413.05,232.7 413.22,232.8 413.39,232.3 413.56,232.4 413.73,233.3 413.90,233.8 414.07,234.9 414.24,234.3 414.41,233.4 414.58,234.3 414.75,234.5 414.92,234.3 415.09,235.2 415.26,235.0 415.43,234.8 415.60,234.7 415.77,235.3 415.94,235.8 416.11,234.8 416.28,234.7 416.45,235.7 416.62,234.2 416.79,236.3 416.96,235.3 417.13,235.9 417.30,236.4 417.47,234.9 417.64,235.1 417.81,236.6 417.98,235.4 418.15,235.5 418.32,235.7 418.49,236.1 418.66,236.2 418.83,235.6 419.00,235.4 419.17,235.6 419.34,235.7 419.51,236.2 419.68,235.7 419.85,236.4 420.02,235.2 420.19,235.9 420.36,236.4 420.53,236.2 420.70,235.8 420.87,235.2 421.04,235.3 421.21,235.5 421.38,235.8 421.55,235.5 421.72,234.9 421.89,235.3 422.06,235.9 422.23,236.0 422.40,235.0 422.57,235.5 422.74,234.8 422.91,235.4 423.08,237.2 423.25,235.6 423.42,235.5 423.59,235.3 423.76,235.1 423.93,234.8 424.10,235.6 424.27,235.5 424.44,236.3 424.61,234.9 424.78,235.8 424.95,236.2 425.12,234.7 425.29,235.9 425.46,234.9 425.63,235.9 425.80,236.3 425.97,235.6 426.14,235.7 426.31,235.3 426.48,235.7 426.65,236.1 426.82,235.5 426.99,235.5 427.16,235.8 427.33,236.0 427.50,234.9 427.67,235.6 427.84,235.3 428.01,235.8 428.18,236.1 428.35,235.8 428.52,236.2 428.69,235.1 428.86,235.4 429.03,235.1 429.20,235.6 429.37,235.6 429.54,235.5 429.71,235.0 429.88,235.6 430.05,235.4 430.22,235.9 430.39,235.5 430.56,236.1 430.73,235.7 430.90,234.7 431.07,235.5 431.24,234.9 431.41,236.0 431.58,236.2 431.75,235.6 431.92,235.8 432.09,234.9 432.26,234.5 432.43,235.3 432.60,235.4 432.77,234.9 432.94,235.6 433.11,235.7 433.28,235.9 433.45,236.3 433.62,235.9 433.79,235.4 433.96,235.6 434.13,235.8 434.30,235.1 434.47,236.1 434.64,235.9 434.81,235.4 434.98,235.2 435.15,237.3 435.32,235.9 435.49,235.9 435.66,236.3 435.83,235.9 436.00,235.6 436.17,235.8 436.34,235.1 436.51,235.8 436.68,234.7 436.85,235.6 437.02,235.7 437.19,234.7 437.36,236.3 437.53,234.9 437.70,235.9 437.87,235.2 438.04,235.5 438.21,235.1 438.38,236.5 438.55,235.8 438.72,236.2 438.89,235.7 439.06,235.6 439.23,235.4 439.40,235.2 439.57,235.5 439.74,235.3 439.91,235.1 440.08,234.5 440.25,235.0 440.42,235.4 440.59,234.9 440.76,235.2 440.93,235.0 441.10,234.5 441.27,234.5 441.44,234.6 441.61,234.7 441.78,234.7 441.95,235.2 442.12,234.2 442.29,233.6 442.46,234.8 442.63,234.2 442.80,234.2 442.97,235.3 443.14,234.7 443.31,234.1 443.48,234.1 443.65,233.5 443.82,233.5 443.99,232.4 444.16,231.9 444.33,231.2 444.50,230.9 444.67,228.6 444.84,223.8 445.01,218.6 445.18,209.9 445.35,201.6 445.52,194.5 445.69,195.1 445.86,200.9 446.03,209.1 446.20,216.2 446.37,220.5 446.54,221.4 446.71,219.6 446.88,217.8 447.05,213.6 447.22,212.0 447.39,214.2 447.56,218.4 447.73,223.9 447.90,228.4 448.07,229.4 448.24,231.5 448.41,231.6 448.58,233.5 448.75,233.6 448.92,233.8 449.09,234.5 449.26,234.8 449.43,234.7 449.60,234.0 449.77,233.8 449.94,234.0 450.11,233.8 450.28,235.5 450.45,234.6 450.62,234.8 450.79,234.9 450.96,235.8 451.13,234.6 451.30,235.5 451.47,235.1 451.64,234.9 451.81,234.1 451.98,235.4 452.15,234.7 452.32,234.8 452.49,235.1 452.66,235.0 452.83,235.4 453.00,234.4 453.17,234.6 453.34,234.3 453.51,233.8 453.68,233.7 453.85,232.9 454.02,233.5 454.19,232.7 454.36,232.8 454.53,233.8 454.70,234.7 454.87,234.1 455.04,234.1 455.21,234.1 455.38,234.2 455.55,234.0 455.72,234.3 455.89,233.5 456.06,235.2 456.23,235.0 456.40,234.6 456.57,235.8 456.74,235.4 456.91,236.0 457.08,234.8 457.25,236.1 457.42,235.4 457.59,234.5 457.76,235.8 457.93,235.3 458.10,235.0 458.27,235.4 458.44,234.6 458.61,235.8 458.78,235.4 458.95,235.4 459.12,236.2 459.29,235.5 459.46,235.2 459.63,235.1 459.80,235.5 459.97,236.0 460.14,235.3 460.31,235.1 460.48,236.0 460.65,235.6 460.82,235.6 460.99,236.5 461.16,235.0 461.33,235.7 461.50,234.8 461.67,235.5 461.84,235.9 462.01,236.1 462.18,235.0 462.35,236.0 462.52,236.0 462.69,235.5 462.86,236.7 463.03,235.6 463.20,235.2 463.37,235.8 463.54,234.8 463.71,236.3 463.88,236.1 464.05,235.4 464.22,235.9 464.39,235.9 464.56,236.5 464.73,235.3 464.90,235.0 465.07,234.7 465.24,235.5 465.41,234.9 465.58,235.5 465.75,235.8 465.92,235.4 466.09,235.2 466.26,236.2 466.43,235.5 466.60,235.7 466.77,236.1 466.94,235.0 467.11,235.2 467.28,236.8 467.45,235.6 467.62,235.2 467.79,235.5 467.96,235.4 468.13,235.1 468.30,235.5 468.47,235.6 468.64,235.6 468.81,235.9 468.98,234.8 469.15,235.0 469.32,236.0 469.49,235.4 469.66,236.2 469.83,235.8 470.00,235.0 470.17,235.9 470.34,235.2 470.51,235.8 470.68,236.2 470.85,236.6 471.02,235.6 471.19,236.0 471.36,235.8 471.53,236.0 471.70,234.5 471.87,235.5 472.04,235.8 472.21,235.9 472.38,235.3 472.55,236.0 472.72,236.2 472.89,235.7 473.06,235.5 473.23,235.5 473.40,235.7 473.57,236.2 473.74,236.3 473.91,235.4 474.08,235.2 474.25,235.3 474.42,236.1 474.59,235.7 474.76,235.8 474.93,235.9 475.10,235.8 475.27,235.6 475.44,235.2 475.61,235.3 475.78,235.7 475.95,235.8 476.12,235.5 476.29,235.4 476.46,236.3 476.63,235.4 476.80,235.7 476.97,235.5 477.14,235.2 477.31,234.9 477.48,235.4 477.65,235.2 477.82,236.0 477.99,235.1 478.16,235.4 478.33,235.9 478.50,235.5 478.67,235.8 478.84,236.0 479.01,234.8 479.18,235.4 479.35,235.1 479.52,236.2 479.69,235.5 479.86,235.8 480.03,236.3 480.20,235.4 480.37,235.6 480.54,235.7 480.71,235.4 480.88,236.1 481.05,235.9 481.22,236.0 481.39,235.5 481.56,235.3 481.73,235.3 481.90,235.3 482.07,234.7 482.24,235.6 482.41,235.7 482.58,235.3 482.75,235.1 482.92,235.3 483.09,235.3 483.26,235.3 483.43,235.9 483.60,234.6 483.77,235.1 483.94,235.1 484.11,234.6 484.28,234.1 484.45,233.2 484.62,232.6 484.79,232.2 484.96,231.2 485.13,228.9 485.30,228.2 485.47,227.6 485.64,228.1 485.81,228.6 485.98,229.9 486.15,231.1 486.32,231.0 486.49,231.9 486.66,231.1 486.83,230.7 487.00,230.9 487.17,230.3 487.34,231.4 487.51,232.1 487.68,232.2 487.85,233.0 488.02,233.6 488.19,234.0 488.36,234.6 488.53,234.9 488.70,234.7 488.87,234.7 489.04,234.9 489.21,235.5 489.38,235.0 489.55,235.9 489.72,235.2 489.89,235.9 490.06,234.8 490.23,235.0 490.40,235.6 490.57,235.6 490.74,235.3 490.91,236.3 491.08,235.4 491.25,235.5 491.42,235.1 491.59,236.1 491.76,235.7 491.93,235.5 492.10,234.6 492.27,235.5 492.44,235.0 492.61,235.4 492.78,235.6 492.95,234.7 493.12,235.0 493.29,235.0 493.46,234.2 493.63,233.4 493.80,232.4 493.97,231.8 494.14,230.8 494.31,231.6 494.48,231.5 494.65,231.5 494.82,232.8 494.99,232.8 495.16,232.3 495.33,234.5 495.50,234.4 495.67,233.0 495.84,233.0 496.01,233.3 496.18,233.1 496.35,233.2 496.52,233.7 496.69,234.3 496.86,234.5 497.03,235.1 497.20,235.0 497.37,234.9 497.54,235.3 497.71,234.6 497.88,236.1 498.05,234.7 498.22,235.4 498.39,235.6 498.56,235.7 498.73,235.6 498.90,236.1 499.07,235.0 499.24,235.5 499.41,235.6 499.58,235.3 499.75,235.3 499.92,236.2 500.09,235.3 500.26,235.4 500.43,235.5 500.60,235.5 500.77,235.7 500.94,235.5 501.11,235.8 501.28,235.7 501.45,235.8 501.62,236.2 501.79,235.2 501.96,236.4 502.13,235.4 502.30,235.9 502.47,235.7 502.64,235.5 502.81,234.8 502.98,236.4 503.15,235.3 503.32,235.3 503.49,236.1 503.66,235.7 503.83,236.5 504.00,236.4 504.17,236.0 504.34,235.8 504.51,236.0 504.68,235.1 504.85,235.7 505.02,235.7 505.19,235.5 505.36,235.8 505.53,235.0 505.70,236.1 505.87,236.2 506.04,235.1 506.21,235.7 506.38,236.4 506.55,235.9 506.72,235.2 506.89,235.2 507.06,236.1 507.23,236.5 507.40,235.2 507.57,235.7 507.74,235.3 507.91,235.5 508.08,235.8 508.25,235.7 508.42,235.4 508.59,236.6"/></g>
<g stroke="#000" stroke-width="1.9"  stroke-dasharray="8.2 8.70"><line x1="67.8" y1="131" x2="67.3" y2="353.5" stroke-dashoffset="3.50"/><line x1="90.5" y1="212.4" x2="89.9" y2="353.5" stroke-dashoffset="0.00"/><line x1="149.9" y1="30.5" x2="149.2" y2="353.5" stroke-dashoffset="3.80"/><line x1="166.6" y1="210.1" x2="166.0" y2="353.5" stroke-dashoffset="0.00"/><line x1="212.7" y1="178.3" x2="211.0" y2="353.5" stroke-dashoffset="0.00"/><line x1="266.9" y1="129" x2="267.0" y2="353.5" stroke-dashoffset="3.90"/><line x1="279.2" y1="195.1" x2="279.2" y2="353.5" stroke-dashoffset="0.00"/><line x1="361.2" y1="106.8" x2="361.8" y2="353.5" stroke-dashoffset="0.00"/><line x1="413.1" y1="193.1" x2="413.1" y2="353.5" stroke-dashoffset="0.00"/><line x1="445.3" y1="159.3" x2="444.7" y2="353.5" stroke-dashoffset="0.00"/></g>
<rect x="44.8" y="14" width="463.7" height="340" fill="none" stroke="#000" stroke-width="2"/>
<g stroke="#000" stroke-width="1.8"><line x1="44.5" y1="354" x2="44.5" y2="360.5"/><line x1="86.7" y1="354" x2="86.7" y2="357.5"/><line x1="128.9" y1="354" x2="128.9" y2="360.5"/><line x1="171.0" y1="354" x2="171.0" y2="357.5"/><line x1="213.2" y1="354" x2="213.2" y2="360.5"/><line x1="255.4" y1="354" x2="255.4" y2="357.5"/><line x1="297.6" y1="354" x2="297.6" y2="360.5"/><line x1="339.8" y1="354" x2="339.8" y2="357.5"/><line x1="381.9" y1="354" x2="381.9" y2="360.5"/><line x1="424.1" y1="354" x2="424.1" y2="357.5"/><line x1="466.3" y1="354" x2="466.3" y2="360.5"/><line x1="508.5" y1="354" x2="508.5" y2="357.5"/></g>
<g font-family="'Liberation Sans', Arial, sans-serif" font-weight="bold" font-size="15.3" letter-spacing="0.52" fill="#000" stroke="#000" stroke-width="0.35"><text x="49.2" y="125.7">(101)</text><text x="74.1" y="207.4">(111)</text><text x="130.7" y="29.2">(121)</text><text x="151.3" y="205.2">(210)</text><text x="194.2" y="175.2">(220)</text><text x="245.2" y="124.6">(202)</text><text x="270.7" y="189.3">(230)</text><text x="307.7" y="215.2">(141)</text><text x="341.6" y="105.9">(240)</text><text x="392.4" y="188.5">(115)</text><text x="425.2" y="157.1">(242)</text><text x="468.2" y="221.5">(204)</text></g>
<g font-family="'Liberation Sans', Arial, sans-serif" font-weight="bold" font-size="20.8" fill="#000" stroke="#000" stroke-width="0.35"><text x="44.5" y="382.3" text-anchor="middle">20</text><text x="128.9" y="382.3" text-anchor="middle">30</text><text x="213.2" y="382.3" text-anchor="middle">40</text><text x="297.6" y="382.3" text-anchor="middle">50</text><text x="381.9" y="382.3" text-anchor="middle">60</text><text x="466.3" y="382.3" text-anchor="middle">70</text></g>
<g font-family="'Liberation Sans', Arial, sans-serif" font-weight="bold" font-size="18" letter-spacing="0.68"><line x1="408" y1="26.6" x2="446" y2="26.6" stroke="#ff0000" stroke-width="2.8"/><text x="451" y="32.2" fill="#ff0000" stroke="#ff0000" stroke-width="0.35">S-700</text><line x1="408" y1="50.8" x2="446" y2="50.8" stroke="#0000ff" stroke-width="2.8"/><text x="451" y="56.4" fill="#0000ff" stroke="#0000ff" stroke-width="0.35">S-800</text><line x1="408" y1="75.0" x2="446" y2="75.0" stroke="#008000" stroke-width="2.8"/><text x="451" y="80.6" fill="#008000" stroke="#008000" stroke-width="0.35">S-850</text><line x1="408" y1="99.2" x2="446" y2="99.2" stroke="#000000" stroke-width="2.8"/><text x="451" y="104.8" fill="#000000" stroke="#000000" stroke-width="0.35">S-900</text></g>
<text x="224.5" y="407" font-family="'Liberation Sans', Arial, sans-serif" font-size="26" fill="#000" stroke="#000" stroke-width="0.3"><tspan font-weight="bold">2</tspan><tspan>θ</tspan><tspan font-weight="bold"> (°)</tspan></text>
<text transform="translate(28.6,277.5) rotate(-90)" x="0" y="0" font-family="'Liberation Sans', Arial, sans-serif" font-weight="bold" font-size="27.4" fill="#000" stroke="#000" stroke-width="0.3">intensity (a.u.)</text>
</svg></body></html>
